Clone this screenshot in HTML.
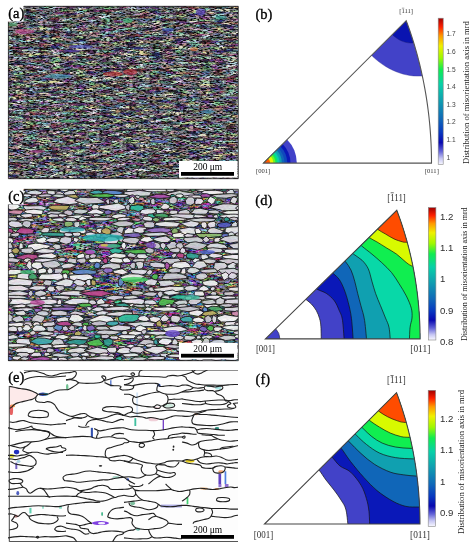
<!DOCTYPE html>
<html><head><meta charset="utf-8"><title>figure</title>
<style>html,body{margin:0;padding:0;background:#fff;}body{width:474px;height:550px;overflow:hidden;position:relative;}svg{position:absolute;left:0;top:0;display:block;}</style>
</head><body>
<svg width="474" height="550" viewBox="0 0 474 550"><defs><clipPath id="cb"><path d="M263.5,163.1 L431.5,163.1 L431.49,159.81 L431.45,156.52 L431.38,153.22 L431.29,149.92 L431.18,146.62 L431.03,143.32 L430.86,140 L430.67,136.68 L430.45,133.35 L430.2,130.02 L429.92,126.67 L429.61,123.31 L429.28,119.94 L428.92,116.55 L428.52,113.15 L428.1,109.74 L427.65,106.31 L427.16,102.86 L426.64,99.39 L426.09,95.91 L425.5,92.4 L424.88,88.87 L424.22,85.32 L423.53,81.75 L422.79,78.15 L422.02,74.53 L421.21,70.88 L420.35,67.2 L419.45,63.5 L418.51,59.76 L417.51,56 L416.47,52.21 L415.38,48.39 L414.24,44.53 L413.05,40.65 L411.8,36.73 L410.49,32.78 L409.12,28.79 L407.69,24.78 L406.2,20.72Z"/></clipPath><linearGradient id="gb" x1="0" y1="1" x2="0" y2="0"><stop offset="0" stop-color="#f8f8ff"/><stop offset="0.04" stop-color="#c8c8f4"/><stop offset="0.09" stop-color="#6464d8"/><stop offset="0.15" stop-color="#0808b0"/><stop offset="0.22" stop-color="#0838c0"/><stop offset="0.31" stop-color="#1068b8"/><stop offset="0.44" stop-color="#10a0b0"/><stop offset="0.55" stop-color="#08d0a8"/><stop offset="0.65" stop-color="#10ec50"/><stop offset="0.73" stop-color="#a0f800"/><stop offset="0.81" stop-color="#f0f000"/><stop offset="0.88" stop-color="#ff9800"/><stop offset="0.94" stop-color="#ff2000"/><stop offset="1" stop-color="#a00000"/></linearGradient><clipPath id="cd"><path d="M265.4,338.9 L420.08,338.9 L420.07,335.93 L420.03,332.95 L419.97,329.98 L419.89,327 L419.78,324.02 L419.65,321.03 L419.5,318.04 L419.32,315.04 L419.11,312.03 L418.88,309.02 L418.63,306 L418.35,302.96 L418.04,299.92 L417.7,296.86 L417.34,293.79 L416.95,290.71 L416.53,287.61 L416.09,284.49 L415.61,281.36 L415.1,278.21 L414.56,275.04 L413.99,271.86 L413.38,268.65 L412.74,265.42 L412.07,262.17 L411.35,258.9 L410.6,255.6 L409.82,252.28 L408.99,248.94 L408.12,245.57 L407.2,242.17 L406.25,238.75 L405.24,235.29 L404.19,231.81 L403.09,228.3 L401.94,224.76 L400.74,221.19 L399.48,217.6 L398.16,213.97 L396.79,210.31Z"/></clipPath><linearGradient id="gd" x1="0" y1="1" x2="0" y2="0"><stop offset="0" stop-color="#f8f8ff"/><stop offset="0.04" stop-color="#c8c8f4"/><stop offset="0.09" stop-color="#6464d8"/><stop offset="0.15" stop-color="#0808b0"/><stop offset="0.22" stop-color="#0838c0"/><stop offset="0.31" stop-color="#1068b8"/><stop offset="0.44" stop-color="#10a0b0"/><stop offset="0.55" stop-color="#08d0a8"/><stop offset="0.65" stop-color="#10ec50"/><stop offset="0.73" stop-color="#a0f800"/><stop offset="0.81" stop-color="#f0f000"/><stop offset="0.88" stop-color="#ff9800"/><stop offset="0.94" stop-color="#ff2000"/><stop offset="1" stop-color="#a00000"/></linearGradient><clipPath id="cf"><path d="M264.5,524 L419.95,524 L419.93,520.96 L419.9,517.93 L419.84,514.89 L419.76,511.85 L419.65,508.8 L419.52,505.75 L419.36,502.7 L419.18,499.63 L418.97,496.56 L418.74,493.49 L418.49,490.4 L418.2,487.3 L417.89,484.19 L417.56,481.07 L417.19,477.93 L416.8,474.78 L416.38,471.62 L415.93,468.44 L415.45,465.24 L414.94,462.02 L414.4,458.79 L413.82,455.53 L413.21,452.26 L412.57,448.96 L411.89,445.64 L411.18,442.3 L410.42,438.94 L409.63,435.55 L408.8,432.13 L407.92,428.69 L407.01,425.22 L406.04,421.72 L405.04,418.19 L403.98,414.64 L402.87,411.05 L401.72,407.44 L400.51,403.8 L399.24,400.12 L397.92,396.41 L396.54,392.68Z"/></clipPath><linearGradient id="gf" x1="0" y1="1" x2="0" y2="0"><stop offset="0" stop-color="#f8f8ff"/><stop offset="0.04" stop-color="#c8c8f4"/><stop offset="0.09" stop-color="#6464d8"/><stop offset="0.15" stop-color="#0808b0"/><stop offset="0.22" stop-color="#0838c0"/><stop offset="0.31" stop-color="#1068b8"/><stop offset="0.44" stop-color="#10a0b0"/><stop offset="0.55" stop-color="#08d0a8"/><stop offset="0.65" stop-color="#10ec50"/><stop offset="0.73" stop-color="#a0f800"/><stop offset="0.81" stop-color="#f0f000"/><stop offset="0.88" stop-color="#ff9800"/><stop offset="0.94" stop-color="#ff2000"/><stop offset="1" stop-color="#a00000"/></linearGradient><filter id="na" x="8" y="6" width="230" height="173" filterUnits="userSpaceOnUse" color-interpolation-filters="sRGB">
<feTurbulence type="fractalNoise" baseFrequency="0.08 0.32" numOctaves="2" seed="11" result="t1"/>
<feComponentTransfer in="t1" result="c"><feFuncR type="discrete" tableValues="0.12 0.12 0.5 0.9 0.9"/><feFuncG type="discrete" tableValues="0.14 0.14 0.5 0.86 0.86"/><feFuncB type="discrete" tableValues="0.2 0.2 0.58 0.95 0.95"/><feFuncA type="linear" slope="0" intercept="1"/></feComponentTransfer>
<feColorMatrix in="c" type="saturate" values="0.36" result="c2"/>
<feTurbulence type="fractalNoise" baseFrequency="0.3 0.85" numOctaves="2" seed="5" result="t2"/>
<feColorMatrix in="t2" type="matrix" values="0 0 0 3.1 -0.8 0 0 0 3.1 -0.8 0 0 0 3.1 -0.8 0 0 0 0 1" result="b"/>
<feComposite in="c2" in2="b" operator="arithmetic" k1="1" k2="0" k3="0" k4="0.02" result="m"/>
<feGaussianBlur in="m" stdDeviation="0.55"/>
</filter><filter id="nc" x="8" y="189" width="230" height="172" filterUnits="userSpaceOnUse" color-interpolation-filters="sRGB">
<feTurbulence type="fractalNoise" baseFrequency="0.08 0.32" numOctaves="2" seed="21" result="t1"/>
<feComponentTransfer in="t1" result="c"><feFuncR type="discrete" tableValues="0.12 0.12 0.5 0.9 0.9"/><feFuncG type="discrete" tableValues="0.14 0.14 0.5 0.86 0.86"/><feFuncB type="discrete" tableValues="0.2 0.2 0.58 0.95 0.95"/><feFuncA type="linear" slope="0" intercept="1"/></feComponentTransfer>
<feColorMatrix in="c" type="saturate" values="0.75" result="c2"/>
<feTurbulence type="fractalNoise" baseFrequency="0.3 0.85" numOctaves="2" seed="9" result="t2"/>
<feColorMatrix in="t2" type="matrix" values="0 0 0 3.0 -0.7 0 0 0 3.0 -0.7 0 0 0 3.0 -0.7 0 0 0 0 1" result="b"/>
<feComposite in="c2" in2="b" operator="arithmetic" k1="1" k2="0" k3="0" k4="0.02" result="m"/>
<feGaussianBlur in="m" stdDeviation="0.55"/>
</filter><filter id="nc2" x="8" y="189" width="230" height="172" filterUnits="userSpaceOnUse" color-interpolation-filters="sRGB">
<feTurbulence type="fractalNoise" baseFrequency="0.08 0.32" numOctaves="2" seed="31" result="t1"/>
<feComponentTransfer in="t1" result="c"><feFuncR type="discrete" tableValues="0.12 0.12 0.5 0.9 0.9"/><feFuncG type="discrete" tableValues="0.14 0.14 0.5 0.86 0.86"/><feFuncB type="discrete" tableValues="0.2 0.2 0.58 0.95 0.95"/><feFuncA type="linear" slope="0" intercept="1"/></feComponentTransfer>
<feColorMatrix in="c" type="saturate" values="0.75" result="c2"/>
<feTurbulence type="fractalNoise" baseFrequency="0.3 0.85" numOctaves="2" seed="19" result="t2"/>
<feColorMatrix in="t2" type="matrix" values="0 0 0 3.0 -0.7 0 0 0 3.0 -0.7 0 0 0 3.0 -0.7 0 0 0 0 1" result="b"/>
<feComposite in="c2" in2="b" operator="arithmetic" k1="1" k2="0" k3="0" k4="0.02" result="m"/>
<feGaussianBlur in="m" stdDeviation="0.55"/>
</filter><filter id="bl" x="8" y="189" width="230" height="172" filterUnits="userSpaceOnUse" color-interpolation-filters="sRGB"><feGaussianBlur stdDeviation="0.5"/></filter><filter id="bls" x="-20%" y="-50%" width="140%" height="200%"><feGaussianBlur stdDeviation="0.7"/></filter><clipPath id="clc"><rect x="8" y="189" width="230" height="172"/></clipPath><clipPath id="cle"><rect x="8" y="370" width="230.5" height="172"/></clipPath><filter id="ble" x="8" y="370" width="230" height="172" filterUnits="userSpaceOnUse"><feGaussianBlur stdDeviation="0.3"/></filter></defs><rect x="8" y="6" width="230" height="173" fill="#333" filter="url(#na)"/><g filter="url(#bls)" opacity="0.6"><ellipse cx="25" cy="31.5" rx="9.7" ry="2.5" fill="#d04090"/><ellipse cx="80.85" cy="46.65" rx="12.15" ry="1.85" fill="#5050c8"/><ellipse cx="72.3" cy="50.85" rx="8.5" ry="1.15" fill="#7050c0"/><ellipse cx="112.85" cy="73.95" rx="10.15" ry="2.45" fill="#c83030"/><ellipse cx="130.3" cy="72" rx="7.3" ry="3" fill="#c83030"/><ellipse cx="57.7" cy="76.4" rx="13.3" ry="2.4" fill="#4090b0"/><ellipse cx="12.85" cy="24.8" rx="4.85" ry="1.8" fill="#40a060"/><ellipse cx="200.65" cy="12.05" rx="4.85" ry="3.65" fill="#6040c8"/><ellipse cx="167.9" cy="29.65" rx="6.1" ry="1.85" fill="#4050c8"/><ellipse cx="221" cy="17.5" rx="6" ry="1.8" fill="#30a0a0"/><ellipse cx="127.85" cy="20.5" rx="4.85" ry="2.5" fill="#40c080"/><ellipse cx="194" cy="49" rx="4" ry="2" fill="#e08040"/><ellipse cx="70" cy="121.5" rx="10" ry="1.5" fill="#40b080"/><ellipse cx="159" cy="141.5" rx="9" ry="1.5" fill="#5060d0"/><ellipse cx="37.5" cy="151.5" rx="7.5" ry="1.5" fill="#c05090"/><ellipse cx="207.5" cy="111.5" rx="7.5" ry="1.5" fill="#40a0c0"/></g><rect x="8" y="189" width="230" height="172" fill="#333" filter="url(#nc)"/><g clip-path="url(#clc)"><g filter="url(#bl)" stroke="#141414" stroke-width="0.9" stroke-linejoin="round"><polygon points="13.1,191.1 10.5,191.5 7.1,191.5 4.8,190.8 4.2,189.5 5.5,187.4 8.5,187.5 11,187.4 11.8,189" fill="#d6d6dc"/><polygon points="60.2,189 56.6,190.5 54.3,190.6 49.1,189.8 47.8,189.6 49.5,187.3 53.4,186.8 54.6,187.1 60.4,187.8" fill="#e8e8ee"/><polygon points="66.9,188.2 68.7,188.6 68.8,190.4 67.2,191.1 65.1,191.8 61.4,190.9 58.9,189.7 60.7,188.7 62.9,188" fill="#fcfcfc"/><polygon points="85.4,189 84.4,188.2 86.9,186.2 90,187 92.5,187.3 91.8,189.1 90.9,191.1 89.7,191 85.9,190.9" fill="#fcfcfc"/><polygon points="91.8,189.1 91.6,188 94,186.8 97.1,187.3 97.3,189 95.9,190.3 94.8,190.7" fill="#e0e0e6"/><polygon points="106.8,186.9 111.5,186 121.3,186.5 125.9,187.8 123.3,190.4 118,190.7 109.6,190.9 105.9,189.9 104.8,189.2" fill="#d8d8de"/><polygon points="143.7,188.5 143.7,190.1 140.8,190.8 130.8,192 125.8,191 127.1,189.4 127.7,188.4 133,187.3 142,187.7" fill="#f0f0f2"/><polygon points="156.4,191.8 148.2,192 142.9,190.3 142.1,188.6 149.1,187.1 157.5,187.5 165.2,188.6 167.4,190.5 165.4,191.8" fill="#f0ecf4"/><polygon points="174.5,189.1 174.7,190.5 172.7,191.5 169.8,191.9 169.1,191.7 166.2,190.7 166.5,188.7 169.4,188.4 171.3,187.5" fill="#d6d6dc"/><polygon points="192.8,188.8 191.9,190 186.2,191.1 181.5,190.8 175.2,189.9 175.8,189.3 178.8,187.3 181.4,186.6 188.9,187.5" fill="#d8d8de"/><polygon points="194.8,186.7 197.4,188.4 197.2,190.3 192.7,191.4 190.2,190.1 190,188.5 193,186.6" fill="#48a868"/><polygon points="211.7,188.5 215.5,189.9 215.5,190.7 207.3,192.1 200.7,191.6 197.2,190.7 194.9,189.4 200.6,188.7 206.9,187.8" fill="#f8f8f8"/><polygon points="221.6,189.1 221.7,190 217.2,191 215.2,190.6 214.1,189 215.9,187.5 220.7,187.5" fill="#7c68c0"/><polygon points="223.4,191.2 221.9,189.3 222.6,188.2 225.1,185.9 226.8,186.6 228,188.8 225.8,190.8" fill="#30a090"/><polygon points="237.9,190.9 237.3,191.1 230.3,191.5 228.2,190.1 228.4,189.5 229.3,187.3 233.3,187.5 238.5,188.3 240.1,189.7" fill="#d6d6dc"/><polygon points="243.5,192.3 240.6,191.4 239.4,189.6 240.1,188.9 242.5,188.4 245.2,187.3 248.2,189.5 248.7,190.2 246,191.9" fill="#d8d8de"/><polygon points="7.1,194.6 2.3,192.7 5.2,191.6 8.5,191.1 11.8,190.1 15.5,191.3 15.9,192.5 15.9,194.4 11.3,195" fill="#e4e4e8"/><polygon points="20.6,190.2 25.3,190.6 25.6,191.2 25.8,192.9 25.4,193.5 21.9,194.1 19.1,193.6 18.9,192.8 18.9,191.2" fill="#e0e0e6"/><polygon points="28.8,194.4 24.7,192.7 27.1,192.1 30.7,190.6 35.4,190.1 39.2,191.1 42.8,192.3 40.2,194.7 36.5,195" fill="#e0e0e6"/><polygon points="47.3,192.3 46.4,191 49.8,190.6 55.1,190.7 55.1,192.4 55.5,194.8 51.6,195 50.1,195.8 47.8,194.4" fill="#e8e8ee"/><polygon points="57.7,191.8 60.1,191.5 62.5,192.6 63.4,193.4 64.4,194.4 61.7,195.6 59.1,195.9 56.9,195.3 55.1,193.9" fill="#f0f0f2"/><polygon points="69.6,195.3 65.6,195.2 63.3,193.6 65.1,192 69.3,190.5 73.5,190.5 75,191.9 75.9,193.3 74.3,194.7" fill="#e0e0e6"/><polygon points="103.7,192.1 104.5,192.7 100.5,194.2 95.6,194.6 90.3,193.2 89.9,192.4 90.9,191.6 94.8,190.4 98.6,190.2" fill="#40b0b0"/><polygon points="102.2,191.9 105.1,190.7 107.7,190.3 114.9,190.5 120.1,191.3 124.1,193.1 117.8,195.1 112.4,195.1 103.6,193.6" fill="#6090d0"/><polygon points="124.3,191.8 132.1,191.3 138.9,190.3 151.8,192.1 150.5,193.5 149.8,195.9 140.4,196.2 129.4,196.2 123.9,194.9" fill="#e0e0e6"/><polygon points="192.5,193 195.3,194.6 187.1,196.8 176.2,196.7 170.6,196.2 164.7,194.6 169.2,192.9 179.6,190.5 183.1,191.6" fill="#d8d8de"/><polygon points="221.5,194.2 209.7,194.6 206.6,194.7 200.9,192.7 204.2,190.6 215.4,190.3 220.3,190.9 223.2,191.7 223.5,194" fill="#fcfcfc"/><polygon points="230.8,189.3 233,189.6 234.2,192.1 234.3,192.7 233.2,195 229.5,195.4 227.3,194.2 226,192.7 227.7,191.1" fill="#f0f0f2"/><polygon points="27.1,197.2 24.5,196.6 22.1,195.7 23.3,194.9 24.9,193.8 29.2,194.1 31.8,194.9 31.4,196.2 28.9,196.6" fill="#fcfcfc"/><polygon points="35.4,195 36.8,196.4 36.3,198.4 34,198.1 32.5,197.7 31.3,196.6 32.7,195.2" fill="#d8d8de"/><polygon points="52.8,195.5 49.1,196.8 46.9,196.9 41.7,197.1 37.8,196.4 38.5,195 41.4,194.3 47,193.8 51.1,194.5" fill="#d6d6dc"/><polygon points="56,194 60.9,194.2 64.2,195.2 64.9,196.4 63.3,197 60.1,197.7 52.2,196.7 51.1,196.2 54.2,194.8" fill="#d8d8de"/><polygon points="66,195.3 71.6,194.8 75.6,194.5 78.1,196.5 79,198 73.9,198.1 70.5,198.7 67.3,197.1 65.3,196.5" fill="#c0b060"/><polygon points="88.6,196.5 90.3,195.4 95,194.1 107,193.7 110.8,194.3 119.9,195.6 113,196.4 107.8,197.4 97.9,197.3" fill="#50c050"/><polygon points="115,194.6 120.2,194.4 126,194.4 130.1,195.9 128,196.4 124.1,197.4 119.5,197.4 113.7,196.6 113.7,195.4" fill="#e4e4e8"/><polygon points="130.9,198.1 129.2,197.2 129.4,195.9 132.3,194.8 133.7,195.2 135.4,196.4 133,197.9" fill="#9870c8"/><polygon points="138.8,198.6 137,198.2 135.2,197.1 135.7,195.3 137.7,195.3 139.5,195.9 140.3,196.9" fill="#d6d6dc"/><polygon points="154.1,195.2 156,194.3 163.7,194.3 169.4,195.9 172,197.4 166.9,198 159,198.4 150.9,197.6 148,196.5" fill="#b050b0"/><polygon points="173.7,194.6 175.5,195.9 175.6,197.8 172.6,198.3 171.4,198 170.3,196.2 171,194.5" fill="#30a090"/><polygon points="180.4,197.9 177.5,197 175.5,196.4 176.2,194.4 177.9,194.1 181,193.8 183.1,194.8 183.5,196.2 181.6,197.2" fill="#f8f8f8"/><polygon points="202.1,196.8 200.3,198.1 196.7,198 189,198.3 184,197.4 183,196.3 190.3,195.1 195.1,195.1 200.6,195.2" fill="#f0f0f2"/><polygon points="205.2,197.2 202.6,197.2 200.4,196 200.2,195.5 202.5,194 206.6,193.6 209.7,194.7 210.6,196.3 209.1,197.2" fill="#b050b0"/><polygon points="236.9,195.9 231.1,197.3 226.3,198.2 216.6,197.8 214.7,196.5 210.6,194.8 218.8,194.3 231.7,193.6 238.9,194.6" fill="#cfcfd6"/><polygon points="238.7,197.1 237.4,196.2 238.5,195.6 244.5,194.2 251.3,194.6 253.6,195.1 253.7,196.6 250.9,198.3 243.5,198.2" fill="#f8f8f8"/><polygon points="9.5,204 7.2,203.7 5.6,201.8 7.1,198.6 9.3,198.3 12.4,198.5 13.2,200.2 13.2,201.9 12,204.2" fill="#cfcfd6"/><polygon points="19.2,197.5 22.9,197.4 22.8,199.9 23.7,203 21.6,204.1 15.5,204.2 13,203.1 13.3,199.4 13.9,198.8" fill="#e8e8ee"/><polygon points="36,202.7 28.9,203.1 23.8,201.9 24.3,201 28,198.7 32.8,197 36.7,197.8 38.5,200.4 37.7,201.8" fill="#e8e8ee"/><polygon points="58.5,198.3 67.6,196.3 75.6,199 80.3,201 76.1,203.8 69.3,204.6 60,203.6 53.3,202.1 56.9,198.6" fill="#f0ecf4"/><polygon points="85.5,204.2 80.5,202.7 74.8,200.7 80.4,197.2 88.5,197.7 97,197.4 103.3,200.7 106.4,202.5 98.4,203.5" fill="#d6d6dc"/><polygon points="107.1,203.8 105.7,201.2 106,199.9 108.2,198.7 109.3,199.6 109.6,202.7 108.7,205" fill="#d6d6dc"/><polygon points="118.2,199.5 118.7,203.7 116.1,204.9 114.7,202.7 113.2,201.6 114.8,199.2 117.6,199" fill="#e0e0e6"/><polygon points="134.3,198.1 134.9,200.9 133.8,203.2 131.4,204.1 127.7,201.1 128.7,199.3 132.4,196.3" fill="#f0f0f2"/><polygon points="153.6,198.2 155.1,200.1 155,204.5 152.7,204.7 150.7,203.4 150.6,199.8 152.5,198.6" fill="#d8d8de"/><polygon points="171.9,196.8 174.4,196.2 177.3,198.7 177.1,201.8 175,203.5 173.1,204.1 169.3,202.9 169,199.5 170.4,197.8" fill="#cfcfd6"/><polygon points="185.8,203 185.3,200.6 188,197 192.2,196.9 194.6,199.1 194.5,202 194.6,203.4 190.7,205.4 186.3,204.5" fill="#d6d6dc"/><polygon points="203.2,200.1 203.9,201.6 200.8,204.5 197.8,204.3 195,204.7 194.8,201.8 196,199.8 196.4,198 201.3,198.5" fill="#f0ecf4"/><polygon points="207.4,201.6 207.2,200.5 209.9,196.7 210.9,196.6 214.4,198.4 215.5,199.6 214.7,202.2 211.7,204.6 210.8,203.8" fill="#f8f8f8"/><polygon points="237.5,198.2 237.1,201.5 234.7,204.1 232.8,203.5 230.1,201.8 231.3,198.4 233.9,196.6" fill="#e8e8ee"/><polygon points="252.9,200.7 253.1,202.9 244.7,204.3 240.9,203 236.2,201.6 239.6,199.2 242.8,198.5 244.6,198.3 252.9,198.9" fill="#50c050"/><polygon points="10.9,204.1 17.1,204.3 20.5,206.1 18.1,208.6 14,210.5 11,210.1 7.9,208.6 4.4,206.6 6.3,204.8" fill="#fcfcfc"/><polygon points="29,205.9 41,205.6 48,207.9 46.3,208.6 43.1,210.4 31.9,211.1 26.5,210.4 23.9,208.2 23.2,205.7" fill="#e4e4e8"/><polygon points="52.9,205.2 58.9,205.2 70.3,205.6 69.6,206.1 67.3,209.5 66.3,210.1 55,210.1 51.4,209.4 47.4,206.7" fill="#c0b060"/><polygon points="100.2,207.4 97.2,209.9 95.9,211.2 93.6,210.5 91.5,206.9 92.4,205.3 94.4,204.3 98,204.7 99.1,205.9" fill="#f0f0f2"/><polygon points="130.8,207.3 123,209.3 116,211.2 109.1,210.1 98.7,208.1 99.4,205.8 113.6,203.9 118.3,203.1 125.2,205.8" fill="#f0ecf4"/><polygon points="128.4,210.5 126,209.1 125.2,206.6 126.6,205 129,204 130.1,206.1 129.6,210" fill="#cfcfd6"/><polygon points="131.4,210.3 129.9,208.2 130.8,205.7 138.1,204.8 143.4,205.7 144,208.5 144.1,209.6 138.1,211.5 133.5,210.1" fill="#30c0a0"/><polygon points="169.7,205.6 169.6,206.5 169,208.3 166.4,209.2 163.1,209.4 160.2,207.6 162.2,205.1 163.9,203.5 166,203.3" fill="#f0f0f2"/><polygon points="234.6,210.9 222.4,210.7 220.1,209.8 209.9,207.8 214.6,205.9 222.9,203.9 228.7,203.8 239.7,205 243.8,207.6" fill="#e0e0e6"/><polygon points="244.3,211 239.2,210.2 236.3,209.1 235.7,207.8 239.7,205.1 245.4,204.6 247.6,205.9 249.6,208.5 250.1,210.3" fill="#f0f0f2"/><polygon points="20.7,214.2 19.1,214.6 12.1,213.9 8.6,213.1 7.3,211.3 13.5,209.9 15.7,209.9 21.4,210.2 23.1,211.7" fill="#d890b0"/><polygon points="26.9,209.9 33.7,209.2 43,210.2 42.9,212.8 41.7,214.6 35.6,214.3 28.9,214.4 25.7,212.7 23.5,211.1" fill="#fcfcfc"/><polygon points="57.8,214.6 53.6,214.9 48.3,214.6 45,212.7 49.3,211.8 49.6,211.1 57.9,211.2 61.5,212.2 63.7,213.2" fill="#d8d8de"/><polygon points="66.1,214.9 63.6,213.3 64,211.9 64.4,211.1 67.4,209.9 71.2,210.4 73.2,213.2 71.4,215.3 69.7,215.7" fill="#cfcfd6"/><polygon points="88,210.1 88.8,211.1 85.8,213 81.5,214.2 74.2,213.4 73.6,211.9 74.2,210.2 78.5,208.9 80.8,209.1" fill="#d6d6dc"/><polygon points="104.8,213.1 101.3,214.2 94.8,214.3 88.2,213.7 87,212.1 89.3,211.4 93.1,209.2 96.7,208.9 102.4,211.3" fill="#fcfcfc"/><polygon points="106.1,214.5 104.7,213.4 103.9,211 106.2,210.4 108.3,209.8 110.8,210.7 112.1,211.6 111.9,213.1 108.2,214.7" fill="#7c68c0"/><polygon points="156.3,211.6 154.2,213 151.7,214.5 145.3,214.4 139.5,213.2 140.3,211.9 141.8,209.6 147.7,208.6 154.1,209" fill="#f0f0f2"/><polygon points="164.2,210.9 163.8,213.4 160,214.5 157.2,214.4 156.2,212 156.1,210.6 157.6,209 159.4,209.6 163.9,210.3" fill="#f0ecf4"/><polygon points="178,210.9 177.7,213.2 178.3,213.7 175.5,214.9 170.8,214.2 169.7,213.4 168.7,211.9 171.7,210.1 175.9,210.3" fill="#e4e4e8"/><polygon points="181.2,215.3 177.7,213.6 178.3,211.9 180.5,210.5 186.1,209.2 189.3,211 190.4,213.1 187.9,215.2 182.9,215.6" fill="#d8d8de"/><polygon points="192.8,211.3 194.1,209 200.3,208.3 208.6,210.1 208.9,210.8 206.2,214.2 203.5,214.2 196.3,214.2 189.9,212.8" fill="#e0e0e6"/><polygon points="212.9,210 215.7,209.9 220.2,211.8 219.5,212.7 217.4,213.9 214.2,213.8 208.8,213.1 208,212 208.8,210.5" fill="#d8d8de"/><polygon points="229.6,214.7 220.7,213 226.2,211.1 228.4,210.7 237.2,210.5 246.7,211.5 248,212.4 242.7,214.4 235.2,216" fill="#fcfcfc"/><polygon points="8,214.5 9,215.8 7.6,216.7 5,217.6 4.1,216.4 4.1,215.1 6.4,213.3" fill="#fcfcfc"/><polygon points="18.8,217.9 16.9,217.3 16.1,216.3 17.6,214.9 19.9,214.7 21.5,216.6 20.8,217.7" fill="#e0e0e6"/><polygon points="30.2,213.5 33,214.6 32,215.9 33.1,216.7 29.2,217.4 25.2,218 20.2,215.7 22.8,214.1 24.6,213.8" fill="#f0ecf4"/><polygon points="54.9,214.1 59.1,214.3 60.5,215.5 58.1,217.2 52.6,217.3 50.1,217.6 47.9,216.5 47.8,215.3 51,213.6" fill="#e4e4e8"/><polygon points="58.4,216.4 58.4,214.4 60.2,213.7 63.5,214.1 66.9,214.4 67.2,215.7 64.6,216.8 62.2,217.2 60.2,216.8" fill="#f0f0f2"/><polygon points="92.7,216 90.6,217.1 86.3,218.2 80.3,218.6 71.7,218.6 64.7,216.9 69.3,215.9 75,215.1 80.2,214.8" fill="#f0f0f2"/><polygon points="94,214 97,213.6 97.9,214 101.1,215.6 100,216.5 97.2,216.8 94.8,216.7 93.8,216.1 92.9,214.4" fill="#e0e0e6"/><polygon points="120.4,213.8 125.7,214.6 126.4,216.2 125,217.5 115.4,218.6 110.5,217.3 111.8,216.7 112.8,215.1 117.5,213.9" fill="#fcfcfc"/><polygon points="147.7,216.7 147.2,215.2 148.2,214 153,213.9 154.4,215.6 155.9,215.9 154.2,217.8 150.9,217.7 147.5,217.6" fill="#30c0a0"/><polygon points="155.9,214 162.4,213.1 164.6,213.4 169,215.2 168,217.1 165.6,217.4 160.7,217.2 156.5,216.5 153.5,215.4" fill="#48a868"/><polygon points="167.8,215.2 176.6,213.9 190.7,214.1 197,215.7 194.8,217.4 191.7,218.5 184.9,219 173.1,218.1 172.4,216.9" fill="#e4e4e8"/><polygon points="193.6,217 194.2,215.1 195.2,214.6 201.6,215 207.2,215.9 205.7,216.9 202,217.6 198.7,218 194,217.5" fill="#f8f8f8"/><polygon points="206.8,215.2 209,214.5 211.4,214.5 213.3,215.6 213.5,216.3 213,217.1 211.1,217.9 209,217.8 207.5,216.6" fill="#9870c8"/><polygon points="217.1,218.1 214.5,218.1 213.4,216.7 213.8,215.3 216.9,214.4 217.5,215.7 218.6,217.5" fill="#f0ecf4"/><polygon points="230.4,214.2 235.1,214.2 246.9,215.1 246.5,216.2 242.3,218.5 231.6,218.5 224.6,218.1 219.5,216.7 220.6,215.1" fill="#f0f0f2"/><polygon points="14.1,221.6 6.8,221 5.5,219.5 5.1,218.8 8.6,217.8 13.9,217.2 17,218.4 17.6,220 15.1,221.5" fill="#d6d6dc"/><polygon points="28,221.9 23.4,221.6 17.1,220.5 19,219.6 22.8,218.5 28.9,218.4 33.1,218.8 33.5,219.7 35.4,220.9" fill="#e0e0e6"/><polygon points="55.3,218.2 61.1,217.7 63.4,219.2 66.4,219.9 61.1,221.8 57.3,221.2 54.2,220.7 52.9,220 51.1,218.6" fill="#f0f0f2"/><polygon points="73.7,221.4 69.6,222.1 64.8,220.4 64.5,219.7 67.5,217.8 71.7,217.5 74.1,217.8 76.3,218.9 77.7,220.5" fill="#f0ecf4"/><polygon points="78.6,218.4 81,216.9 82.3,216.2 84.9,217.4 86.9,218.1 86.4,219.2 82.6,220 80.9,220.7 77.9,219.4" fill="#f8f8f8"/><polygon points="86.1,217.9 96.6,217.2 107.6,217.4 114.7,218.5 112.9,219.2 105,220.9 98,220.9 88,220.1 89.6,218.9" fill="#e8e8ee"/><polygon points="124,220.7 122,221.1 117.6,220.6 117.2,219 118.9,218 123.4,217.3 128.5,217.6 131.8,218.7 128.5,219.8" fill="#f0ecf4"/><polygon points="133.1,220.6 130.6,219.7 134.3,218.4 135.4,217.7 139.6,218.6 141.1,219.4 141.1,220.3 137.9,221.5 136.1,221.3" fill="#d890b0"/><polygon points="142.5,218.3 144.6,216.3 149,216.3 151.5,217.3 152.6,218.2 152.8,220.5 150,221.2 145.7,220.8 141.7,219.3" fill="#e8e8ee"/><polygon points="152.6,220.3 152.4,218.8 155.8,217.4 159.4,218.5 159.7,219.8 157.6,221.9 155.3,221.8" fill="#90c070"/><polygon points="179,220.3 165,220.9 162.7,219.4 161.6,219.1 165.3,217.7 175.9,216.9 182.9,218.1 187.1,218.6 186.5,220.4" fill="#f0f0f2"/><polygon points="191.6,218.9 200.6,218 206.1,218.1 216.5,218.7 213.8,221 211.9,221.4 203.7,222.2 189.7,221.8 184,220.2" fill="#d8d8de"/><polygon points="228.1,221.1 225.8,221.5 223.9,220.2 224.2,218.2 226.4,216.9 228.9,218.1 229.8,220" fill="#30a090"/><polygon points="229.8,218.6 229.7,217.9 234.1,217 235,217.3 237.8,217.7 238.3,219.6 237.4,220 234.7,220.7 230.8,219.6" fill="#d8d8de"/><polygon points="241.7,220.2 237.9,219.2 237.6,217.9 241.3,216.2 247.3,216.6 251.4,216.8 252.9,218 253,220 248.6,221.2" fill="#e8e8ee"/><polygon points="22,223.4 24.3,224 22.3,226.9 15.5,227.7 11.8,226.9 9.4,226 7.9,222.9 11.3,220.8 18.2,221.2" fill="#e8e8ee"/><polygon points="23.9,226.5 22,224.3 23.5,221.1 26.8,220.6 29.7,221.2 30.6,221.7 31.2,223.8 30.2,226.3 27.7,228" fill="#cfcfd6"/><polygon points="71.5,221.5 73,223.3 73,225.4 69,226.8 67.5,227 64.3,226.2 64.3,223.3 65.3,221.6 68.7,221.3" fill="#90c070"/><polygon points="79.7,224 80.3,225.2 77.5,227.5 75.7,227.5 74.2,226 73.8,223.5 74.4,222 76.4,221.7 79.6,221.5" fill="#d8d8de"/><polygon points="114.7,225.1 109.5,224.2 115.4,222.2 118.8,221.1 126.2,220.8 134.5,222.9 132.5,225.1 130.5,225.9 120.4,227.1" fill="#cfcfd6"/><polygon points="144.6,226.4 143,223.4 147,221.6 152.8,221.8 154.8,223.5 155,224.8 154.6,227 151.2,227.9 145.2,227.6" fill="#d6d6dc"/><polygon points="173.5,221.9 180.5,222.9 178.9,224.9 176.8,226.9 168,227 159.8,226.3 154.4,224.8 156.6,222.4 165.8,221.4" fill="#f0f0f2"/><polygon points="199.2,224 196.5,226.2 193.6,227.2 188.2,227 182.5,224.5 180.3,223.4 188.7,221.5 190.9,220.7 199,222.3" fill="#f0ecf4"/><polygon points="201.5,222.2 205.3,221.7 207,224.1 207,226.5 204.8,228.7 201.7,227 201,224.3" fill="#f8f8f8"/><polygon points="216.1,226.7 210.1,228.4 208.8,226.7 207.3,224.8 208.5,222.6 210.3,221.9 214.5,221.3 215.8,223.4 215.4,224.5" fill="#f0ecf4"/><polygon points="226.8,222.1 232.9,224.4 230.1,226.1 229.8,227.7 223,227.9 219.6,227.6 217.3,225.2 217.7,223.8 221,222.8" fill="#5058c0"/><polygon points="231.6,224.3 233.3,222.8 235.5,221.5 237.4,223.4 237.1,227.1 235.4,227.7 231.7,226.8" fill="#e4e4e8"/><polygon points="239.7,226.2 237.5,223.9 238.6,220.8 240.7,221 242.5,221.7 244.1,225.4 242.4,226.6" fill="#f0f0f2"/><polygon points="4.7,230.1 6.3,229.4 8,228 12.1,229 13,230.8 13.2,231.8 10.2,234.5 9.2,233.7 6.5,232.4" fill="#c04890"/><polygon points="24.8,234.2 15.3,232.7 16.4,231.5 19.1,228.9 21,227.7 28.9,228.2 35,230.3 33.7,231.1 32.9,233.7" fill="#c04890"/><polygon points="45.1,227.3 48.9,227.8 49.6,229.2 48.8,231.6 47.4,233.3 44.4,233.1 40.9,231.9 40.6,230.8 43.3,228.2" fill="#e4e4e8"/><polygon points="68.6,232.8 66.4,232.9 61.9,233.8 59.3,232.1 59.2,230.5 62.1,227.3 63.7,228.1 68.5,229.2 69.6,230" fill="#e8e8ee"/><polygon points="80,233.6 71.8,232.4 69.8,231.5 70.1,229.9 77.7,228.4 79.7,228.5 85.4,228.7 86.3,232.5 83.5,233.6" fill="#f8f8f8"/><polygon points="95.8,229.7 98.1,228.5 101.6,228 102.8,229.7 100.7,233.4 99.4,233.6 96.5,231.7" fill="#f8f8f8"/><polygon points="101.1,230.2 103,228.9 105.4,227.7 107.7,228 111.1,230.2 110.7,232.7 109.8,234.2 106.8,234.5 102.5,233.1" fill="#c0b060"/><polygon points="122.8,232.3 121.2,234.5 119.1,233.3 116.7,231.5 116.8,229.4 118.1,227.3 121,226.5 124.6,227.5 123.8,229.1" fill="#d6d6dc"/><polygon points="124.1,233.5 124.4,230.7 128.5,227.6 129.6,227.8 134.8,228.7 135.4,231.6 135.6,233.1 129.5,234.9 127.4,235.2" fill="#f8f8f8"/><polygon points="133,231.7 133.7,229.6 134.4,228.5 138.9,226.8 145.1,227.3 147.8,229.8 145.7,230.8 142.3,233.1 139,233.3" fill="#f0f0f2"/><polygon points="143.6,230 154.7,227.8 163.5,227.7 169.4,228.7 171.5,230.5 167.6,232.7 160.7,232.8 153,232.9 147.7,231.2" fill="#9870c8"/><polygon points="171.3,231.2 172.5,229.5 174.6,228.1 175.7,228.3 178.1,229.7 178.2,233 177.6,234.6 174.6,235.1 172.5,234.1" fill="#90c070"/><polygon points="179.5,233.7 181.2,231.8 178.6,229.2 183.4,228.4 189.3,227.3 195.9,228.2 197.1,232.5 195,234.3 187,234.8" fill="#f0f0f2"/><polygon points="197.5,235.1 195.9,234.3 194.8,229.8 196.1,228.4 198.6,228.3 201.4,231 201.2,232.6" fill="#fcfcfc"/><polygon points="222.1,232.9 217.9,234.8 212.4,234.7 207.7,232 207.7,229.7 210.8,227.9 214.1,227.6 219.4,229.4 223.4,231.1" fill="#e4e4e8"/><polygon points="224.9,232 225.3,229.1 226.9,227.3 237.8,226.6 243.3,228.4 248.8,230.9 240.7,233.6 234.2,234.4 229.8,233.7" fill="#f0f0f2"/><polygon points="8.3,237.2 5.1,235.4 5.1,233.8 8,232.3 10.5,232.1 11.9,234.9 10.6,236.6" fill="#cfcfd6"/><polygon points="18.5,236.1 15.7,237 12.3,236.1 10.2,235.7 11,233.8 13.3,233.3 18.3,232.4 19.3,233.7 19.4,234.8" fill="#d6d6dc"/><polygon points="44,235.7 41.3,234.6 42.6,233.1 50.3,232.4 62.4,232.9 68.7,234.1 64.9,235.4 63.6,236.3 50.6,236.3" fill="#30a090"/><polygon points="72.2,235.8 68.2,236.8 65.1,236 64.2,234.9 64.2,233.5 65.9,232.5 70.2,232.9 71.4,233.4 73.4,234.6" fill="#e8e8ee"/><polygon points="72.7,234.8 72.4,232.7 74.9,232.4 77.6,232.1 80.5,232.6 80.6,234.5 79.1,236.3 76.4,236.2 74.8,236.4" fill="#e8e8ee"/><polygon points="86.9,236.1 84.6,233.7 87.9,232.5 91,232 96.2,233.5 96.2,233.8 96.9,235.3 93.4,236.1 88,236.4" fill="#e8e8ee"/><polygon points="100.8,234.6 100.5,236.5 98.1,237.3 96,236.4 96,233.9 96.6,233.2 99,233.3" fill="#cfcfd6"/><polygon points="113.5,232.5 117.4,231.6 120.2,232.8 123,234.8 122.1,235.8 119.1,236.4 113.4,236.2 110.1,235.3 111.2,232.8" fill="#cfcfd6"/><polygon points="128.4,236.6 123.8,236.5 123.4,234 125.7,233.8 133.9,232.9 138.7,232.9 140.5,235.1 142.4,236.2 133.9,237.8" fill="#7c68c0"/><polygon points="168.8,234.7 165.6,235.3 158.8,236.1 148.8,236.3 142.6,234.7 141.6,233.8 147.7,232.9 160.4,232.2 163.1,232.3" fill="#e0e0e6"/><polygon points="184.8,237 183.5,237.3 178.1,237.6 174.7,237.8 171.8,236 173.2,233.6 180.3,232.4 183.3,233.7 185.4,235.3" fill="#f8f8f8"/><polygon points="186.2,237.3 183.6,235.6 185.1,235 187.1,233.4 190.2,233.9 194,234.4 193.4,235.2 192.9,237.2 190,237.3" fill="#e8e8ee"/><polygon points="208.9,237.7 199.1,237.4 197.8,235.8 195.1,233.6 205.6,233.5 216.1,233.4 223.4,233.6 226.8,235.4 218.4,236.6" fill="#90c070"/><polygon points="224,233.6 227.6,233.7 230.1,234.8 229.9,236 228,237.4 223.6,237.8 221.7,236.7 221.9,235.5 221.5,234.8" fill="#6878d0"/><polygon points="232.5,237 230,237.3 228.3,236 228.2,233.5 231,231.9 232.9,232.3 234.7,234.3" fill="#e8e8ee"/><polygon points="235.5,236.1 235.4,233.7 237.8,232.8 240.4,234.1 240.4,236 239.3,237.6 235.6,237.1" fill="#d8d8de"/><polygon points="241.8,234.7 243.1,232.4 245.4,232.6 250.6,232.4 253.7,235 254.7,236.4 250,238 246.9,237.6 242.2,236.3" fill="#f8f8f8"/><polygon points="11.1,243.7 8.5,242.9 6.1,242.3 5.6,240.7 7.6,237.3 10.4,237.9 12.5,238.3 13.2,240.4 13.7,241.6" fill="#f8f8f8"/><polygon points="38.7,243 36.4,241.2 35.4,239.2 38.5,238.4 44,236.7 46,238.2 47.7,239.8 47.5,242.1 42.5,243.3" fill="#fcfcfc"/><polygon points="57,242 53.9,242.7 49.7,242.3 45.5,240.7 47.1,239 51.4,237.5 54.2,237.4 58.1,238.1 62.3,240.7" fill="#f0ecf4"/><polygon points="71.7,240.3 71,242.5 69.7,243.2 66.1,244.4 59.6,242.2 59.7,240.1 61.1,237.6 65.6,236.6 71.8,237.6" fill="#e0e0e6"/><polygon points="77.8,238.3 79.2,239.3 76.6,242.5 74.8,242 73.5,240.6 73.5,237.6 75.2,237.5" fill="#f0f0f2"/><polygon points="108.3,236.7 112.5,236.8 115.3,237.1 119.1,239.7 117.1,243.3 113.1,244.1 106.9,244.3 103.9,242.4 104.2,239.7" fill="#f0f0f2"/><polygon points="119,240.3 118.5,238.2 121.4,237.1 122.2,237.2 124,239.9 122,242.1 120.5,242.1" fill="#d8d8de"/><polygon points="124.2,242.3 122.3,240.7 124.1,238.2 130,237.5 135.8,237.6 139.4,238.6 139,241.3 135.5,243.8 130.4,243.7" fill="#d6d6dc"/><polygon points="151.2,241.1 147.2,242.5 143.7,241.6 140.2,241 140.7,239.2 144.3,236.8 149.3,236.5 152,238.7 155.5,240.1" fill="#fcfcfc"/><polygon points="159,237.1 166,235.9 169.7,238.4 171.3,239.7 167.8,242.4 161.5,242.6 156.1,241 153.1,239.6 154,238.2" fill="#e8e8ee"/><polygon points="190,242.7 187.8,242.7 183.7,240 184.2,237.6 189.5,237.3 197.8,236.7 204,239.5 202.4,242.4 198.5,243" fill="#d6d6dc"/><polygon points="206.3,236.3 209.6,239.5 208.8,241.3 205.9,242.6 204.7,241.8 202.5,239.7 204.7,237.2" fill="#e0e0e6"/><polygon points="217.4,237.6 220.5,237.4 220.9,240.3 220.1,241.1 218.1,242.3 215.7,242.2 214.1,241.7 214,238.6 215.9,237.7" fill="#f0ecf4"/><polygon points="236,242 230.1,243.2 222.3,240.4 219.4,239.8 224.5,236.7 233.2,235.2 243.7,237 243.2,238.8 244.1,241.8" fill="#e0e0e6"/><polygon points="5.8,246.2 6.7,242.6 9.4,242.6 10.5,241.8 12.4,245.6 13.2,247.8 11.3,248.3 8.1,249 6.2,248.8" fill="#d8d8de"/><polygon points="22,250.7 19.5,249.6 18.9,247.8 19.5,242.8 21.5,243.1 23,243.9 23.2,247.9" fill="#f8f8f8"/><polygon points="39.5,243.4 52.5,245.8 50,246.7 45.2,249.6 34.3,250.3 27.9,249.2 27.2,248 28.1,244.6 35.5,243.1" fill="#fcfcfc"/><polygon points="61.3,247.6 59.4,249.1 56.5,249.8 53.9,247.8 51.8,246.3 54.6,244.4 55.5,243.9 60.1,244.6 60.6,246.5" fill="#d8d8de"/><polygon points="106.2,243.1 109.8,243.6 117.3,244.1 117.7,246.3 115.2,249.7 105.9,249.1 99.6,248.5 97.5,246.5 99.6,243.8" fill="#b050b0"/><polygon points="122.5,242.6 125.1,242.3 126.4,245.9 124.4,249.5 123.5,249.2 121.5,247 121.1,245.6" fill="#fcfcfc"/><polygon points="158.2,242.8 160.4,245.2 161.9,246.1 158.3,249 156.9,249 153.9,247.8 153.5,245.3 153.8,243.2 155.3,242.4" fill="#cfcfd6"/><polygon points="160.3,246.1 160.4,243.8 163,242.4 166.5,244.7 165.8,246.4 163.7,249.5 161.9,248.2" fill="#e0e0e6"/><polygon points="170.1,243.1 170.4,241.6 174.4,241.4 177.4,243.7 176.7,247.3 174.6,250.1 169.4,249.7 167.2,247.1 165.6,244.8" fill="#cfcfd6"/><polygon points="183.3,248.1 182.9,250.3 179.8,250.3 176.9,248.5 175.8,244.9 178.5,243 181.7,242.5 182.6,244.3 184,246.8" fill="#d8d8de"/><polygon points="197.6,250.1 190.6,248.4 182.7,247.1 186.3,245 190.6,242.4 195.9,241.8 203.4,243.6 208.1,244.5 203.7,248.1" fill="#cfcfd6"/><polygon points="224.4,244.6 226.1,245.8 228.1,248.6 223,248.3 213.2,249.8 205.6,247.1 207.2,246 210.1,243.6 217.3,242.9" fill="#e4e4e8"/><polygon points="254.4,247.8 244.5,249.2 233.6,248.7 231.7,247.3 228.4,244.5 237.3,242.9 239.7,242.4 249.4,243.7 251.7,246.4" fill="#e0e0e6"/><polygon points="11.5,253.5 8.4,253.4 6.8,251.4 8.2,248.3 10.9,248.7 13,249.8 12.6,251.5" fill="#e8e8ee"/><polygon points="13.6,248.5 16.2,247.4 19.8,250.1 18.2,253.3 15.2,253.5 13.6,253.1 11.5,250.8" fill="#c0b060"/><polygon points="31.7,247.8 34.2,250.4 32.5,251.9 30.9,253.4 25.1,253.3 21,252.2 21.1,249.9 20.6,248.7 25.5,248.2" fill="#d8d8de"/><polygon points="35.2,251.2 38.1,249.8 43.8,248.2 49,249 56.2,250.2 53.5,252.7 51.2,253.3 41.6,253.3 34.5,252.1" fill="#f0ecf4"/><polygon points="95,249.4 96.8,252.5 93.8,253.9 92.3,253.7 88.7,254.3 85.4,252.5 85.9,250.5 88.1,249.3 91.4,249.1" fill="#30c0a0"/><polygon points="119.9,249 123.7,250.5 122.5,251.4 118.8,253.6 112.1,253.5 110.9,252.2 108.6,249.7 110.6,249.2 115,247.7" fill="#30c0a0"/><polygon points="144.3,253.7 131.3,254 128.8,253.3 123.2,251.4 126.3,250.2 138.3,249.4 146,249.8 148.9,250.5 148.6,253.1" fill="#50c050"/><polygon points="144.7,249.3 148.6,247.5 150.8,248.1 154.5,249.6 153.6,252.2 153.5,252.9 149.2,253.4 146.2,252.3 145.2,250.6" fill="#cfcfd6"/><polygon points="169.3,251.1 169.6,249.3 171.7,248.7 177.4,247.7 179.7,248.3 180.4,250.9 178.8,252.2 177.1,252.8 172.8,252.3" fill="#d6d6dc"/><polygon points="185.3,249 185.7,251.6 183.8,253.6 180.8,253.9 179.8,251.1 181,248.4 182.6,247.6" fill="#e8e8ee"/><polygon points="207.6,251.7 206.1,250.9 208.7,248.2 212.8,247.7 220.2,248.5 223.4,249.8 221.5,251.7 222.5,252.7 208.9,252.7" fill="#e4e4e8"/><polygon points="242.1,250.1 240.9,251.7 237.1,253.7 231.6,254 224.6,252.4 224.3,250.8 225.9,249.3 232.1,249 239.2,249.2" fill="#fcfcfc"/><polygon points="9.2,257.4 8,254.8 10.1,252.9 12.1,252.7 15.2,256.2 13,258.2 11.3,259.1" fill="#e4e4e8"/><polygon points="37.1,258 33.6,259.4 21.4,259.5 15.5,258.7 17,256.8 24.3,254.6 27.9,254 38.5,254.6 39.9,257.2" fill="#c04890"/><polygon points="44,258 39.2,257.5 36.7,255.7 43.1,254 51.5,252.9 52.8,253.6 57.5,255.7 56,257.2 52.5,258.6" fill="#fcfcfc"/><polygon points="85.1,257.3 83.9,258.8 81.1,258.8 77.2,258.3 76.8,256.6 77.7,255.1 79.4,254.1 82.6,253.2 85,254.6" fill="#fcfcfc"/><polygon points="88.7,258.6 86.3,259.3 85,257.2 84.5,255.6 86.9,254.4 89.5,254.5 90.3,257.4" fill="#d6d6dc"/><polygon points="96.3,255.9 95,258.4 91,258.4 89.5,256.7 90.6,254.4 93.1,253.7 96.3,254.4" fill="#d6d6dc"/><polygon points="106.5,257 111.3,254.5 115.1,252.8 119.1,253.4 126,254.2 125.9,257.4 122.2,258 117.8,258.8 109.6,257.8" fill="#fcfcfc"/><polygon points="134.1,257.6 131.5,257.2 128.6,257 127.1,255.6 128.8,253.8 129.8,252.4 133.7,253.7 135.5,254.8 136.7,255.9" fill="#cfcfd6"/><polygon points="145.9,253.8 146.2,255.4 149.3,256.2 146.4,258.2 143.6,259.1 139,258.7 136.5,256.4 137.1,255.2 137.5,253.9" fill="#f0ecf4"/><polygon points="176.5,253.6 176.9,255.4 174.9,257.4 173.5,258.3 171.3,255.8 172.1,254.3 174.8,253.2" fill="#e0e0e6"/><polygon points="178.8,253 182.1,253.2 183.1,253.6 184.2,254.9 183.5,257.8 182.9,258 179,257.9 177,256.6 176.2,255.4" fill="#c04890"/><polygon points="198.9,256.6 198.8,258.2 192.6,259.2 187.3,257.9 186.1,255.8 187,253.7 190.3,252.9 195.9,253.8 199.4,255.2" fill="#30a090"/><polygon points="203.2,259.9 201.7,259.2 201,257.6 200.9,255.2 202.3,254.3 205.7,254 208.3,256.3 208.6,258 207,258.4" fill="#e8e8ee"/><polygon points="219.4,257.3 214.1,258.3 208.3,256.4 209,254.8 212.4,253 215,253.4 218.4,253.8 222.2,254.7 223.1,256.6" fill="#f0ecf4"/><polygon points="232.3,254.5 241,254.5 247.3,255.5 251.9,257 248.4,258.2 236.2,259.8 226.9,258.9 221.8,257.2 223,255.7" fill="#fcfcfc"/><polygon points="18.3,259 21.7,259.1 19.1,260.9 17.6,262.5 9.2,262 6.3,261.1 6,259.5 7.8,257.9 12.4,257.6" fill="#d6d6dc"/><polygon points="25.2,258.5 27.7,257.9 30.4,258.5 31.2,260.5 29.5,263.2 26.7,262.6 23.2,261.1" fill="#e0e0e6"/><polygon points="62.4,260 60.3,261.6 53.6,262.7 35.8,262.1 34.4,261.1 34.7,259.4 41.6,258.5 45.6,258.3 56.5,259.1" fill="#f0ecf4"/><polygon points="60.2,261.6 58.5,260.7 57.2,259.9 57.6,258.7 61.8,257.3 64.3,257.5 66.3,259.9 65.1,260.8 63.3,261.7" fill="#cfcfd6"/><polygon points="67.5,262.3 67.1,260.7 68,259.4 69.8,257.8 75.2,258.7 77.5,259.3 78.1,262.4 75,263.6 72.1,263.3" fill="#d6d6dc"/><polygon points="76.3,261.8 76.9,259.4 80.1,258.5 84.6,257.8 85.6,259.4 86.1,260.9 85.3,262.9 80.9,263.5 78.9,262" fill="#cfcfd6"/><polygon points="93.2,258.2 97.2,258.2 101.9,259.7 101.3,260.9 100,263.2 95,262.7 91,263 88.6,260.9 88.5,259.6" fill="#fcfcfc"/><polygon points="106.5,263.8 104.1,263.1 102.7,261.1 102.7,259.6 105.9,257.8 107.1,259 107.8,261" fill="#c04890"/><polygon points="111,262.4 109.2,260.3 110.8,259.2 112.6,257.5 118.1,258 125,259.5 125.3,261.1 120.1,263.2 117.6,263" fill="#f8f8f8"/><polygon points="124.3,258 127.2,257.6 129.4,259 131.4,261.2 129.2,262.6 125.9,262.8 124.9,262.9 123.1,261.6 122.3,259.7" fill="#fcfcfc"/><polygon points="135.3,258.8 143,258.5 145.8,259.9 143.6,261.5 144.5,261.9 138.6,263.1 133.1,261.7 132.5,261.3 132.8,259.6" fill="#cfcfd6"/><polygon points="166,258.5 178.1,258.2 180.6,260.4 181.2,261 177.6,263.1 169.7,264.4 167.1,263.6 160.9,261.8 163.9,259.6" fill="#cfcfd6"/><polygon points="192.9,262 192.6,260.5 194,259 195.3,258.1 198.4,258.6 200,259.7 199.8,261.6 197.5,263 195.8,263.1" fill="#fcfcfc"/><polygon points="215.2,263.1 209.7,263.8 200.8,262.3 200.8,260.8 203.4,259.7 208.8,258.8 213.5,259.3 217.2,260.8 214.8,262.3" fill="#d6d6dc"/><polygon points="221.1,259.4 228.2,258.6 239.2,259.9 242.5,259.8 244,261.7 238.1,263.7 227.3,264 220.8,261.9 217.6,260.8" fill="#d6d6dc"/><polygon points="32.4,264.9 32.2,267.5 29.7,269.9 27.6,267.8 26,265.6 28.6,260.6 30.4,260.7" fill="#f0ecf4"/><polygon points="41.3,263.4 43.1,267.1 40.6,268.6 37.4,269.7 32.2,267.4 31.2,265.1 33.2,262.4 36.2,262 41.6,262.2" fill="#f8f8f8"/><polygon points="61.2,264.7 60,265.8 56,267.9 48.8,268.5 44.3,267 41.4,263.3 44,262.1 54.2,260.4 57.2,261.1" fill="#d6d6dc"/><polygon points="60.7,266.3 62.6,264.7 64.1,263.8 68.5,263.2 71.5,263.2 76.4,265.5 73.6,266.6 70,268.2 63.4,268.5" fill="#e4e4e8"/><polygon points="100.3,264.9 99.8,266.9 98,268.7 94.7,267.9 93.9,265.1 96.3,262 99.9,263.1" fill="#6090d0"/><polygon points="100,268 103.6,264.4 111.3,262.8 115.8,263.4 120,264.1 120.6,267.1 120.4,268.3 111,270.1 105.1,269.1" fill="#d6d6dc"/><polygon points="133.4,262.5 135.7,263.3 135.2,267.4 134,269.1 131.1,268.2 129.6,265.7 131.6,262.7" fill="#cfcfd6"/><polygon points="137.9,269.3 137,266.2 135.7,263.9 136.3,261.8 140.5,261.5 143.1,262.2 143.6,263 143.4,266.4 141.9,268.8" fill="#e0e0e6"/><polygon points="163.9,267.9 158.1,267.7 153.9,267.6 149.8,265.7 149.9,262.7 155.3,261.9 160.3,262.6 163.4,263.4 166.7,265.6" fill="#e0e0e6"/><polygon points="169.8,265.7 168.5,269.1 166.8,269.8 165.1,268 165,264.3 166.4,262.1 168.9,263.6" fill="#b050b0"/><polygon points="191.5,267.2 185.4,267.8 181.2,268.7 172.2,268.2 171.7,265.2 174.1,262.6 177.9,261.9 185.4,261.4 189,263.5" fill="#f8f8f8"/><polygon points="203.8,261 205.3,263.1 208,266.6 203.8,267.5 199.2,269.1 194.6,268.3 192.2,266.8 195.6,262.4 197.8,260.9" fill="#e8e8ee"/><polygon points="213.9,266.3 214.5,262.8 220.9,262.4 224.5,262.6 228.2,265.9 227,267.1 223.5,269.8 217.8,270.8 213.2,268.8" fill="#e0e0e6"/><polygon points="233,262.2 234.4,262.9 237.6,265.7 236.1,267.4 233.8,269 231.5,270.2 227.8,267.8 226.9,265.7 230.2,263.9" fill="#e8e8ee"/><polygon points="253.4,262.6 261.2,262.7 264.5,265.2 258.4,267.6 256.6,269 246,267.9 234.7,266 238.4,265.1 245.7,263" fill="#f0f0f2"/><polygon points="27.7,273.7 18.7,274.3 14.8,274.8 6.7,274.9 1,271.6 6.7,271.1 10.9,269.2 19.7,269.6 23.1,271" fill="#f8f8f8"/><polygon points="36.7,271.7 36.6,273.4 33,273.9 30.4,272.2 30.7,270.1 34,268.2 36.9,269.4" fill="#e8e8ee"/><polygon points="38,270.5 38.8,269.2 43.4,268 45.7,268.9 46.6,270.1 46.1,272.6 45.1,272.9 39.7,273.8 38.1,272.6" fill="#fcfcfc"/><polygon points="49.5,274.1 47.4,272.3 47.1,270.6 49.6,267.5 52,268.7 53.1,271.3 52,273.3" fill="#f8f8f8"/><polygon points="61.5,268.1 62.6,269.2 63.7,271 63.6,272.8 60.6,274.6 54.4,273.7 54.3,272.7 54.7,269.7 54.3,268.4" fill="#d8d8de"/><polygon points="65.8,270 67.5,270 69.9,271 69.6,272.9 67,274.6 65.7,274.4 62,273.1 61.4,272.2 63.4,269.9" fill="#50c050"/><polygon points="75.5,274.1 72.8,272.4 70.4,270.8 83,269.1 88.9,269.7 96.7,271 96,273.9 87.4,274.6 81.1,275.2" fill="#6090d0"/><polygon points="103.3,270.4 105.1,268 110.3,268 112.7,269.3 113.3,271.2 110.6,272.6 108.1,273 106.5,273.4 102.5,270.8" fill="#9870c8"/><polygon points="114.9,273.3 112.5,272.1 114.4,270.4 121.3,268.9 122.4,268.9 125.9,270.9 129.7,272 124.2,274.2 122.5,274.7" fill="#f8f8f8"/><polygon points="141.4,269.2 148,270.2 147.6,271.7 145,274 141.3,275.3 136,274.6 131.9,273.2 130.7,271.4 130.5,269.6" fill="#e8e8ee"/><polygon points="149.8,269.4 152,270.3 152.5,271.9 152.1,273.3 149,275.4 146.4,273.1 147,271.4" fill="#e4e4e8"/><polygon points="171.8,273.7 171.4,273 168.1,271.4 169.3,269.1 172.2,268.2 175.5,267.6 181.1,268.9 180.7,271.8 179.2,272.5" fill="#cfcfd6"/><polygon points="185,274.1 182.4,274.1 180.5,273.6 181.7,269.2 184.1,267.9 185.7,268.7 185.9,272.3" fill="#f8f8f8"/><polygon points="192.7,273.7 187.6,272.7 186.8,270.1 189.4,268.3 190.1,267.6 195.6,267.7 200.7,270.4 199.6,271.3 194.9,273.3" fill="#e4e4e8"/><polygon points="217.7,272.2 209,273 203,273 201.5,272.2 199.6,270.2 206,269.3 215.3,268.8 215.5,269.4 217.2,270.8" fill="#d8d8de"/><polygon points="226.5,274.7 221.2,273 218.6,270.4 220.2,269.2 234,268.3 237.2,269.7 245,270.9 238.3,273.2 234.5,274.4" fill="#d6d6dc"/><polygon points="28.6,279.2 24.6,281.4 19.7,279.9 17,278.4 17.3,274.2 23,272.8 28.7,273.8 30.2,276.3 30.1,278.7" fill="#f0f0f2"/><polygon points="28.6,277.1 28.9,275.2 32.3,273.1 34.1,273.7 36.7,275.7 37.7,278.6 34.4,279.3 32.8,279.5 29.2,279.1" fill="#48a868"/><polygon points="39.4,279.3 38.5,277.9 41.3,274 49.4,274 59.6,273.1 64.1,275.7 67.3,277 57.8,280.4 53.2,279.6" fill="#fcfcfc"/><polygon points="68,278.1 65.8,279.6 64,279.1 62.9,276.9 62.6,274 66.1,272.9 67.5,275.2" fill="#f8f8f8"/><polygon points="71.9,280.3 70,279.2 69.1,275.4 73.7,274.8 87.3,274 90.1,274.6 93.3,277.2 92.8,279.1 82.4,281.2" fill="#fcfcfc"/><polygon points="125,275.1 129.6,273.8 138.2,274 146,276.3 142.3,277.7 141.3,279.7 126.4,280.4 120.4,279.3 118.1,277.7" fill="#f0f0f2"/><polygon points="154.7,280.5 153.9,280.6 151.5,276.9 152.1,275.7 154.3,273.9 156.5,274 157.8,274.1 158.2,276.4 157.8,278.5" fill="#50c050"/><polygon points="183.5,274.6 186.9,276.2 186.7,278.4 180.7,278.9 165.8,279.7 161.9,279.1 162.7,276.9 165.9,273.1 176.6,273" fill="#cfcfd6"/><polygon points="200.3,273 205.1,273.1 207.8,275.9 207.8,277.2 203.5,279.5 201,280 196.2,278.7 195.5,275.8 196.9,274.6" fill="#d6d6dc"/><polygon points="221.5,275.5 220.9,274.2 225.7,272 226.5,272.6 230,275.6 229.5,278.2 227.3,278.4 224,280.5 222.6,278.2" fill="#f8f8f8"/><polygon points="228.9,278 228.1,276.2 229.2,274.6 231.4,272.6 234.2,272.9 237.2,275.1 237,277.2 233.2,279.3 232.2,279.2" fill="#e8e8ee"/><polygon points="6.7,284.5 3.7,282.3 12.2,279.1 17.9,278.4 32.3,280.1 32.7,281.5 30.6,285.9 24.9,285.6 16,285.7" fill="#f0f0f2"/><polygon points="45.7,285.4 43.2,284 42.8,283.2 45.6,279.7 48.1,279.9 50.9,280.6 52.1,281.8 51.1,284.7 49.7,286" fill="#cfcfd6"/><polygon points="75.4,281.2 71.3,285.2 70.8,286.6 61.1,287.1 55.4,284.3 53.2,283.3 60.2,280.7 65.9,278.7 70.3,279.5" fill="#f0f0f2"/><polygon points="76.5,279.2 80.5,279.8 85.6,281.9 86.8,282.3 83.6,285.4 79.8,287.2 77.4,285.8 75.3,284 72.6,282.3" fill="#e8e8ee"/><polygon points="86.9,279.9 90.4,279.1 90.9,282.8 91,285.3 88.6,285.9 87.2,285.1 85.5,281.9" fill="#f0ecf4"/><polygon points="95.6,280.8 96.2,284.1 94.3,286.1 91.5,284.8 91,282.2 91.8,279.4 94.4,280.4" fill="#c0b060"/><polygon points="118.3,280.6 120.2,277.6 122,278.7 124,282.4 122.8,284.4 120.9,286.3 118.4,285.5" fill="#6090d0"/><polygon points="147.8,285.3 144.2,283 146.2,280.5 147.2,279.4 151.7,278.6 158.2,280.6 156.9,282.4 155.1,285.7 149.5,285.1" fill="#e4e4e8"/><polygon points="175.3,282.6 175,283.7 173.4,285.2 164.2,286.6 159.4,286.2 159.8,283.9 157.4,281.3 161,280.6 169.8,280.1" fill="#e0e0e6"/><polygon points="215.7,286 209.9,286.4 205.8,285.7 203.2,284.7 202.3,281.5 210.1,279.9 214.3,280.1 218.1,282.5 218.1,284.5" fill="#f8f8f8"/><polygon points="29.6,289.7 20.7,291.4 14.6,290.8 7,290 2,287.8 10.1,285.7 21.1,285.2 26.2,287.2 29.7,288.6" fill="#f0ecf4"/><polygon points="42.1,285.8 45.5,286.3 46.1,288.5 42.7,290.1 36.2,290.4 33,289.8 28.7,289.1 29.4,287.5 34.8,285.7" fill="#f0ecf4"/><polygon points="54.4,288.2 56,289.8 52.7,291.6 50.2,291.9 47.2,289.9 47.3,288.8 47.5,287.7 49.8,285.9 54.5,286.4" fill="#e8e8ee"/><polygon points="55.5,287.5 56.4,285.3 58.4,285.5 64.1,285.9 64.1,288.1 64.9,289.2 60.4,290.8 58.7,291.6 57.6,290.1" fill="#d6d6dc"/><polygon points="81.5,286.2 84.9,287.3 85.5,289.8 83.1,290.4 79.6,291 73.7,290.2 75,288.4 76.3,286.6 77.3,285.8" fill="#d6d6dc"/><polygon points="149,290.7 148.6,289.4 148.9,287.2 152.1,286.9 154.2,288.3 154.5,291.2 151.3,291.5" fill="#d8d8de"/><polygon points="185.1,289.8 171.7,292.6 167.3,291.7 155.3,291 152.9,288.5 165.5,287.1 169.3,286.3 182.4,286.6 185.1,287.7" fill="#f0f0f2"/><polygon points="187.7,291.1 183.7,288.7 184.6,287.9 186.4,286.2 191.2,285.4 198,287 197.9,288.9 195.9,290 190.7,291" fill="#e4e4e8"/><polygon points="203.9,285.4 207.4,287.2 208,288 210.2,289.2 206.5,290.7 203.8,291.3 199.9,290.3 198.5,289.4 200,287.3" fill="#fcfcfc"/><polygon points="213.9,286.8 215.1,287.4 215.2,289.4 212.2,291.1 210.8,290 210,289 211.9,286.7" fill="#f0ecf4"/><polygon points="231.1,287.4 236.9,287 247.9,286.5 250.1,288.2 249.6,289.8 247.2,290.6 235.9,291.4 229.8,290.6 227.2,288.6" fill="#f0ecf4"/><polygon points="5.1,294.3 7.2,292.6 13.1,291.5 19.8,290.7 29.3,293 29.2,294.3 21.4,296.3 20.7,297.2 10,296.6" fill="#e4e4e8"/><polygon points="33.2,293.8 31.8,295.9 30,296.5 28.6,294.6 28.1,292.9 30.8,290.1 32.4,291.4" fill="#cfcfd6"/><polygon points="40.8,290 45.3,291.8 47.3,294.2 43.6,295.6 39.4,296.6 37.5,296.1 34.6,294.7 34.9,291.9 36.9,291.4" fill="#d8d8de"/><polygon points="71.4,295.6 60.5,294.8 59.4,293.4 63.3,291.5 73.1,290.6 78.3,290.8 86,293 83.2,294.6 79.1,296" fill="#e8e8ee"/><polygon points="103.8,295.7 101.2,296.5 88.5,295.7 86.1,295.1 79.5,293.1 90.8,291.1 102.1,290.4 107.7,292 113.2,293.5" fill="#c04890"/><polygon points="134,290.3 138,290.6 141,291.3 144.6,292.7 142.7,294.6 136.7,295.4 131.9,295 131.6,293.1 129.3,292.2" fill="#cfcfd6"/><polygon points="154.3,296.1 152.2,296.5 147.1,296 142.1,294.7 143.5,293.4 148.5,291.9 153.4,292 157.7,293 156.7,294.5" fill="#cfcfd6"/><polygon points="163.1,294.4 160.7,297.4 159.1,297.4 157.2,293.8 158.7,291.7 160.2,291 163.2,292.5" fill="#d6d6dc"/><polygon points="165.8,294.1 162.6,293.4 165.2,291.2 172.9,290 175.6,291.5 178.3,291.6 180.1,293.5 172.8,294.9 168.7,295.5" fill="#f0f0f2"/><polygon points="204,296 200.8,296.3 195.8,295.8 194.2,295.5 194.3,292.3 195.7,291.1 200.6,291.1 203,291.1 204.6,294" fill="#f8f8f8"/><polygon points="210.4,293.5 212.5,291.2 216,292 216.9,292.6 216.3,295.4 214.5,296.3 210.7,294.6" fill="#d8d8de"/><polygon points="224.5,291.8 228.7,291.8 231.9,291.3 235.4,293.2 234,294.5 232.4,295.4 229.2,295.9 224.7,295.3 223.6,294.1" fill="#cfcfd6"/><polygon points="3.7,295.7 9.6,295.4 18.2,295.4 28.1,296.6 28.2,297.1 24.1,298.7 15.2,298.6 9.4,298.2 2.7,297.6" fill="#e0e0e6"/><polygon points="44.7,299.8 42.4,299.9 40.6,299.5 39.5,297 40.9,296.6 44.3,296 46.7,297.8" fill="#f8f8f8"/><polygon points="52.1,299.3 49.7,300 47.1,299.4 47.2,297.9 47,296.5 49.9,296.3 52.8,297.8" fill="#e8e8ee"/><polygon points="62.9,295.5 67.1,295.9 70.9,296.5 69.4,297.9 67.7,299.3 61.1,298.9 52.4,297.9 51.7,296.5 54.3,295.6" fill="#e4e4e8"/><polygon points="106.4,298.9 105.1,298.1 107.8,296.5 113.7,295.3 121.7,295.8 125.3,296.8 125.5,298.5 118.1,299.3 114.3,300.4" fill="#e0e0e6"/><polygon points="123.5,296.8 125.7,296.1 133.1,295.5 135.9,295.9 139.7,297.1 136.4,298.4 131.7,299.8 129.5,299.6 123.6,298.8" fill="#e4e4e8"/><polygon points="163.4,298.9 161.3,297.9 161.8,296.4 165.2,295.7 169.5,296.1 170.1,297 170.6,297.9 168.9,299.5 165.6,299.6" fill="#e4e4e8"/><polygon points="185.9,295.7 184.3,297.8 183.8,298.5 178.3,299.5 173,298.6 168.9,297.2 173,296 176.7,294.8 183.9,294.9" fill="#30c0a0"/><polygon points="185.3,299.5 185.3,296.7 189.4,296.1 191.7,296.5 192,298.5 190.4,300.1 187.4,299.9" fill="#f8f8f8"/><polygon points="199.8,296.4 204,296.5 205.8,298.4 203.1,299.9 198.2,300.5 196.3,299.8 193,298.2 194.6,297.6 197.7,296.4" fill="#d6d6dc"/><polygon points="218,298.7 215.5,299.4 207.9,298.5 205.2,297.7 205.5,296.1 212.1,295.2 217.8,295.3 221.6,296.3 223.3,297.6" fill="#f8f8f8"/><polygon points="224.2,299 220.6,298.5 222.3,296.8 227.6,295.9 233.7,296.3 234.6,296.7 238.4,298.1 234.4,298.8 227.3,299.2" fill="#f0ecf4"/><polygon points="247.7,296.6 249.6,297.6 246.5,299.2 244.3,299.9 237.5,299.5 235.3,298.1 236.4,296.8 237.8,295.9 245.5,295.9" fill="#d6d6dc"/><polygon points="34.5,300.6 38.1,303 36.1,303.6 24.6,306.5 19.1,305 8.5,304.1 11.8,300.2 10.2,298.8 20.7,298.6" fill="#f8f8f8"/><polygon points="37.4,301.8 36.2,300.5 49.2,298.9 54.9,299.6 59.6,301.4 61.2,302.6 53.4,304.1 48.1,305 42.4,304.4" fill="#f0ecf4"/><polygon points="60.2,305.6 57.3,304.8 57,300.9 59.1,299.8 60.2,298.6 61.8,301.9 61.1,304.3" fill="#f8f8f8"/><polygon points="66.4,300.7 73.3,298.2 82.2,298.3 90.3,299.6 92.8,300.9 90.5,303.7 85.1,305 69.7,304.6 62.3,302.2" fill="#f0f0f2"/><polygon points="88.6,303.7 89,301.6 88.7,300.5 91.7,299.9 94.3,300 96.5,302.7 96.4,303.8 94.4,304.7 92.1,304.9" fill="#e0e0e6"/><polygon points="96.6,303.7 96.6,301.8 98.6,299.5 101.6,298.2 103.7,300.7 105.4,301.7 103.4,305.6 102.3,305.6 99.2,304.9" fill="#f0f0f2"/><polygon points="121.2,302.1 121.3,299.8 129.7,299.2 140,298.5 143.6,299.5 145.7,302.2 141.7,304.5 133.9,304 126.6,303.5" fill="#f0ecf4"/><polygon points="145.5,300.3 147.2,299.9 152.8,299.8 155.7,301.6 157.3,304 152.6,304.8 149.4,304.6 145,304.2 143.9,302.1" fill="#e8e8ee"/><polygon points="162.5,298.2 166.2,299 174.7,299.9 175.3,303.2 172.7,303.9 169.6,305.8 161.1,305.9 158.1,304.4 158.9,301.5" fill="#50c050"/><polygon points="177.5,300.9 179.7,300.2 185.6,300 187.9,302.2 187.8,303.9 184.1,305.3 178.9,306 177.7,305.2 173.2,302.6" fill="#d6d6dc"/><polygon points="190.9,304.8 187.7,302.3 189.1,300.1 192.4,298.5 194.9,298.9 201.2,299.4 201.7,301.7 197,304 196.4,304.7" fill="#d6d6dc"/><polygon points="214.8,303.6 208.6,304.9 206.9,304.6 203.1,303.5 200.6,301.6 204.5,300.4 211.2,299.5 212.9,299.5 217.1,303" fill="#d6d6dc"/><polygon points="224.8,299.4 224.3,303.3 222.4,304.4 220.5,304.5 215.9,304.1 215.9,301.5 215.9,299.8 220.2,297.4 221.6,298.3" fill="#d8d8de"/><polygon points="230.4,304 225.1,303.2 223.8,301.9 227.4,299.4 235.2,299.1 240.7,298.6 243.4,301.8 243,302.5 239.8,303.9" fill="#e8e8ee"/><polygon points="10.2,306.3 13.1,305.4 17.8,304.6 22,303.9 28.1,305.5 25.7,306.3 24.2,307.4 18.2,307.7 15,307.3" fill="#f8f8f8"/><polygon points="41.8,305.5 35.9,306.5 30.7,307.4 27.5,306.1 26,306 26.2,304.4 32.1,303.5 38,303.3 37.9,303.8" fill="#cfcfd6"/><polygon points="42.2,307.2 41.7,306 41.7,305.3 45.5,304.3 49.6,304.8 51.8,305.3 53.8,307.3 50.3,307.6 45.7,307.7" fill="#e0e0e6"/><polygon points="61.2,306.4 57.6,307.4 55.1,306.9 53.9,306.7 52.1,305.8 54.5,305.1 56.3,304.5 60.3,304.4 61.4,305.5" fill="#cfcfd6"/><polygon points="64.4,307.3 61.3,305.3 65.2,304.6 67.9,305 75.2,305.4 77,306.4 74.7,307.3 69.8,307.9 65.8,307.7" fill="#9870c8"/><polygon points="80.6,306.9 79.6,305.6 77.2,304.2 82.6,303.3 89.1,303.3 91.4,304.6 91.9,306.4 88.3,307 83.5,307.2" fill="#50c050"/><polygon points="95.2,304.7 97.4,305.2 97.6,306.5 96,307.9 93.9,308 92.2,306.8 92.5,305.5" fill="#b050b0"/><polygon points="110.9,305 108.6,306.3 106.3,307.2 101,306.4 99.6,306.2 98.2,304.7 103.2,303.9 106.8,303.5 111.5,304.5" fill="#e4e4e8"/><polygon points="112.8,307.1 110.7,306.7 108.9,305.7 109.7,304.8 111.4,304.2 112.8,304.6 114.4,306.4" fill="#fcfcfc"/><polygon points="124.8,303.1 126.6,304 129.8,305 128.4,306.3 123.8,307.1 120.2,306.5 116.2,305.8 114.5,304.8 117.7,303.6" fill="#30a090"/><polygon points="129.7,306.3 129.2,305 130.1,304.2 132.7,303.3 133.8,304.5 133.5,305.8 131.5,306.7" fill="#f8f8f8"/><polygon points="137.6,307.1 132.5,306 133.3,305.3 136.4,304.3 141.7,304.6 144.7,304.7 145.4,306.1 144.9,307.2 141.1,307.4" fill="#cfcfd6"/><polygon points="149,304.3 149.8,305.5 148.6,306.9 147.9,307.6 145.2,306.6 144.9,305.3 146.6,304.2" fill="#f8f8f8"/><polygon points="169.5,307.4 166.7,306.9 165.1,306 166.4,304.7 169.7,304 170.8,304.5 170.9,306.9" fill="#f8f8f8"/><polygon points="185.3,304.5 188.4,305.6 187.7,306.5 183.1,307.7 178.8,307.7 176.2,306.5 177.2,305.8 180.1,304.5 184.7,304.1" fill="#d6d6dc"/><polygon points="204.6,304.6 213.6,304.3 216.2,304.3 219.9,306.3 217.8,307.4 213.8,307.7 205.5,307.9 205.9,306.9 203.9,306" fill="#f8f8f8"/><polygon points="231.5,304.1 233.7,305.2 230.9,306.3 230.4,307 225.7,307.3 220.4,305.9 218.7,305.2 222.1,304.1 228.5,303.6" fill="#d6d6dc"/><polygon points="14.7,308.7 20.4,308.1 26.5,307.7 32.9,308.2 33.1,309.9 29.2,310.6 27.5,311.5 18.9,310.8 13.9,309.9" fill="#f0ecf4"/><polygon points="34.7,311.6 33.6,309 34.8,308.8 36.9,308.4 39.8,308.8 42.2,309.3 42,311.1 38.7,312.4 36,312.2" fill="#9870c8"/><polygon points="49.6,308.6 49.8,309.4 48.6,311.4 46.9,311.4 42.7,311.4 41.9,311.1 42.2,309.6 42.7,308.2 45.7,308" fill="#e0e0e6"/><polygon points="70.3,307 75.4,307.5 74.7,309.5 71.3,310.4 64.4,310.3 51.6,310.5 52.8,309.3 48.2,307.7 60.8,307.1" fill="#9870c8"/><polygon points="90,306.8 92.6,308.4 91.5,310.3 89,310.6 87.6,309.5 86.8,307.7 87.3,306.6" fill="#f0ecf4"/><polygon points="105.3,310.5 101.6,311.1 99.7,312.1 93.8,310.8 90.7,309.3 94.1,308.3 96.5,307 100.6,307 105.5,309.1" fill="#f0ecf4"/><polygon points="130.1,307.4 129.3,308.5 128.1,309.5 122.4,310.4 107.4,310.4 103.2,309.3 103.5,308.2 113.2,306.8 122.4,306.3" fill="#f0ecf4"/><polygon points="144.7,308.9 145.7,308.2 147.3,306.9 150.3,307.5 153.6,308.9 152.3,309.5 149.9,311.2 148,310.8 144.5,309.8" fill="#e4e4e8"/><polygon points="161.6,310.9 151.3,309.5 154,308 156.3,307.4 167.9,306.9 177,307.8 178.2,309.8 175,310.9 163.8,311.3" fill="#f8f8f8"/><polygon points="195.9,307.3 199,308.1 200.1,309.3 197.5,311.2 187.1,311.5 181.6,310.6 175.2,308 183,307.1 190.6,306.5" fill="#cfcfd6"/><polygon points="202.9,308.5 204.7,306.8 207.3,308.2 207.5,310.1 207.6,311.7 204.7,312 202.5,310.2" fill="#6090d0"/><polygon points="222.4,308.5 223,310.6 219.5,310.7 213.1,311.5 211.5,310.5 207,308.5 210.6,306.6 212.2,306.2 218.6,306.7" fill="#48a868"/><polygon points="231.6,307.5 238.1,306.7 242.8,308.3 247,309.2 239.6,310.9 235.8,311.5 225.1,310.7 224.4,309.9 224.7,307.5" fill="#e0e0e6"/><polygon points="24.1,315.5 19.6,315.4 17.1,315 15.3,313.6 14.2,311.8 17,311.4 23.3,310.1 24.6,311.5 26.3,313.4" fill="#e4e4e8"/><polygon points="37.8,314.7 36.3,313.7 38.6,311.5 42.1,310.6 46.2,311 49.1,313.1 48.5,314.7 46.1,316 39,316.3" fill="#d6d6dc"/><polygon points="50.7,314 51.8,311.2 54.8,311 60.8,310.3 67,311.7 67.2,314.4 66.4,315.4 60.9,315.7 53.9,315.6" fill="#d8d8de"/><polygon points="81.4,312.4 86.1,313.7 84,315.1 76.8,316.5 72.6,315.8 71.2,314.9 69.5,312.9 74.7,310.9 76.1,311" fill="#e0e0e6"/><polygon points="97.6,315.1 95.8,313.8 95.6,312.8 99.7,311.3 102.6,310.7 107.8,311.4 109.5,313.5 106.7,314.6 104.2,315.2" fill="#f0f0f2"/><polygon points="123,316.5 109.8,315.7 106.2,314.9 106.1,313.3 119,311.5 126.6,311.7 132.3,312.1 132.6,314.7 133.8,316.3" fill="#e4e4e8"/><polygon points="204.9,313.4 202.6,313.8 198.4,316.4 192.9,315.4 189.5,314.9 188.7,312.5 190.4,311.4 197.2,309.8 201.5,310.9" fill="#fcfcfc"/><polygon points="214.7,311.6 217.9,313.5 214.3,315.1 209.6,315.9 205.3,316.1 201.5,314.5 204.4,312.1 205.8,311.7 212.8,310.5" fill="#c0b060"/><polygon points="239,315.5 234.9,317.1 234.3,315.8 231.6,314.8 231.8,311.8 234.9,311.6 236.7,310.9 239.2,311.6 240,314.1" fill="#d890b0"/><polygon points="264.8,312.7 265.3,314.9 259.5,315.7 250.7,314.9 242.5,314.2 242,312 247,311.4 255.3,310.4 265.3,311.4" fill="#fcfcfc"/><polygon points="8,322.5 7,322.1 5,320.6 5.4,317.1 6.7,314.9 9.5,314 13.1,316.3 13.7,320 12.7,320.8" fill="#d6d6dc"/><polygon points="11.8,318.7 15,316.8 19.8,315.4 23.8,318 23.1,319.1 24.9,320.9 18.1,322.1 16.7,322.5 12.7,320.6" fill="#d8d8de"/><polygon points="41.6,323.1 34.5,321.4 31.5,321.3 32.2,317.8 36.4,314.3 39.3,315.1 44.9,316.8 44.4,319.2 43.1,320.9" fill="#d6d6dc"/><polygon points="61.6,317.3 65.1,316.7 69.9,318.5 68.3,319.3 69.3,321.9 64,323.6 57.3,321.9 57.2,321.2 55.8,318.6" fill="#f0f0f2"/><polygon points="68.3,319.5 69.5,318.5 71.6,314.3 75.5,314.3 78.6,314.7 83.7,318.2 83.3,319.9 78.4,322.2 74.6,322.6" fill="#f8f8f8"/><polygon points="112.9,323.4 102.6,323.8 98.3,324 87.5,320.2 93.1,318.1 100,315.3 103.8,315 111.1,316.7 114.2,320.1" fill="#f8f8f8"/><polygon points="139.5,319.2 133.2,322 129.5,322 119.3,321.9 118.1,317.5 122.3,315.3 125.7,314.3 137.9,314.6 141,317.8" fill="#30c0a0"/><polygon points="140.1,316.2 141.9,315.8 144.6,315.5 147.4,317 149.8,319.5 146.6,321.4 143.5,321.4 138.5,320 137.9,318.3" fill="#fcfcfc"/><polygon points="149.4,317.6 153.5,316.5 158.8,317.2 161.6,318.9 162.8,320.9 158.1,323.3 154.4,322.3 150.4,321.5 149.6,318.8" fill="#f8f8f8"/><polygon points="167.2,321.2 165.7,321.4 162.9,321.9 160.5,319.6 160.7,318.1 162,316.5 165,314.4 167,316.1 169.1,318.5" fill="#f0ecf4"/><polygon points="170.8,320.6 170.7,317.8 171.8,315.5 175,315.3 180,316.4 180.6,319.5 179.6,320.8 177.2,323 172.4,321.9" fill="#e4e4e8"/><polygon points="193.9,320.4 192.9,322.1 189.3,322 183.1,321.8 180.1,319.6 181.1,318.1 185.1,316.6 189.7,316.4 191.6,317.6" fill="#40b0b0"/><polygon points="203.7,318.9 204.5,320.5 202,322.5 197.2,322.4 195.6,322.3 191.8,320.4 194.3,318 198.5,317 199.5,317.4" fill="#fcfcfc"/><polygon points="208.2,315.1 211.1,317.3 212.4,319.6 209.4,322.6 206.3,323 205.1,320.7 204.6,317.5" fill="#cfcfd6"/><polygon points="214.9,323.3 212.5,321.8 211.8,319 213.2,314.9 215.6,316.6 217.1,317.2 216.1,321.8" fill="#e0e0e6"/><polygon points="221.3,321.9 217,318.8 217.6,316.7 224.9,314.5 232.6,315.9 239.7,316.6 237.6,318.9 235.5,321 230.6,322.4" fill="#fcfcfc"/><polygon points="6.6,325.3 8.5,323.5 9.2,323.3 20,322.4 23.4,323 25.5,324.5 21.4,326.5 13.7,327 8.9,326" fill="#fcfcfc"/><polygon points="28.2,321.8 31.2,322 32.5,325.4 32.6,326.1 28.4,327.8 25.1,327.1 24.4,325.6 23.2,324.6 25.4,321.9" fill="#d8d8de"/><polygon points="35.6,321.9 38.1,322 40.2,323.7 40.1,324.9 39.5,326.1 37.6,327.4 34.7,326.5 32.8,324.7 34.1,322.7" fill="#fcfcfc"/><polygon points="46.8,322 51,322 54,321.4 55.5,324.4 53,326 51.1,326.6 44.5,326.6 42.3,325.5 43.1,323.1" fill="#e0e0e6"/><polygon points="60.7,321.7 63.7,321.5 67.2,321.2 70.9,323.3 71.3,323.8 70.9,325.7 63.2,326 59.1,325.6 55.9,323.5" fill="#c04890"/><polygon points="74.3,325.6 71.8,325 72.1,323.8 75.2,322.3 79,322.1 82.3,323 82.4,324.8 83.1,326.2 80.2,326.7" fill="#d8d8de"/><polygon points="88.2,322.4 88.8,324.5 88.4,325.3 86,326.3 83.2,325.4 81.7,324 84.7,322.4" fill="#50c050"/><polygon points="96.8,326 93.1,325.2 91.1,324.2 91.1,323 94.7,321.5 99.8,320.8 106.4,322.2 107.1,324.5 104.3,325.4" fill="#cfcfd6"/><polygon points="115.9,325.5 114,326.4 109.3,325.5 106.3,324.3 106.7,322.6 109.6,321.4 115,321.1 117.8,321.2 118.7,324.2" fill="#40b0b0"/><polygon points="153.5,324.7 154.6,326.5 146.1,326.5 135.7,327.2 132.4,325.7 124.4,323.9 130.1,322.7 147.1,321.4 155.5,322.9" fill="#e8e8ee"/><polygon points="156,324 156.5,322 159.8,320.2 161.7,323.2 162,325.1 160.6,326.5 156.6,325.9" fill="#c0b060"/><polygon points="227.8,327 225.4,326.6 224.6,323.5 226.3,321.8 229,321.7 234.4,321.5 236.2,322.4 235.7,324.7 233.5,326.2" fill="#fcfcfc"/><polygon points="241.5,322.2 249.6,322.6 249.8,323.1 249.5,325.3 246.1,326.2 242.1,326.1 235.6,325.3 234.4,323.6 239.1,321.8" fill="#f0f0f2"/><polygon points="18.1,328.7 17.2,330.6 16.5,331.6 12.8,331.6 6.5,330.7 7.7,329 7.5,327.5 13,325.9 16.4,326.9" fill="#f0f0f2"/><polygon points="22.2,330.9 19.8,332 17.9,330.8 17.2,328.3 18.6,326.6 20.8,326.5 23.7,328.6" fill="#f0ecf4"/><polygon points="29,325 30.8,327.8 31.3,328.5 28,331 25.4,330.8 23.7,330 22.1,328.4 24.6,326 25.2,324.4" fill="#f8f8f8"/><polygon points="36,324.9 41.5,325.4 45,327.7 46.4,330.1 43.6,331.3 38.3,331.3 32.4,331.4 32.4,328.7 33.3,327.1" fill="#f0f0f2"/><polygon points="55.8,329.9 53.9,331.1 50.7,332 47.5,331.2 47.1,329.8 46.8,327.1 47.5,326.4 53.4,326.3 54.8,327.7" fill="#cfcfd6"/><polygon points="63.6,327.6 62.3,328.8 59.3,331.4 56.6,329.9 53.8,328.7 53.7,327.2 56.7,324.6 58.3,325.1 62.7,326.1" fill="#6090d0"/><polygon points="63.9,331.1 62.7,329.6 62.3,327.1 65.7,325.7 67.9,327.6 68.6,329.9 66.3,331" fill="#d8d8de"/><polygon points="69.5,326.8 71.4,325.2 74.7,326.4 74.8,328.6 75,330.1 71.2,330.7 68.4,328.8" fill="#cfcfd6"/><polygon points="86.3,331 83.9,330.8 82.5,328.4 83.3,326 84.7,325 87.1,326.3 87.5,328.5" fill="#f0f0f2"/><polygon points="86.8,327.7 87,326.3 92.1,324.9 92.9,325.7 96.3,328.1 95,329.6 92.1,330.5 89.7,331.4 86.9,329.2" fill="#7c68c0"/><polygon points="111.7,329.4 106.3,330.5 102,330.7 98.3,329.9 94.4,327.8 98.3,326.4 101.2,326.2 106,326.2 109,328.2" fill="#d6d6dc"/><polygon points="130.5,329 125.2,330.5 121.5,330.7 116.1,331 110.4,329.5 108.4,327.2 118.2,324.8 122.2,325.4 130.7,326.2" fill="#e8e8ee"/><polygon points="138.1,331.3 135.6,330.1 135.6,328.5 136.4,326.6 140.2,325.1 143.8,326.6 147.1,328.2 145,329.8 141.6,332.3" fill="#fcfcfc"/><polygon points="169.3,326.8 178,326 180.4,326.3 188.3,329.2 184.5,330.8 181.7,331.4 172.7,332.9 165.3,331.4 161.7,328.3" fill="#f0f0f2"/><polygon points="206.5,330.7 204.5,331.9 201.1,331 199.8,329.5 199.1,328 202.3,326.3 204.9,326.7 206.2,327.2 207.8,329.5" fill="#7c68c0"/><polygon points="213.2,326.3 214.1,329.1 210.8,331.4 208.3,330.1 206.9,328.5 207.6,327.3 209.8,325.2" fill="#50c050"/><polygon points="215.4,331.4 214,330.7 213.5,328.2 215.5,326.8 217.6,326.8 221.2,327 222.3,328.8 221.1,329.9 218.2,331.6" fill="#f0f0f2"/><polygon points="222.6,328.1 223,326.2 231.8,325.2 243.9,325.7 249.7,326.8 248.3,328.2 241.5,329.8 233.4,330.5 227.1,329.4" fill="#f8f8f8"/><polygon points="36.5,333.2 33.5,334.9 31.9,335.2 29.8,333.9 29.8,331.9 33.1,330.4 34.5,331.2" fill="#e4e4e8"/><polygon points="53.1,332.3 54.4,333.1 52.4,334.5 47.4,335.6 41.9,335 36.9,333.8 39.2,332.3 42.4,331.3 46.2,331.4" fill="#e4e4e8"/><polygon points="81.9,333 82.3,333.7 79.4,335.6 77,336.5 74.5,334.9 74.5,333.4 74.7,332.7 76,331.7 78.5,330.7" fill="#c0b060"/><polygon points="108.5,335.1 96.9,333.8 96.3,332.8 99.1,330.4 104.6,329.9 111.8,330.4 122,331.4 121.4,332.1 115,334.4" fill="#d8d8de"/><polygon points="127.1,334.5 124.9,335.5 122.4,334.8 121.5,332.1 123.1,330.9 126.3,330.4 127.7,332.4" fill="#e0e0e6"/><polygon points="128.7,334.5 128,332.5 133.3,330.7 135.4,331.1 143.2,332 142.6,332.8 141.8,334 135.7,335.5 133.9,335.8" fill="#f8f8f8"/><polygon points="146.5,333.3 145.3,334 142.7,334.5 141.2,331.5 142.9,329.9 145.8,329.5 146.8,331.5" fill="#e0e0e6"/><polygon points="165.5,331.5 168,333.2 162.8,335.2 156.6,335.3 152.4,334.5 145.5,333.6 146.2,332.2 154,331.2 161.1,331.2" fill="#f0ecf4"/><polygon points="245,330.6 247.2,332.1 246,334.7 244.4,335.3 238.4,335.5 235.9,334.4 233.1,333.4 234.2,331.4 238,330.8" fill="#e8e8ee"/><polygon points="16.1,338.5 11.6,339.3 7,339.7 6.7,337.5 5,335.6 9.8,335.4 13.3,334.5 17.5,336 18.6,337.7" fill="#e8e8ee"/><polygon points="50.3,336.2 51.4,337.1 51.5,338 49,339.9 41.4,339.2 38.6,339.4 37.3,337 39,336.6 44.8,335.9" fill="#f8f8f8"/><polygon points="63.4,334.4 69.5,336.5 68.6,337.9 64.6,339.1 63.8,339.6 56.1,338.8 55.1,337.1 55.7,336.4 58.5,335" fill="#f8f8f8"/><polygon points="81.8,336 89.7,337 88.4,338.5 86.6,339.8 80.7,339.6 72.7,339.2 69.3,338.6 71.8,336 76.8,335.5" fill="#e4e4e8"/><polygon points="97,338.8 95.2,338 94.4,337.2 94,335.2 96,334.6 98.6,334.9 101.3,335.3 100.7,337.6 99.4,337.9" fill="#30c0a0"/><polygon points="101,335.1 102.7,334.6 106.7,334.3 108.3,334.8 109.7,336 108.9,337.4 106.4,338.7 102.1,338.3 101.4,338.1" fill="#d6d6dc"/><polygon points="109.4,337.9 111.2,335.7 113.4,336 116.1,335.7 118.5,336.8 118.2,338.1 116.7,339.5 112.6,339.2 111.7,339.3" fill="#e8e8ee"/><polygon points="136,336.4 133.5,338.6 129.5,338.7 124.3,338.6 118.8,337.2 117.8,336 121.8,334.6 127.8,334.7 134.5,334.9" fill="#fcfcfc"/><polygon points="141.2,335.7 142.5,337.5 142.3,338.9 138.3,339.2 136.5,338.4 136.5,337.3 138.3,335.9" fill="#e0e0e6"/><polygon points="148.1,338.4 146.9,338.7 145,338.3 143.6,336.9 144.7,335.1 145.1,334.9 147.9,334.9 150.5,335.4 149.8,337.1" fill="#f8f8f8"/><polygon points="160.1,335 168.5,335.7 175.4,336.9 178.2,338.3 173,338.7 166.9,339 156.8,338.6 154.9,338.1 154.8,336.6" fill="#d6d6dc"/><polygon points="184.8,338.2 182.7,338.9 180.6,339.8 177.5,339.3 174.5,338.7 174.5,336.6 177.9,335.5 180.2,335.3 182.9,336.6" fill="#e4e4e8"/><polygon points="186.1,340.1 184.2,339.4 184.2,336.9 185.8,335.4 191,335.7 193.6,336 196,336.7 194.5,338.9 190.9,340.3" fill="#e4e4e8"/><polygon points="197.7,339.1 196.3,338.9 196.6,336.6 198.1,335.2 199.6,335.7 201.3,337.3 200.1,338.8" fill="#e8e8ee"/><polygon points="202.4,339.2 201.8,337.7 200.6,336.8 204.4,335.7 208.2,335 211.2,335.6 213.4,337.3 209.6,339 208.4,339.9" fill="#e0e0e6"/><polygon points="228.6,335.2 236.4,336.2 236.7,337.4 235,339.4 225.6,340.6 220.6,338.8 216.3,338.4 219.6,337 224.4,335.4" fill="#d6d6dc"/><polygon points="240.9,337.3 238.4,338.3 235.7,337.8 234.6,336.5 235.9,334.8 239.8,334.5 241.3,335" fill="#fcfcfc"/><polygon points="248.3,334.3 251.8,334.7 256.2,334.9 256,337.1 252.6,337.9 249.7,338.6 245.1,337.9 242.7,336.6 243.3,335" fill="#f0f0f2"/><polygon points="29,345.1 23.8,346.1 17,344.2 15.8,341.1 17.8,338.6 21,338.4 30,339 29.6,340.8 30.9,343.4" fill="#f0ecf4"/><polygon points="44.6,338.1 54.5,340.2 55,342.4 47.5,344.3 44.6,345.8 38.3,345 30.6,341.9 31.5,340.6 37.2,337.8" fill="#40b0b0"/><polygon points="54.4,346.6 51,343.3 52.7,341.5 53.9,339.6 59.4,338.6 62.9,340.4 64.3,343.7 62.7,345.1 58.6,347.3" fill="#d8d8de"/><polygon points="87.4,340.1 86.6,342.1 81.3,345.8 74.1,345.2 72,345.2 65.1,342.4 69.2,340.5 76.1,339.3 82.8,339.8" fill="#30a090"/><polygon points="101.2,345.6 96,346.3 89.5,345.4 86.2,342.6 88.9,341.3 93.3,340 98.5,338.7 101.9,342.1 104,343.6" fill="#50c050"/><polygon points="111.3,339 113.1,340.7 112.7,343.8 110.4,345.2 108.5,346.7 103.4,344.7 104,343.4 102.8,339.8 108.7,338.4" fill="#30a090"/><polygon points="137.9,343.9 142.4,340.4 143.9,339.4 148.3,339.3 155.5,341.3 154.9,344.3 150.1,345.8 143.7,345.4 139.6,345.5" fill="#cfcfd6"/><polygon points="156,339.6 157.5,340.7 158.3,343.4 156.3,344.6 154,343.9 153.8,341.8 154.1,339.9" fill="#40b0b0"/><polygon points="168.1,345.5 161.4,344.3 158.5,343.1 158.3,341.1 162.7,338.1 167,338.3 171.5,339.3 172.3,342 169.4,343.6" fill="#fcfcfc"/><polygon points="177,340.1 178.2,342.5 176.1,345.9 173.1,345.7 171.9,343.4 172.3,340.9 174.8,338.6" fill="#e8e8ee"/><polygon points="191.3,341.6 191.2,340.9 196.4,339.1 200.9,339.6 202.9,341.6 203.4,342.9 201.8,344.1 196,345 193.8,345.5" fill="#f8f8f8"/><polygon points="210,342.6 209.7,343 207.9,344.9 204.4,344.1 201.6,342.4 202.9,341.3 204,338.5 206.3,337.8 209.5,339.5" fill="#cfcfd6"/><polygon points="224.3,340.4 225.4,342.9 221.1,344.1 216.9,345.6 213.9,345.1 209.1,342.6 212.6,340.8 213.8,339.8 221.1,339.4" fill="#d6d6dc"/><polygon points="254.1,340.8 255.9,343 254.7,344.6 250.6,346.8 246.4,345.5 239.4,343.9 238.1,342.6 241.9,340.3 246.1,338.6" fill="#7c68c0"/><polygon points="26.3,344.2 28.9,345.1 22.5,346.8 12.6,347.4 8.2,347 6.8,346.1 2.1,344.6 11.3,343.6 17.6,343.5" fill="#f0f0f2"/><polygon points="44,348.6 38.9,346.6 39.3,346.3 38.9,344.8 48.1,344.1 51.8,344.8 53.9,345.7 53.9,347.5 48.6,348.1" fill="#e4e4e8"/><polygon points="65.5,347.3 55.5,348.1 53.9,347.5 51.3,345.8 56.2,344.7 58.3,344.6 63.4,344.3 70.2,345.3 68.2,346.8" fill="#fcfcfc"/><polygon points="72,347.2 69.5,346.8 68.5,345.8 70.2,344.4 73.3,343.9 74.8,344.1 78.4,344.9 77.6,346.7 75.8,346.8" fill="#e4e4e8"/><polygon points="85.3,347.7 79.5,347.8 78.8,347.1 77.3,345.7 81.9,344.3 83.3,344.6 87.1,345 89.3,346 87,347.4" fill="#d8d8de"/><polygon points="125.3,345.5 125.7,345.8 125.9,346.9 124.2,348.1 122.3,348.4 119.2,347.5 118.3,347 118.4,345.8 120.9,345.5" fill="#d8d8de"/><polygon points="133.6,345.3 136.1,346.9 133.3,348.1 130.9,348.1 128.9,347.5 125.6,346.5 127.4,345.3 130.5,344.3 133.8,344.6" fill="#fcfcfc"/><polygon points="136.6,345.4 139,343.8 140.3,344.2 145,344.9 144.9,345.3 142.9,346.6 140.3,346.8 138.1,346.6 136.6,345.9" fill="#e4e4e8"/><polygon points="150.6,343.7 155.8,344.7 157.8,345.9 154.9,346.9 150.4,347.3 147.7,347.2 145.4,345.7 145.8,344.8 147.3,344.2" fill="#e4e4e8"/><polygon points="157.6,347 156.1,345.8 157.8,345 159.9,344.2 162.6,344.7 164.7,344.9 165.3,346.1 162,346.9 160.7,347.1" fill="#48a868"/><polygon points="181,348.2 175.5,348.6 171,348 165.1,347.1 163.4,346.4 168.8,344.6 174.7,344.7 180.7,345.7 185.2,346.5" fill="#cfcfd6"/><polygon points="179.7,346.1 184.4,345.9 188.6,344.6 200.2,345.1 200.9,345.9 201.2,347.6 196.5,348.3 187.4,348.2 180.2,347.6" fill="#30c0a0"/><polygon points="208.6,345.3 213.3,345.5 213.3,346.8 212.6,347.2 211.9,348.3 205.3,348.3 198.9,347.3 197.9,346.9 200.2,345.4" fill="#cfcfd6"/><polygon points="215.2,345.4 218.6,344.8 220.3,344.5 224,344.3 225.6,345.5 226.3,346.8 223.1,347.5 219.9,347.9 214.3,346.8" fill="#f0ecf4"/><polygon points="35.1,349.7 34.6,353 28.5,353.6 21.1,353.1 16.6,352.3 14.6,350.6 18.2,348.1 25.1,347.3 30.7,348.1" fill="#f8f8f8"/><polygon points="53.8,349.1 54.3,351.7 52.2,352.2 49,352.9 47.1,352.7 46.4,350.5 47.7,347.9 50,348 51.9,348.5" fill="#d6d6dc"/><polygon points="70.9,353.3 66.6,352.1 69.7,349.1 73.8,348.3 79.8,347.4 84.1,348.2 87,351.1 84.9,352.6 77.4,353.5" fill="#e4e4e8"/><polygon points="87.6,349.7 97.4,347.2 101.3,348.2 110.6,349.7 108.8,350.9 106.3,353.8 100.8,354 92.7,353.1 84,350.6" fill="#e4e4e8"/><polygon points="114.5,353 110.7,352.9 109.1,352.4 106.7,349.4 107.6,347.4 110.8,347.3 115.2,347.1 116.3,347.6 116.8,351" fill="#f0ecf4"/><polygon points="130.9,349.9 131.7,352.7 127.2,353.8 122.1,353.8 115.9,352.2 117.8,350.5 119.1,348.5 124.8,347.1 129.1,347.9" fill="#f0ecf4"/><polygon points="132.1,347.2 133.8,346.7 139.2,346.3 143.4,348.1 145.1,350.3 140.2,353.3 137.5,352.9 130.6,352.2 129.3,350.7" fill="#e4e4e8"/><polygon points="155.8,354.2 146.9,351.2 143.4,349.4 151,347.6 152,346.3 162.9,346.6 167.5,349.8 164.3,351 157.7,354" fill="#f0ecf4"/><polygon points="180.7,347.8 184.6,347.6 188.8,348.4 188.9,349.8 186.6,351.5 182.4,352.5 179.4,351.8 176.7,350.6 175.7,348.3" fill="#cfcfd6"/><polygon points="187.4,353.2 188.5,350.5 189.5,348.4 193.5,348.2 194.4,347.9 197.3,350.7 196.6,351.7 194.1,354 190.1,353.8" fill="#9870c8"/><polygon points="210.9,352.4 209.6,351.8 209,349 212.5,347.3 218.4,348.7 221.7,349.9 221.3,351.3 220.6,353.1 216,353.9" fill="#f0f0f2"/><polygon points="225.9,348.3 228.5,349.9 226,353.7 224.7,354.6 220.7,352.3 222.4,349.1 224.5,347.3" fill="#f0f0f2"/><polygon points="233.1,353.1 229.4,353 228.7,352 227.2,351 228.2,348.9 231.6,347.6 233.8,348.1 234.7,350.2 234.3,352.2" fill="#e0e0e6"/><polygon points="238.4,352.7 236,354.2 234.6,351.9 235.1,349 237.1,348.2 238.1,348.2 238.9,351.3" fill="#f8f8f8"/><polygon points="257.5,350.8 254.5,354.3 249,354.5 242,354 241.3,353 241.2,350.5 243.1,349.2 248.9,347 254.6,348.2" fill="#e0e0e6"/><polygon points="19.5,352.4 26.9,352.5 30,354.5 28.4,355.5 26.4,357.3 20.9,357.5 20.6,356.6 16,355.5 16.9,353.9" fill="#d8d8de"/><polygon points="37.5,356.5 32.9,356.7 29.7,355.6 31.8,354 33.9,352.4 39.4,352.1 40.4,353.4 41.5,354.8 41.7,356.3" fill="#f0ecf4"/><polygon points="49.4,355.1 46,356.5 44.1,355.4 44,353.7 45.4,352.4 48.6,352.6 50.5,354.6" fill="#e0e0e6"/><polygon points="66.2,354.2 71.5,355.7 66.4,356.8 60.3,357.6 58.5,357 53.5,356.3 51.1,354.7 55.1,353.4 58.2,352.9" fill="#d8d8de"/><polygon points="71.6,355.7 70,354.1 70.2,353.2 75.9,352.4 78.4,353.3 79.8,354.3 79.3,354.9 77.2,357 73.6,357.1" fill="#d8d8de"/><polygon points="82.7,356.1 80.8,355 80.8,353.8 84.2,352.9 85.6,352.3 89.3,353.5 89,354.6 89.7,355.9 86,356.4" fill="#fcfcfc"/><polygon points="94.2,353.2 96,354.5 95.9,355.5 92.2,356.9 90.6,355.7 90.2,354.6 91.2,353.1" fill="#d8d8de"/><polygon points="99.2,355.6 98.8,354.5 102.3,353.2 104.6,352.9 107.6,353.5 108.5,354.7 107.4,356.1 103.6,357 101.4,356.7" fill="#f8f8f8"/><polygon points="114.6,356.8 111.2,357.7 107.4,356.8 108.5,355 110,353.9 111.8,353.5 114.3,354.9" fill="#e8e8ee"/><polygon points="138.2,354.1 139.2,355.5 137.7,356.3 129.2,356.9 125.4,356.8 123.2,355.8 122.6,353.9 130.3,353.1 134.9,353" fill="#f0f0f2"/><polygon points="162.9,353.2 165.7,353.2 167.7,353.9 169.2,355 166.1,357 165.1,357.8 161.5,356.4 160,354.8 161.2,353.4" fill="#e4e4e8"/><polygon points="183.3,355.2 180.2,356.8 179,357.7 171.4,357.2 167.1,356.5 166,355.7 171.6,354.2 177.1,354 183.5,354.5" fill="#f0f0f2"/><polygon points="195.8,352.2 201.7,352.3 212.1,353.6 212.8,355.2 206.1,356.8 190.9,357.4 183.2,355.8 179.2,354.1 183.8,352.7" fill="#cfcfd6"/><polygon points="210.9,355.8 209.9,354.9 210.8,352.8 215.4,352.9 220.9,353.2 222.9,353.7 222.2,355.4 220.1,356.4 213.3,356.6" fill="#f0ecf4"/><polygon points="12.4,359.5 10.8,360.4 6,360.2 3.7,359.5 4.3,357.9 4.1,357 8.5,356.8 9.6,356.5 12.6,357.8" fill="#6878d0"/><polygon points="16.4,356.2 19.9,356.1 21.5,357.6 19,359.3 17.4,360.2 14.5,359.7 12.1,358.7 12.5,356.8 14.9,356" fill="#f8f8f8"/><polygon points="28.5,358.4 29.3,359.1 25.3,360.5 23.4,360.2 20.7,359.7 20.7,358 23.1,357 24.5,356.7 27.9,357.5" fill="#d8d8de"/><polygon points="30.9,360.1 29.8,358.7 34,357.7 43.9,356.6 49.2,357.6 50.4,359.1 50.3,359.7 41.7,361.1 35.3,360.7" fill="#b050b0"/><polygon points="51.9,359.9 51.4,358.8 50.6,358 53.7,357.5 56.3,357.3 57.7,358.6 57.5,360 55.4,360.7 52.7,360.4" fill="#e4e4e8"/><polygon points="67.2,358.7 67.2,360.4 64.3,360.8 61,360.7 58.1,360.1 58.6,358.1 59,357.4 63.5,357.3 65.6,357.9" fill="#f0ecf4"/><polygon points="82.2,358.4 83.6,359.5 77.7,360.4 72.4,361 67.3,359.8 68.9,358.6 71.8,357.5 76.7,356.7 78,356.4" fill="#f0ecf4"/><polygon points="85.9,356.9 86.8,357.8 85.5,360.2 83.2,359.8 81.6,358.6 82.2,357.4 83.5,356" fill="#d8d8de"/><polygon points="96.7,359.7 87.6,359.2 85.9,357.7 95.5,356.9 101.5,355.8 112.7,356.4 114.4,358.7 114.7,359.3 106.7,360.1" fill="#e4e4e8"/><polygon points="122.1,359.3 120.3,360.7 116.8,359.4 114.9,358.8 116.5,357.4 120,356.2 122.1,357.9" fill="#30c0a0"/><polygon points="131.2,359.9 130.6,358.9 135.5,357.2 140.7,356.9 142.8,357.1 147.5,358.2 146.1,359.6 142.6,360.4 137.4,360.5" fill="#cfcfd6"/><polygon points="157.2,356.2 165,356.9 164.5,358 164.8,359 160.8,359.6 154.9,359.9 147,359 147.6,357.8 152.6,356.6" fill="#f0ecf4"/><polygon points="193.2,358.4 192.2,360.1 189,361 181,360.9 179.4,359.6 178.7,358.1 181,357.6 187.6,356.8 192.4,356.9" fill="#cfcfd6"/><polygon points="197.9,361.1 195.7,359.9 196.3,358.6 198.7,356.9 203.7,356.8 204.8,357.8 210.1,359.5 208.7,360.6 204.3,360.9" fill="#e0e0e6"/><polygon points="222.2,359.9 216,360.5 212.2,360.4 211.7,359.7 211.6,358.3 211.2,357.3 219.9,357 221.3,358.2 221.5,359" fill="#e0e0e6"/><polygon points="223.8,358.5 222.6,357.4 229.1,356.6 233,356.6 236.3,356.8 238.9,358.8 234.9,360.7 227.5,360.3 226.2,360" fill="#e0e0e6"/><polygon points="250.3,357.7 253,358.9 255.4,359.7 249.3,360.8 248,360.9 242.3,361.1 239.1,359.7 241.8,357.5 245.4,357.5" fill="#f0ecf4"/><polygon points="43.6,360.4 48.9,361.6 48.6,362.5 40.7,363 39.4,363.4 32.8,362.7 32.6,361.6 37,360.1 39.8,360.1" fill="#f8f8f8"/><polygon points="57.3,361.6 56.4,363 54.2,363.6 48.8,363.1 48.7,362.2 48.8,361.3 50.7,360.3 53,360.2 56.1,360.9" fill="#d6d6dc"/><polygon points="60.9,360 63.9,360.4 66.7,360.4 68.5,362.3 66.2,362.8 62.2,363.1 58.2,362.8 57.4,361.6 57.6,361.3" fill="#f8f8f8"/><polygon points="75.3,362.6 70.2,362.9 66.7,361.6 68.4,360.4 70.4,360.1 77.5,360.1 81.5,360.6 84.2,361.3 79.7,362.6" fill="#f0ecf4"/><polygon points="83.3,362.5 84.3,360.8 86.6,360.9 89.8,360.7 90.1,362.1 91.4,363.1 88.7,363.9 85.4,364.4 84,363.5" fill="#fcfcfc"/><polygon points="101.1,362.7 96.1,363 93.5,363 89.7,361.6 91.3,361.1 94.3,360.7 98.4,360.3 104.4,360.8 104.6,361.4" fill="#e8e8ee"/><polygon points="104.5,362.1 107.5,360.6 109.4,360.4 113.7,361 113.6,362.3 113,362.9 111.4,364.3 107.9,363.6 104.8,363.6" fill="#f8f8f8"/><polygon points="166.4,363.7 162.9,363.8 163.2,362.6 163.2,361.2 166.7,361 168.5,360.9 170.5,361.9 172.1,362.5 168.9,363.7" fill="#fcfcfc"/><polygon points="177,364.2 173.8,363.2 173.9,362.3 176.4,361 180.9,360.4 183.8,361.1 188.7,362.3 188.2,363.5 181,363.9" fill="#7c68c0"/><polygon points="185.8,361.8 187.5,360.7 193.8,360 196.4,360.3 199,360.9 200,362.8 195.6,363.6 192.1,363.5 188.4,362.7" fill="#fcfcfc"/><polygon points="215.4,360.4 215.3,361.6 212.1,362.6 205.5,363.1 204.5,362.5 199.9,361.8 202.9,359.9 203.2,359.4 210.1,359.3" fill="#e4e4e8"/><polygon points="225.9,363.2 221.5,363 221.8,361.8 228.2,360.7 233.6,361.1 237.3,361.9 241.4,362.3 236.1,364 230.6,363.9" fill="#fcfcfc"/><polygon points="245.1,361.5 246,361.9 243.7,363.8 241.8,363.5 238.3,363.1 237.3,362 239,360.7 239,360.1 243.2,359.8" fill="#f8f8f8"/><polygon points="9.3,369.1 4.7,366.8 5.7,366.4 8.1,363.3 15,363.5 19.5,364 19.3,366 19.3,368 13,370.4" fill="#d6d6dc"/><polygon points="19.9,366.3 20.2,365.1 22.7,364.4 25.8,363.9 28.6,366.8 27.8,368.4 24.6,371.3 23.2,370.5 20.9,369.8" fill="#7c68c0"/><polygon points="32.8,370.4 29.5,368.4 28.3,367.7 30,364.7 33,364 34.5,364.3 36.5,366.8 36.9,367.6 35.5,369.2" fill="#e8e8ee"/><polygon points="39.9,371 37.5,369.3 37.7,366.9 36.3,365.2 39.3,362.9 43.3,363 45.5,366.1 45.8,368.6 45.2,369.8" fill="#f0f0f2"/><polygon points="48,363.9 50.8,363.5 51.9,367.1 49.9,368.5 46.4,368.6 45.4,367.2 46.5,363.8" fill="#f0f0f2"/><polygon points="57.7,368.3 53.2,369.4 52.4,367.7 51.2,364.3 53.6,362.3 57.2,363.1 58.5,366.8" fill="#e0e0e6"/><polygon points="65.9,368 62.6,370.6 59.5,370.1 58.2,368.7 57.7,365.5 60.8,363.1 64.2,362.2 64.4,364.1 65.4,366.8" fill="#7c68c0"/><polygon points="86.2,367.8 82.6,369.1 79.2,370.4 74.6,368.9 71.4,367.3 72.6,365.3 78.7,362.8 81.4,363.8 85.7,365.9" fill="#f0ecf4"/><polygon points="88.3,367.8 84.5,366.4 88.9,363.4 92.9,363.4 99,363.4 100.8,366.6 99.2,367.9 96.2,369.1 89.8,369.6" fill="#d6d6dc"/><polygon points="107.8,368.9 104.1,366.9 104,365.7 115.8,364 122.3,364.4 131.2,365.8 129,369.3 124.6,369.4 115.1,370" fill="#f0ecf4"/><polygon points="138.7,367.6 136.9,369.9 133.6,371.5 132.8,370.5 130.6,368.8 129.9,365.6 130.9,364.9 135.7,364.6 138.1,366.2" fill="#f0ecf4"/><polygon points="177.5,369.7 175.5,370.3 173.6,367.3 174,364.8 176.2,363.9 178.6,364.1 178.4,367.8" fill="#f0f0f2"/><polygon points="183.4,363.4 184.9,363.4 185.6,367.3 184.1,369.3 181.6,368.9 179.1,366.2 180.2,363.4" fill="#cfcfd6"/><polygon points="186.7,368 186,366.1 188.6,362.9 191.7,363.6 192,365.1 192.1,367.5 189.2,368.8" fill="#9870c8"/><polygon points="202.4,362.8 208.1,363.9 208.3,367.1 206.5,369.2 205.1,369.9 198.8,370.6 196.9,367.5 195.9,366.2 201.7,364" fill="#fcfcfc"/><polygon points="218.1,369.8 215.5,370.2 212.2,369.4 207.7,365.5 208,364 216.2,362 218.6,361.7 221.6,364.7 223.4,367.8" fill="#e8e8ee"/><polygon points="225.8,363.1 231,362.6 234.9,365.6 234.4,366.2 232.5,368.6 228.2,370 224.1,368.1 223.7,366.8 223.2,364" fill="#e4e4e8"/><polygon points="237.3,366.8 239,364.9 243.5,363.9 244,364.7 246.2,366.5 246.5,370.4 242.3,371.9 239.3,370.7 236.4,369.9" fill="#e0e0e6"/></g></g><rect x="8" y="189" width="230" height="172" fill="#333" filter="url(#nc2)" opacity="0.1"/><g filter="url(#bls)" opacity="0.8"><ellipse cx="103.05" cy="237.75" rx="20.25" ry="3.75" fill="#28b4b4"/><ellipse cx="72.5" cy="229.5" rx="12.5" ry="2.5" fill="#30a8b0"/><ellipse cx="113.2" cy="245.9" rx="7.6" ry="1.9" fill="#30c080"/><ellipse cx="90" cy="252" rx="5" ry="2" fill="#c040c0"/><ellipse cx="151" cy="245.3" rx="5" ry="2.5" fill="#8050c0"/><ellipse cx="134.7" cy="279.5" rx="13.9" ry="2.5" fill="#40d060"/><ellipse cx="104.25" cy="245.3" rx="3.75" ry="1.3" fill="#d0d040"/><ellipse cx="172.5" cy="333.5" rx="7.5" ry="3.5" fill="#7050d0"/><ellipse cx="190" cy="297.5" rx="10" ry="2.5" fill="#40c0a0"/><ellipse cx="37.5" cy="302.5" rx="7.5" ry="2.5" fill="#c050a0"/><ellipse cx="207.5" cy="252" rx="7.5" ry="2" fill="#5060d0"/><ellipse cx="27.5" cy="272" rx="7.5" ry="2" fill="#40b070"/></g><rect x="8" y="370" width="230" height="172" fill="#fdfdfd"/><g clip-path="url(#cle)"><g filter="url(#ble)"><path d="M9.47,386.35 L15.34,387.58 L20.24,388.56 L26.35,389.41 L32.47,391.25 L36.14,393.08 L37.98,394.31 L37.98,394.31 L35.53,397.37 L32.47,399.2 L27.58,400.43 L22.68,401.65 L17.79,402.87 L14.12,404.71 L11.67,407.16 L9.47,408.38Z" fill="#fdeaea"/><ellipse cx="11.3" cy="409.91" rx="1.84" ry="5.2" fill="#e66262"/><ellipse cx="12.77" cy="405.93" rx="2.32" ry="1.47" fill="#f09850"/><ellipse cx="42.87" cy="394.19" rx="4.28" ry="1.71" fill="#3048a8"/><ellipse cx="45.93" cy="394.31" rx="2.45" ry="1.22" fill="#308898"/><ellipse cx="67.22" cy="387.09" rx="1.22" ry="3.18" fill="#70c090"/><rect x="110.05" y="380.24" width="1.47" height="6.12" fill="#6080d0"/><ellipse cx="158.87" cy="385.13" rx="1.59" ry="1.47" fill="#3050b8"/><ellipse cx="168.66" cy="405.57" rx="4.89" ry="1.84" fill="#d0ece0"/><ellipse cx="157.04" cy="407.65" rx="3.06" ry="0.73" fill="#f0d0d8"/><ellipse cx="153.37" cy="419.39" rx="4.89" ry="1.84" fill="#f0d0d8"/><rect x="134.4" y="418.17" width="1.84" height="7.83" fill="#40c0a0"/><rect x="162.67" y="420" width="1.22" height="6" fill="#6a30c0"/><rect x="136.24" y="392.47" width="1.84" height="24.47" fill="#d4e4f6"/><ellipse cx="196.19" cy="414.13" rx="1.96" ry="1.1" fill="#f0a070"/><ellipse cx="208.92" cy="386.11" rx="2.45" ry="0.98" fill="#60b0a0"/><ellipse cx="218.22" cy="387.95" rx="3.18" ry="1.59" fill="#a8e4e4"/><ellipse cx="11.79" cy="455.98" rx="2.57" ry="2.08" fill="#e0e040"/><ellipse cx="16.57" cy="452.12" rx="2.69" ry="2.26" fill="#2030c0"/><ellipse cx="18.52" cy="461.49" rx="1.96" ry="1.47" fill="#a8d4e4"/><rect x="15.34" y="462.71" width="1.96" height="6.36" fill="#7060c0"/><rect x="90.84" y="427.84" width="2.08" height="9.42" fill="#3050b0"/><ellipse cx="100.51" cy="465.77" rx="1.71" ry="0.86" fill="#303030"/><ellipse cx="116.17" cy="477.39" rx="3.67" ry="1.47" fill="#a8d8c8"/><rect x="162.67" y="426" width="1.22" height="4.28" fill="#6030c0"/><ellipse cx="127.67" cy="479.47" rx="1.47" ry="1.1" fill="#3050c0"/><ellipse cx="173.56" cy="446.68" rx="0.86" ry="1.1" fill="#202020"/><ellipse cx="173.25" cy="449.68" rx="0.92" ry="1.04" fill="#202020"/><ellipse cx="189.95" cy="461" rx="4.53" ry="1.71" fill="#e8d020"/><rect x="218.46" y="473.72" width="2.69" height="10.28" fill="#6040c0"/><rect x="224.58" y="471.27" width="1.71" height="12.73" fill="#5080e0"/><ellipse cx="221.03" cy="471.76" rx="2.81" ry="1.47" fill="#f0a070"/><ellipse cx="217" cy="428.32" rx="2.2" ry="1.35" fill="#309080"/><ellipse cx="17.79" cy="493.18" rx="1.47" ry="2.08" fill="#5060c0"/><ellipse cx="15.95" cy="516.3" rx="2.08" ry="1.47" fill="#c08080"/><rect x="29.41" y="507.86" width="2.08" height="5.51" fill="#60d0b0"/><rect x="42.26" y="505.78" width="1.47" height="2.94" fill="#80dcc0"/><rect x="59.15" y="506.03" width="2.69" height="2.69" fill="#80dcc0"/><ellipse cx="100.38" cy="523.09" rx="8.69" ry="2.02" fill="#8040e0"/><ellipse cx="101.61" cy="523.16" rx="3.55" ry="1.22" fill="#f4f0ff"/><ellipse cx="102.1" cy="513.98" rx="0.86" ry="2.08" fill="#30b080"/><rect x="160.71" y="504.56" width="21.29" height="2.94" fill="#b0b0e8"/><ellipse cx="138.07" cy="529.27" rx="2.08" ry="1.47" fill="#70c0b0"/><ellipse cx="132.57" cy="503.27" rx="2.45" ry="2.14" fill="#80c0a0"/><rect x="186.65" y="497.22" width="1.71" height="6.97" fill="#40d070"/><ellipse cx="203.84" cy="488.53" rx="4.1" ry="1.1" fill="#f0b070"/><ellipse cx="216.69" cy="488.89" rx="2.26" ry="0.98" fill="#f0a060"/><rect x="218.46" y="484" width="2.94" height="3.18" fill="#9070d0"/><rect x="224.83" y="484" width="3.67" height="3.18" fill="#9070d0"/><g fill="none" stroke="#202020" stroke-width="1.1" stroke-linejoin="round"><path d="M23.91,372.89C24.62,372.69 26.66,371.98 28.19,371.67C29.72,371.36 31.35,371.02 33.08,371.06C34.82,371.1 36.86,371.51 38.59,371.92C40.32,372.32 42.06,372.94 43.49,373.51C44.91,374.08 45.73,374.93 47.16,375.34C48.58,375.75 50.42,376.06 52.05,375.95C53.68,375.85 55.52,375.14 56.95,374.73C58.37,374.32 59.11,373.81 60.62,373.51C62.13,373.2 65.1,373 66,372.89"/><path d="M23.91,380.24C24.52,379.93 26.15,378.91 27.58,378.4C29.01,377.89 30.64,377.48 32.47,377.18C34.31,376.87 36.55,376.63 38.59,376.57C40.63,376.5 42.67,376.71 44.71,376.81C46.75,376.91 48.79,377.18 50.83,377.18C52.87,377.18 54.91,376.95 56.95,376.81C58.98,376.67 61.55,376.46 63.06,376.32C64.57,376.18 65.51,376.01 66,375.95"/><path d="M9.47,386.35C10.45,386.56 13.55,387.21 15.34,387.58C17.14,387.95 18.4,388.25 20.24,388.56C22.07,388.86 24.32,388.96 26.35,389.41C28.39,389.86 30.84,390.64 32.47,391.25C34.1,391.86 35.23,392.57 36.14,393.08C37.06,393.59 36.96,394.1 37.98,394.31C39,394.51 40.73,394.31 42.26,394.31C43.79,394.31 45.73,394.51 47.16,394.31C48.58,394.1 49.6,393.59 50.83,393.08C52.05,392.57 53.07,391.76 54.5,391.25C55.93,390.74 57.48,390.28 59.39,390.03C61.31,389.77 64.9,389.77 66,389.72"/><path d="M37.98,394.31C37.57,394.82 36.45,396.55 35.53,397.37C34.61,398.18 33.8,398.69 32.47,399.2C31.15,399.71 29.21,400.02 27.58,400.43C25.95,400.83 24.32,401.24 22.68,401.65C21.05,402.06 19.22,402.36 17.79,402.87C16.36,403.38 15.14,404 14.12,404.71C13.1,405.42 12.45,406.54 11.67,407.16C10.9,407.77 9.84,408.18 9.47,408.38"/><path d="M36.14,397.37C36.04,397.77 35.33,399.1 35.53,399.81C35.74,400.53 36.45,401.24 37.37,401.65C38.28,402.06 39.81,402.12 41.04,402.26C42.26,402.4 43.69,402.61 44.71,402.51C45.73,402.4 46.14,401.69 47.16,401.65C48.18,401.61 49.6,401.75 50.83,402.26C52.05,402.77 53.48,403.69 54.5,404.71C55.52,405.73 56.13,407.26 56.95,408.38C57.76,409.5 58.37,410.62 59.39,411.44C60.41,412.25 61.96,412.76 63.06,413.27C64.16,413.78 65.51,414.29 66,414.5"/><path d="M28.19,414.5C28.5,414.09 29.11,412.66 30.03,412.05C30.94,411.44 32.27,411.13 33.7,410.83C35.12,410.52 36.96,410.22 38.59,410.22C40.22,410.22 41.96,410.48 43.49,410.83C45.01,411.17 46.95,411.58 47.77,412.3C48.58,413.01 48.48,414.33 48.38,415.11C48.28,415.88 48.18,416.54 47.16,416.95C46.14,417.35 44.1,417.45 42.26,417.56C40.43,417.66 37.98,417.66 36.14,417.56C34.31,417.45 32.51,417.21 31.25,416.95C29.98,416.68 29.07,416.37 28.56,415.97C28.05,415.56 28.25,414.74 28.19,414.5"/><path d="M9.47,421.84C10.04,421.94 11.71,422.45 12.89,422.45C14.08,422.45 15.34,422.1 16.57,421.84C17.79,421.57 19.01,421.06 20.24,420.86C21.46,420.66 22.68,420.45 23.91,420.62C25.13,420.78 26.15,421.43 27.58,421.84C29.01,422.25 30.64,422.76 32.47,423.06C34.31,423.37 36.55,423.47 38.59,423.68C40.63,423.88 42.67,424.08 44.71,424.29C46.75,424.49 48.79,424.9 50.83,424.9C52.87,424.9 54.91,424.49 56.95,424.29C58.98,424.08 61.55,423.78 63.06,423.68C64.57,423.57 65.51,423.68 66,423.68"/><path d="M66,372.89C66.82,372.81 69.67,372.61 70.89,372.41C72.12,372.2 72.57,371.79 73.34,371.67C74.12,371.55 75.03,371.36 75.54,371.67C76.05,371.98 76.46,372.73 76.4,373.51C76.34,374.28 75.89,375.44 75.18,376.32C74.46,377.2 73.14,378.28 72.12,378.77C71.1,379.26 70.08,379.06 69.06,379.26C68.04,379.45 66.51,379.82 66,379.93"/><path d="M66,379.93C66.82,379.88 69.26,379.47 70.89,379.62C72.53,379.78 74.46,380.34 75.79,380.85C77.11,381.36 77.42,382.28 78.85,382.68C80.28,383.09 82.42,383.19 84.35,383.3C86.29,383.4 88.43,383.36 90.47,383.3C92.51,383.23 94.96,383.07 96.59,382.93C98.22,382.79 99.24,382.68 100.26,382.44C101.28,382.19 102.1,381.93 102.71,381.46C103.32,380.99 103.97,380.24 103.93,379.62C103.89,379.01 102.83,378.3 102.46,377.79C102.1,377.28 101.65,376.89 101.73,376.57C101.81,376.24 102.38,375.83 102.95,375.83C103.52,375.83 104.69,376.14 105.16,376.57C105.63,376.99 105.87,377.79 105.77,378.4C105.67,379.01 104.65,379.73 104.54,380.24C104.44,380.75 105.05,381.26 105.16,381.46"/><path d="M78.85,382.68C78.34,383.09 76.91,384.32 75.79,385.13C74.67,385.95 73.34,386.86 72.12,387.58C70.89,388.29 69.47,389.06 68.45,389.41C67.43,389.77 66.41,389.67 66,389.72"/><path d="M105.16,380.24C105.97,380.03 108.42,379.46 110.05,379.01C111.68,378.56 113.31,377.95 114.95,377.54C116.58,377.14 118.33,376.83 119.84,376.57C121.35,376.3 123.31,376.06 124,375.95"/><path d="M104.54,382.44C105.46,382.89 108.32,384.58 110.05,385.13C111.78,385.68 113.52,385.64 114.95,385.74C116.37,385.84 117.6,385.6 118.62,385.74C119.64,385.89 120.86,386.09 121.06,386.6C121.27,387.11 119.64,388.23 119.84,388.8C120.04,389.37 121.59,389.82 122.29,390.03C122.98,390.23 123.71,390.03 124,390.03"/><path d="M102.71,408.38C102.71,408.69 102.1,409.71 102.71,410.22C103.32,410.73 104.75,411.13 106.38,411.44C108.01,411.74 110.66,411.85 112.5,412.05C114.33,412.25 115.96,412.36 117.39,412.66C118.82,412.97 119.96,413.42 121.06,413.89C122.16,414.36 123.51,415.21 124,415.48"/><path d="M102.71,408.38C103.32,408.14 104.75,407.22 106.38,406.91C108.01,406.61 110.66,406.54 112.5,406.54C114.33,406.54 115.76,406.77 117.39,406.91C119.02,407.05 121.19,407.36 122.29,407.4C123.39,407.44 123.71,407.2 124,407.16"/><path d="M66,414.5C66.82,414.8 69.47,416.13 70.89,416.33C72.32,416.54 73.34,416.03 74.57,415.72C75.79,415.42 77.22,414.8 78.24,414.5C79.26,414.19 79.66,414.05 80.68,413.89C81.7,413.72 83.23,413.32 84.35,413.52C85.48,413.72 87.21,414.54 87.41,415.11C87.62,415.68 86.5,416.48 85.58,416.95C84.66,417.41 83.13,417.72 81.91,417.92C80.68,418.13 79.46,418.23 78.24,418.17C77.01,418.11 75.79,417.86 74.57,417.56C73.34,417.25 71.51,416.54 70.89,416.33"/><path d="M66,420.62C66.61,420.41 68.45,419.8 69.67,419.39C70.89,418.98 72.12,418.47 73.34,418.17C74.57,417.86 75.59,417.56 77.01,417.56C78.44,417.56 81.09,418.07 81.91,418.17"/><path d="M87.41,415.11C87.92,415.42 89.35,416.44 90.47,416.95C91.59,417.45 92.92,417.86 94.14,418.17C95.37,418.47 96.39,418.78 97.81,418.78C99.24,418.78 101.08,418.47 102.71,418.17C104.34,417.86 105.97,417.45 107.6,416.95C109.23,416.44 110.87,415.62 112.5,415.11C114.13,414.6 115.76,413.89 117.39,413.89C119.02,413.89 121.19,414.84 122.29,415.11C123.39,415.37 123.71,415.42 124,415.48"/><path d="M85.58,426C85.99,425.31 87.01,422.84 88.03,421.84C89.05,420.84 90.27,420.41 91.7,420C93.12,419.6 94.76,419.29 96.59,419.39C98.43,419.49 100.87,420.21 102.71,420.62C104.54,421.02 105.97,421.53 107.6,421.84C109.23,422.15 110.87,422.66 112.5,422.45C114.13,422.25 115.96,421.13 117.39,420.62C118.82,420.11 119.96,419.49 121.06,419.39C122.16,419.29 123.51,419.9 124,420"/><path d="M130.73,374.12C130.87,373.95 131.24,373.34 131.59,373.14C131.93,372.94 132.36,372.83 132.81,372.89C133.26,372.96 133.99,373.2 134.28,373.51C134.56,373.81 134.69,374.42 134.52,374.73C134.36,375.04 133.79,375.28 133.3,375.34C132.81,375.4 132.01,375.3 131.59,375.1C131.16,374.89 130.87,374.28 130.73,374.12"/><path d="M124,375.95C124.82,376.06 127.26,376.42 128.89,376.57C130.53,376.71 132.16,376.89 133.79,376.81C135.42,376.73 137.83,376.63 138.68,376.08C139.54,375.53 138.72,374.34 138.93,373.51C139.13,372.67 139.34,371.61 139.91,371.06C140.48,370.51 141.95,370.35 142.35,370.2"/><path d="M138.68,376.08C140.32,376.16 145.21,376.44 148.47,376.57C151.74,376.69 155.41,376.71 158.26,376.81C161.12,376.91 163.97,377.32 165.6,377.18C167.23,377.03 166.83,376.26 168.05,375.95C169.27,375.65 171.31,375.34 172.95,375.34C174.58,375.34 176.33,375.95 177.84,375.95C179.35,375.95 181.31,375.44 182,375.34"/><path d="M124,379.62C124.82,379.52 127.47,379.32 128.89,379.01C130.32,378.71 131.85,377.69 132.57,377.79C133.28,377.89 133.38,378.91 133.18,379.62C132.97,380.34 132.26,381.36 131.34,382.07C130.42,382.79 128.89,383.45 127.67,383.91C126.45,384.37 124.61,384.67 124,384.82"/><path d="M124,384.82C124.82,384.88 127.47,384.98 128.89,385.13C130.32,385.28 131.55,385.74 132.57,385.74C133.59,385.74 133.38,385.44 135.01,385.13C136.64,384.82 140.11,384.21 142.35,383.91C144.6,383.6 146.43,383.4 148.47,383.3C150.51,383.19 152.96,383.19 154.59,383.3C156.22,383.4 157.45,383.4 158.26,383.91C159.08,384.42 158.67,385.95 159.49,386.35C160.3,386.76 161.73,386.46 163.16,386.35C164.58,386.25 166.42,385.84 168.05,385.74C169.68,385.64 171.31,385.64 172.95,385.74C174.58,385.84 176.33,386.46 177.84,386.35C179.35,386.25 181.31,385.33 182,385.13"/><path d="M158.26,384.15C158.06,384.72 157.24,386.5 157.04,387.58C156.83,388.66 156.63,389.92 157.04,390.64C157.45,391.35 158.26,391.35 159.49,391.86C160.71,392.37 162.54,393.29 164.38,393.7C166.22,394.1 168.46,394.31 170.5,394.31C172.54,394.31 174.7,394.1 176.62,393.7C178.53,393.29 181.1,392.17 182,391.86"/><path d="M124,390.03C124.82,389.98 127.47,389.98 128.89,389.78C130.32,389.58 131.75,389.37 132.57,388.8C133.38,388.23 133.79,386.86 133.79,386.35C133.79,385.84 132.77,385.84 132.57,385.74"/><path d="M124,394.31C124.82,394.31 127.26,394 128.89,394.31C130.53,394.61 132.57,395.63 133.79,396.14C135.01,396.65 134.81,397.47 136.24,397.37C137.66,397.27 140.32,396.14 142.35,395.53C144.39,394.92 146.43,394.21 148.47,393.7C150.51,393.19 152.76,392.78 154.59,392.47C156.43,392.17 158.67,391.96 159.49,391.86"/><path d="M133.79,396.14C133.59,396.76 132.57,398.59 132.57,399.81C132.57,401.04 132.77,402.57 133.79,403.49C134.81,404.4 136.64,404.81 138.68,405.32C140.72,405.83 143.58,406.28 146.03,406.54C148.47,406.81 151.53,407.22 153.37,406.91C155.2,406.61 155.81,404.87 157.04,404.71C158.26,404.55 159.49,405.83 160.71,405.93C161.93,406.03 163.36,405.73 164.38,405.32C165.4,404.91 166.22,404.4 166.83,403.49C167.44,402.57 167.95,401.04 168.05,399.81C168.15,398.59 167.85,397.06 167.44,396.14C167.03,395.23 165.91,394.61 165.6,394.31"/><path d="M124,407.16C124.61,407.05 126.45,406.54 127.67,406.54C128.89,406.54 130.53,406.65 131.34,407.16C132.16,407.67 132.57,408.79 132.57,409.6C132.57,410.42 132.16,411.44 131.34,412.05C130.53,412.66 128.89,412.7 127.67,413.27C126.45,413.85 124.61,415.11 124,415.48"/><path d="M153.37,406.91C153.77,407.16 154.79,408.18 155.81,408.38C156.83,408.58 158.67,408.5 159.49,408.14C160.3,407.77 160.5,406.5 160.71,406.18"/><path d="M163.16,405.32C163.77,405.01 165.4,403.83 166.83,403.49C168.25,403.14 170.5,403.14 171.72,403.24C172.95,403.34 173.76,403.55 174.17,404.1C174.58,404.65 174.78,405.93 174.17,406.54C173.56,407.16 171.93,407.56 170.5,407.77C169.07,407.97 166.83,408.03 165.6,407.77C164.38,407.5 163.56,406.59 163.16,406.18C162.75,405.77 163.16,405.46 163.16,405.32"/><path d="M168.05,399.81C168.87,399.71 171.31,399.3 172.95,399.2C174.58,399.1 176.33,399.25 177.84,399.2C179.35,399.15 181.31,398.95 182,398.9"/><path d="M131.34,412.05C132.16,412.25 134.4,413.17 136.24,413.27C138.07,413.38 140.32,412.87 142.35,412.66C144.39,412.46 146.43,412.25 148.47,412.05C150.51,411.85 152.55,411.64 154.59,411.44C156.63,411.23 158.67,411.03 160.71,410.83C162.75,410.62 164.79,410.32 166.83,410.22C168.87,410.11 171.11,410.11 172.95,410.22C174.78,410.32 176.33,410.73 177.84,410.83C179.35,410.93 181.31,410.83 182,410.83"/><path d="M124,415.48C125.02,415.72 128.08,416.8 130.12,416.95C132.16,417.09 134.2,416.33 136.24,416.33C138.28,416.33 140.72,416.64 142.35,416.95C143.99,417.25 144.6,418.07 146.03,418.17C147.45,418.27 149.29,417.56 150.92,417.56C152.55,417.56 154.18,417.86 155.81,418.17C157.45,418.47 159.08,419.29 160.71,419.39C162.34,419.49 163.97,419.19 165.6,418.78C167.23,418.37 168.87,417.45 170.5,416.95C172.13,416.44 173.48,415.87 175.39,415.72C177.31,415.57 180.9,415.98 182,416.03"/><path d="M182,375.34C183.02,375.04 186.28,374.12 188.12,373.51C189.95,372.89 191.79,372.28 193.01,371.67C194.24,371.06 195.05,370.14 195.46,369.84"/><path d="M191.79,369.84C192.2,370.35 193.22,372.18 194.24,372.89C195.26,373.61 196.68,374.12 197.91,374.12C199.13,374.12 200.35,373.4 201.58,372.89C202.8,372.38 204.23,371.57 205.25,371.06C206.27,370.55 207.29,370.04 207.7,369.84"/><path d="M182,375.34C182.61,375.65 184.86,376.46 185.67,377.18C186.49,377.89 186.08,378.81 186.89,379.62C187.71,380.44 189.14,381.36 190.57,382.07C191.99,382.79 193.83,383.5 195.46,383.91C197.09,384.32 198.52,384.32 200.35,384.52C202.19,384.72 204.23,385.03 206.47,385.13C208.72,385.23 211.37,385.09 213.81,385.13C216.26,385.17 218.71,385.42 221.16,385.38C223.6,385.33 226.25,385.03 228.5,384.89C230.74,384.74 232.94,384.58 234.62,384.52C236.29,384.46 237.88,384.52 238.53,384.52"/><path d="M182,385.13C182.82,385.13 185.47,384.93 186.89,385.13C188.32,385.33 189.55,385.95 190.57,386.35C191.59,386.76 193.01,387.07 193.01,387.58C193.01,388.09 191.59,389.01 190.57,389.41C189.55,389.82 188.32,389.62 186.89,390.03C185.47,390.43 182.82,391.55 182,391.86"/><path d="M204.03,386.35C204.43,386.25 205.25,385.74 206.47,385.74C207.7,385.74 209.94,386.15 211.37,386.35C212.79,386.56 213.81,386.97 215.04,386.97C216.26,386.97 217.49,386.46 218.71,386.35C219.93,386.25 221.77,385.95 222.38,386.35C222.99,386.76 222.99,388.09 222.38,388.8C221.77,389.52 219.93,390.23 218.71,390.64C217.49,391.05 215.65,391.15 215.04,391.25"/><path d="M193.01,387.58C193.83,387.68 196.07,388.19 197.91,388.19C199.74,388.19 202.9,387.37 204.03,387.58C205.15,387.78 204.03,388.9 204.64,389.41C205.25,389.92 206.37,390.43 207.7,390.64C209.02,390.84 211.37,390.43 212.59,390.64C213.81,390.84 214.22,391.25 215.04,391.86C215.85,392.47 216.47,393.7 217.49,394.31C218.5,394.92 220.14,395.02 221.16,395.53C222.18,396.04 222.99,396.65 223.6,397.37C224.22,398.08 224.42,399.2 224.83,399.81C225.23,400.43 225.03,400.94 226.05,401.04C227.07,401.14 229.52,400.63 230.95,400.43C232.37,400.22 233.35,399.92 234.62,399.81C235.88,399.71 237.88,399.81 238.53,399.81"/><path d="M182,391.86C183.02,391.86 186.08,391.96 188.12,391.86C190.16,391.76 192.2,391.45 194.24,391.25C196.28,391.05 198.72,390.84 200.35,390.64C201.99,390.43 203.41,390.13 204.03,390.03"/><path d="M182,398.9C183.02,399.09 186.08,399.7 188.12,400.06C190.16,400.42 192.2,400.77 194.24,401.04C196.28,401.3 198.52,401.65 200.35,401.65C202.19,401.65 203.41,401.24 205.25,401.04C207.08,400.83 209.12,400.59 211.37,400.43C213.61,400.26 216.47,400.12 218.71,400.06C220.95,400 223.4,400 224.83,400.06C226.25,400.12 226.87,400.36 227.27,400.43"/><path d="M205.25,401.04C205.35,401.45 205.05,402.91 205.86,403.49C206.68,404.06 208.41,404.26 210.14,404.46C211.88,404.67 214.22,404.71 216.26,404.71C218.3,404.71 220.75,404.67 222.38,404.46C224.01,404.26 225.03,403.95 226.05,403.49C227.07,403.02 228.29,402.16 228.5,401.65C228.7,401.14 227.48,400.63 227.27,400.43"/><path d="M182,403.49C183.02,403.59 186.08,403.89 188.12,404.1C190.16,404.3 192.2,404.61 194.24,404.71C196.28,404.81 198.42,404.91 200.35,404.71C202.29,404.5 204.94,403.69 205.86,403.49"/><path d="M228.5,401.65C228.91,401.96 230.95,402.98 230.95,403.49C230.95,404 229.11,404.2 228.5,404.71C227.89,405.22 227.07,406.03 227.27,406.54C227.48,407.05 228.7,407.46 229.72,407.77C230.74,408.07 232.37,408.48 233.39,408.38C234.41,408.28 235.64,407.77 235.84,407.16C236.04,406.54 235.02,405.32 234.62,404.71C234.21,404.1 232.74,403.79 233.39,403.49C234.05,403.18 237.68,402.98 238.53,402.87"/><path d="M182,410.83C183.02,410.93 186.08,411.23 188.12,411.44C190.16,411.64 192.2,412.05 194.24,412.05C196.28,412.05 198.32,411.74 200.35,411.44C202.39,411.13 204.43,410.52 206.47,410.22C208.51,409.91 210.55,409.75 212.59,409.6C214.63,409.46 216.67,409.46 218.71,409.36C220.75,409.26 222.79,409.05 224.83,408.99C226.87,408.93 229.52,409.09 230.95,408.99C232.37,408.89 232.98,408.48 233.39,408.38"/><path d="M194.24,414.5C195.26,414.19 198.32,413.32 200.35,412.66C202.39,412.01 205.45,410.93 206.47,410.58"/><path d="M182,416.03C182.82,416.08 185.26,416.38 186.89,416.33C188.53,416.28 190.57,416.03 191.79,415.72C193.01,415.42 193.42,414.8 194.24,414.5C195.05,414.19 195.66,413.89 196.68,413.89C197.7,413.89 198.72,414.4 200.35,414.5C201.99,414.6 204.43,414.4 206.47,414.5C208.51,414.6 210.55,414.91 212.59,415.11C214.63,415.31 216.67,415.52 218.71,415.72C220.75,415.93 222.79,416.13 224.83,416.33C226.87,416.54 228.66,416.74 230.95,416.95C233.23,417.15 237.27,417.45 238.53,417.56"/><path d="M194.24,414.5C194.03,414.91 193.42,415.93 193.01,416.95C192.6,417.96 191.79,419.49 191.79,420.62C191.79,421.74 191.99,422.96 193.01,423.68C194.03,424.39 195.66,424.59 197.91,424.9C200.15,425.2 203.82,425.41 206.47,425.51C209.12,425.61 211.37,425.71 213.81,425.51C216.26,425.31 219.12,424.69 221.16,424.29C223.2,423.88 224.42,423.47 226.05,423.06C227.68,422.66 228.86,422.04 230.95,421.84C233.03,421.64 237.27,421.84 238.53,421.84"/><path d="M8,427.84C8.82,428.04 11.26,428.75 12.89,429.06C14.53,429.36 15.95,429.77 17.79,429.67C19.62,429.57 22.07,428.86 23.91,428.45C25.74,428.04 27.48,427.63 28.8,427.22C30.13,426.82 31.35,426.2 31.86,426"/><path d="M31.86,426C31.96,426.31 31.55,427.22 32.47,427.84C33.39,428.45 35.53,429.16 37.37,429.67C39.2,430.18 41.65,430.59 43.49,430.89C45.32,431.2 47.16,431.1 48.38,431.51C49.6,431.91 49.81,432.63 50.83,433.34C51.85,434.06 53.07,435.18 54.5,435.79C55.93,436.4 57.48,436.71 59.39,437.01C61.31,437.32 64.9,437.52 66,437.62"/><path d="M15.34,431.51C16.77,431.3 21.05,430.59 23.91,430.28C26.76,429.98 29.01,429.57 32.47,429.67C35.94,429.77 41.85,430.28 44.71,430.89C47.56,431.51 48.99,432.32 49.6,433.34C50.22,434.36 49.2,435.99 48.38,437.01C47.56,438.03 46.34,438.75 44.71,439.46C43.08,440.17 40.83,440.89 38.59,441.3C36.35,441.7 33.29,441.81 31.25,441.91C29.21,442.01 28.19,441.7 26.35,441.91C24.52,442.11 22.07,442.72 20.24,443.13C18.4,443.54 16.97,443.95 15.34,444.35C13.71,444.76 11.67,445.33 10.45,445.58C9.22,445.82 8.41,445.78 8,445.82"/><path d="M10.45,445.58C11.26,445.78 13.71,446.39 15.34,446.8C16.97,447.21 18.6,448.03 20.24,448.03C21.87,448.03 23.7,447.41 25.13,446.8C26.56,446.19 27.78,445.17 28.8,444.35C29.82,443.54 30.84,442.32 31.25,441.91"/><path d="M25.13,446.8C24.72,447.41 22.48,449.55 22.68,450.47C22.89,451.39 25.33,451.9 26.35,452.31C27.37,452.72 27.78,452.92 28.8,452.92C29.82,452.92 31.05,452.41 32.47,452.31C33.9,452.21 35.74,452.1 37.37,452.31C39,452.51 40.63,453.23 42.26,453.53C43.89,453.84 45.73,454.14 47.16,454.14C48.58,454.14 49.2,453.74 50.83,453.53C52.46,453.33 55.11,453.23 56.95,452.92C58.78,452.61 60.33,452.16 61.84,451.7C63.35,451.24 65.31,450.42 66,450.17"/><path d="M45.93,448.64C46.75,448.43 48.99,447.72 50.83,447.41C52.66,447.11 55.31,447.11 56.95,446.8C58.58,446.5 59.8,445.48 60.62,445.58C61.43,445.68 61.02,446.9 61.84,447.41C62.66,447.92 64.82,448.18 65.51,448.64C66.2,449.1 65.92,449.91 66,450.17"/><path d="M45.93,448.64C46.54,448.94 48.18,449.96 49.6,450.47C51.03,450.98 52.87,451.39 54.5,451.7C56.13,452 57.96,452.21 59.39,452.31C60.82,452.41 62.45,452.31 63.06,452.31"/><path d="M44.71,439.46C45.73,439.26 48.79,438.54 50.83,438.24C52.87,437.93 54.91,437.73 56.95,437.62C58.98,437.52 61.55,437.62 63.06,437.62C64.57,437.62 65.51,437.62 66,437.62"/><path d="M8,455.37C8.61,455.37 10.24,455.27 11.67,455.37C13.1,455.47 15.14,455.98 16.57,455.98C17.99,455.98 18.81,455.57 20.24,455.37C21.66,455.16 23.7,455.06 25.13,454.76C26.56,454.45 28.19,453.74 28.8,453.53"/><path d="M10.45,461.49C10.86,461.69 12.08,462.3 12.89,462.71C13.71,463.12 13.91,463.52 15.34,463.93C16.77,464.34 19.62,464.85 21.46,465.16C23.3,465.46 24.72,465.56 26.35,465.77C27.99,465.97 29.82,466.48 31.25,466.38C32.68,466.28 34.1,465.97 34.92,465.16C35.74,464.34 36.35,462.71 36.14,461.49C35.94,460.26 34.82,458.83 33.7,457.81C32.57,456.79 30.84,455.47 29.41,455.37C27.99,455.27 26.66,456.69 25.13,457.2C23.6,457.71 21.87,458.02 20.24,458.43C18.6,458.83 16.77,459.55 15.34,459.65C13.91,459.75 12.89,459.18 11.67,459.04C10.45,458.9 8.61,458.83 8,458.79"/><path d="M8,471.89C8.82,471.99 11.26,472.4 12.89,472.5C14.53,472.6 16.16,472.6 17.79,472.5C19.42,472.4 21.05,472.19 22.68,471.89C24.32,471.58 26.15,471.17 27.58,470.66C29.01,470.15 30.23,469.44 31.25,468.83C32.27,468.22 33.29,467.3 33.7,466.99"/><path d="M9.22,479.84C10.04,479.64 12.49,478.78 14.12,478.62C15.75,478.45 17.59,478.55 19.01,478.86C20.44,479.17 22.28,479.78 22.68,480.45C23.09,481.12 22.48,482.39 21.46,482.9C20.44,483.41 18.2,483.41 16.57,483.51C14.93,483.61 12.89,483.82 11.67,483.51C10.45,483.2 9.63,482.29 9.22,481.68C8.82,481.06 9.22,480.15 9.22,479.84"/><path d="M66,474.95C65.51,475.35 63.35,476.47 63.06,477.39C62.78,478.31 63.8,479.89 64.29,480.45C64.78,481.01 65.71,480.71 66,480.76"/><path d="M78.24,426C78.64,426.16 79.46,426.77 80.68,426.98C81.91,427.18 84.15,427.28 85.58,427.22C87.01,427.16 88.64,426.71 89.25,426.61"/><path d="M66,437.62C67.02,437.52 69.47,437.22 72.12,437.01C74.77,436.81 78.85,436.44 81.91,436.4C84.97,436.36 88.43,436.5 90.47,436.77C92.51,437.03 92.72,437.75 94.14,437.99C95.57,438.24 97.61,438.36 99.04,438.24C100.47,438.11 101.08,437.5 102.71,437.26C104.34,437.01 107.2,436.81 108.83,436.77C110.46,436.73 111.07,436.77 112.5,437.01C113.93,437.26 115.48,438.03 117.39,438.24C119.31,438.44 122.9,438.24 124,438.24"/><path d="M111.27,436.4C111.89,435.99 113.52,434.46 114.95,433.95C116.37,433.44 118.33,433.34 119.84,433.34C121.35,433.34 123.31,433.85 124,433.95"/><path d="M94.14,428.45C94.76,428.75 96.79,429.87 97.81,430.28C98.83,430.69 98.83,431 100.26,430.89C101.69,430.79 104.34,430.08 106.38,429.67C108.42,429.26 110.25,428.75 112.5,428.45C114.74,428.14 117.92,427.94 119.84,427.84C121.76,427.73 123.31,427.84 124,427.84"/><path d="M97.57,430.65C97.65,431.1 98.18,432.49 98.06,433.34C97.94,434.2 97.08,435.01 96.84,435.79C96.59,436.56 96.63,437.62 96.59,437.99"/><path d="M66,455.37C67.02,455.33 70.08,455.12 72.12,455.12C74.16,455.12 76.2,455.29 78.24,455.37C80.28,455.45 82.32,455.51 84.35,455.61C86.39,455.71 88.43,455.82 90.47,455.98C92.51,456.14 94.55,456.45 96.59,456.59C98.63,456.73 101.08,456.67 102.71,456.84C104.34,457 105.36,457.37 106.38,457.57C107.4,457.77 107.4,458.22 108.83,458.06C110.25,457.9 113.11,456.94 114.95,456.59C116.78,456.24 118.33,456.18 119.84,455.98C121.35,455.77 123.31,455.47 124,455.37"/><path d="M106.38,457.57C106.18,457 105.16,455.53 105.16,454.14C105.16,452.76 105.36,450.37 106.38,449.25C107.4,448.13 109.44,448.03 111.27,447.41C113.11,446.8 115.56,446.09 117.39,445.58C119.23,445.07 121.19,444.81 122.29,444.35C123.39,443.9 123.71,443.08 124,442.82"/><path d="M108.83,458.06C109.03,458.43 109.03,459.79 110.05,460.26C111.07,460.73 113.31,460.87 114.95,460.87C116.58,460.87 118.33,460.26 119.84,460.26C121.35,460.26 123.31,460.77 124,460.87"/><path d="M66,474.95C66.82,474.84 69.26,474.54 70.89,474.33C72.53,474.13 74.16,474.03 75.79,473.72C77.42,473.42 79.05,472.91 80.68,472.5C82.32,472.09 83.95,471.52 85.58,471.27C87.21,471.03 88.43,470.93 90.47,471.03C92.51,471.13 95.37,471.64 97.81,471.89C100.26,472.13 103.12,472.29 105.16,472.5C107.2,472.7 108.42,472.91 110.05,473.11C111.68,473.31 113.52,473.42 114.95,473.72C116.37,474.03 117.6,474.54 118.62,474.95C119.64,475.35 120.17,475.79 121.06,476.17C121.96,476.55 123.51,477.06 124,477.24"/><path d="M66,480.76C67.02,480.85 70.08,481.05 72.12,481.31C74.16,481.56 76.2,482.23 78.24,482.29C80.28,482.35 82.32,481.88 84.35,481.68C86.39,481.47 88.23,481.27 90.47,481.06C92.72,480.86 95.77,480.66 97.81,480.45C99.85,480.25 101.08,479.94 102.71,479.84C104.34,479.74 105.97,480 107.6,479.84C109.23,479.68 110.87,479.17 112.5,478.86C114.13,478.55 115.48,478.27 117.39,478C119.31,477.73 122.9,477.37 124,477.24"/><path d="M124,427.84C125.22,428.14 128.89,429.26 131.34,429.67C133.79,430.08 136.24,430.18 138.68,430.28C141.13,430.38 143.58,430.22 146.03,430.28C148.47,430.34 150.92,430.65 153.37,430.65C155.81,430.65 158.26,430.55 160.71,430.28C163.16,430.02 166.01,429.47 168.05,429.06C170.09,428.65 170.62,428.19 172.95,427.84C175.27,427.48 180.49,427.07 182,426.92"/><path d="M153.37,430.65C153.57,431.3 154.69,433.4 154.59,434.57C154.49,435.73 152.76,436.81 152.76,437.62C152.76,438.44 154.28,439.15 154.59,439.46"/><path d="M124,438.24C124.41,438.44 125.63,438.95 126.45,439.46C127.26,439.97 128.69,440.79 128.89,441.3C129.1,441.81 128.49,442.26 127.67,442.52C126.86,442.77 124.61,442.77 124,442.82"/><path d="M128.89,441.3C129.71,441.4 132.16,441.7 133.79,441.91C135.42,442.11 136.64,442.52 138.68,442.52C140.72,442.52 143.78,442.21 146.03,441.91C148.27,441.6 150.1,441.09 152.14,440.68C154.18,440.28 156.02,439.77 158.26,439.46C160.5,439.15 163.77,439.05 165.6,438.85C167.44,438.64 168.05,438.44 169.27,438.24C170.5,438.03 171.52,437.83 172.95,437.62C174.37,437.42 176.33,437.11 177.84,437.01C179.35,436.91 181.31,437.01 182,437.01"/><path d="M168.05,438.24C168.25,437.83 168.46,436.4 169.27,435.79C170.09,435.18 171.52,434.87 172.95,434.57C174.37,434.26 176.33,434.21 177.84,433.95C179.35,433.7 181.31,433.19 182,433.04"/><path d="M139.05,445.33C139.19,445.07 139.46,444.11 139.91,443.74C140.36,443.38 141.09,443.11 141.74,443.13C142.4,443.15 143.35,443.5 143.82,443.86C144.29,444.23 144.6,444.84 144.56,445.33C144.52,445.82 144.05,446.45 143.58,446.8C143.11,447.15 142.4,447.41 141.74,447.41C141.09,447.41 140.11,447.15 139.66,446.8C139.21,446.45 139.15,445.58 139.05,445.33"/><path d="M124,455.37C124.82,455.57 127.47,456.14 128.89,456.59C130.32,457.04 132.16,457.45 132.57,458.06C132.97,458.67 131.95,459.69 131.34,460.26C130.73,460.83 130.12,461.38 128.89,461.49C127.67,461.59 124.82,460.98 124,460.87"/><path d="M132.57,458.06C133.38,458.43 135.62,459.59 137.46,460.26C139.3,460.93 141.33,461.59 143.58,462.1C145.82,462.61 148.47,463.01 150.92,463.32C153.37,463.63 156.02,464.03 158.26,463.93C160.5,463.83 162.95,463.12 164.38,462.71C165.81,462.3 165.4,461.79 166.83,461.49C168.25,461.18 171.11,460.98 172.95,460.87C174.78,460.77 176.33,460.84 177.84,460.87C179.35,460.91 181.31,461.04 182,461.08"/><path d="M124,460.87C125.02,461.18 128.08,462.3 130.12,462.71C132.16,463.12 134.2,462.91 136.24,463.32C138.28,463.73 141.54,464.24 142.35,465.16C143.17,466.07 141.13,467.6 141.13,468.83C141.13,470.05 141.54,471.48 142.35,472.5C143.17,473.52 144.39,474.54 146.03,474.95C147.66,475.35 150.51,475.15 152.14,474.95C153.77,474.74 155,474.54 155.81,473.72C156.63,472.91 157.04,471.27 157.04,470.05C157.04,468.83 155.61,467.3 155.81,466.38C156.02,465.46 157.85,464.85 158.26,464.54"/><path d="M158.26,464.54C159.28,464.61 162.75,464.61 164.38,464.91C166.01,465.22 166.62,466.03 168.05,466.38C169.48,466.73 171.72,466.99 172.95,466.99C174.17,466.99 174.58,466.89 175.39,466.38C176.21,465.87 177.23,464.65 177.84,463.93C178.45,463.22 178.86,462.4 179.06,462.1"/><path d="M157.04,470.05C157.65,470.25 159.28,470.87 160.71,471.27C162.14,471.68 163.97,472.19 165.6,472.5C167.23,472.8 169.07,473.11 170.5,473.11C171.93,473.11 173.35,472.29 174.17,472.5C174.98,472.7 175.6,473.72 175.39,474.33C175.19,474.95 173.96,475.66 172.95,476.17C171.93,476.68 170.7,477.19 169.27,477.39C167.85,477.6 165.81,477.6 164.38,477.39C162.95,477.19 161.73,476.58 160.71,476.17C159.69,475.76 159.08,475.35 158.26,474.95C157.45,474.54 156.22,473.93 155.81,473.72"/><path d="M124,477.24C124.82,477.16 127.26,476.76 128.89,476.78C130.53,476.81 132.16,477.19 133.79,477.39C135.42,477.6 137.05,478.21 138.68,478C140.32,477.8 142.35,476.68 143.58,476.17C144.8,475.66 145.62,475.15 146.03,474.95"/><path d="M124,477.24C124.61,477.67 126.45,479 127.67,479.84C128.89,480.68 130.12,481.59 131.34,482.29C132.57,482.98 134.4,483.71 135.01,484"/><path d="M148.47,484C149.29,483.31 151.94,480.94 153.37,479.84C154.79,478.74 155.81,478 157.04,477.39C158.26,476.78 160.1,476.37 160.71,476.17"/><path d="M182,426.92C183.02,426.97 186.08,427.07 188.12,427.22C190.16,427.38 192.81,427.43 194.24,427.84C195.66,428.24 195.66,429.47 196.68,429.67C197.7,429.87 198.72,429.26 200.35,429.06C201.99,428.86 204.43,428.45 206.47,428.45C208.51,428.45 210.55,428.86 212.59,429.06C214.63,429.26 216.67,429.47 218.71,429.67C220.75,429.87 222.79,430.18 224.83,430.28C226.87,430.38 229.11,430.38 230.95,430.28C232.78,430.18 234.58,429.77 235.84,429.67C237.1,429.57 238.08,429.67 238.53,429.67"/><path d="M196.68,429.67C196.79,430.08 196.89,431.51 197.3,432.12C197.7,432.73 197.6,433.04 199.13,433.34C200.66,433.65 204.03,433.75 206.47,433.95C208.92,434.16 211.77,434.36 213.81,434.57C215.85,434.77 216.87,435.08 218.71,435.18C220.54,435.28 223.81,435.18 224.83,435.18"/><path d="M182,433.04C182.82,433.09 185.26,433.19 186.89,433.34C188.53,433.49 190.16,433.79 191.79,433.95C193.42,434.12 195.87,434.26 196.68,434.32"/><path d="M182,437.01C182.41,436.85 183.94,435.99 184.45,436.03C184.96,436.07 185.16,436.89 185.06,437.26C184.96,437.62 184.35,438.28 183.84,438.24C183.33,438.2 182.31,437.22 182,437.01"/><path d="M201.58,434.81C202.39,434.87 204.84,435.05 206.47,435.18C208.1,435.3 210.14,435.24 211.37,435.54C212.59,435.85 212.79,436.46 213.81,437.01C214.83,437.56 216.26,438.34 217.49,438.85C218.71,439.36 219.73,439.77 221.16,440.07C222.58,440.38 224.42,440.48 226.05,440.68C227.68,440.89 229.31,441.3 230.95,441.3C232.58,441.3 234.58,440.83 235.84,440.68C237.1,440.54 238.08,440.48 238.53,440.44"/><path d="M182,441.91C182.82,442.11 185.26,442.62 186.89,443.13C188.53,443.64 190.36,444.76 191.79,444.97C193.22,445.17 194.24,444.86 195.46,444.35C196.68,443.84 197.7,442.52 199.13,441.91C200.56,441.3 202.19,440.99 204.03,440.68C205.86,440.38 208.51,440.28 210.14,440.07C211.77,439.87 212.59,439.66 213.81,439.46C215.04,439.26 216.87,438.95 217.49,438.85"/><path d="M199.13,441.91C199.03,442.32 198.42,443.33 198.52,444.35C198.62,445.37 198.82,447.11 199.74,448.03C200.66,448.94 202.5,449.45 204.03,449.86C205.55,450.27 207.29,450.47 208.92,450.47C210.55,450.47 212.18,450.06 213.81,449.86C215.45,449.66 217.08,449.45 218.71,449.25C220.34,449.05 221.97,448.84 223.6,448.64C225.23,448.43 226.87,448.33 228.5,448.03C230.13,447.72 231.72,447.21 233.39,446.8C235.06,446.39 237.68,445.78 238.53,445.58"/><path d="M219.93,449.25C220.34,448.94 220.95,447.82 222.38,447.41C223.81,447.01 226.66,447.01 228.5,446.8C230.33,446.6 232.58,446.29 233.39,446.19"/><path d="M204.03,449.86C204.13,450.37 204.64,451.9 204.64,452.92C204.64,453.94 203.72,455.37 204.03,455.98C204.33,456.59 205.25,456.49 206.47,456.59C207.7,456.69 210.65,457 211.37,456.59C212.08,456.18 211.37,454.76 210.76,454.14C210.14,453.53 208.72,453.12 207.7,452.92C206.68,452.72 205.15,452.92 204.64,452.92"/><path d="M182,461.08C182.82,460.84 185.26,459.79 186.89,459.65C188.53,459.51 190.16,460.36 191.79,460.26C193.42,460.16 195.05,459.55 196.68,459.04C198.32,458.53 199.95,457.61 201.58,457.2C203.21,456.79 205.66,456.69 206.47,456.59"/><path d="M211.37,456.59C212.18,456.49 214.63,455.88 216.26,455.98C217.89,456.08 219.52,456.59 221.16,457.2C222.79,457.81 224.42,459.14 226.05,459.65C227.68,460.16 229.31,460.26 230.95,460.26C232.58,460.26 234.58,459.85 235.84,459.65C237.1,459.45 238.08,459.14 238.53,459.04"/><path d="M196.68,459.04C197.3,459.65 198.72,461.89 200.35,462.71C201.99,463.52 204.43,463.83 206.47,463.93C208.51,464.03 210.55,463.52 212.59,463.32C214.63,463.12 216.87,462.71 218.71,462.71C220.54,462.71 222.18,463.12 223.6,463.32C225.03,463.52 226.05,463.93 227.27,463.93C228.5,463.93 229.72,463.52 230.95,463.32C232.17,463.12 233.35,462.81 234.62,462.71C235.88,462.61 237.88,462.71 238.53,462.71"/><path d="M182,461.08C183.02,461.45 186.08,462.84 188.12,463.32C190.16,463.8 192.2,463.63 194.24,463.93C196.28,464.24 199.03,464.54 200.35,465.16C201.68,465.77 201.17,467.09 202.19,467.6C203.21,468.11 204.74,468.11 206.47,468.22C208.21,468.32 211.16,468.42 212.59,468.22C214.02,468.01 214.63,467.2 215.04,466.99"/><path d="M212.59,468.22C212.79,468.83 213,471.07 213.81,471.89C214.63,472.7 216.06,473.01 217.49,473.11C218.91,473.21 221.16,473.01 222.38,472.5C223.6,471.99 224.42,470.97 224.83,470.05C225.23,469.13 225.44,467.71 224.83,466.99C224.22,466.28 222.58,465.87 221.16,465.77C219.73,465.67 217.69,465.97 216.26,466.38C214.83,466.79 213.2,467.91 212.59,468.22"/><path d="M224.83,466.99C225.85,467.09 229.11,467.4 230.95,467.6C232.78,467.81 234.58,468.11 235.84,468.22C237.1,468.32 238.08,468.22 238.53,468.22"/><path d="M8,489.51C9.02,489.4 12.08,489.2 14.12,488.89C16.16,488.59 18.81,487.98 20.24,487.67C21.66,487.36 22.48,487.47 22.68,487.06C22.89,486.65 21.87,485.73 21.46,485.22C21.05,484.71 20.44,484.2 20.24,484"/><path d="M22.68,487.06C23.3,487.36 25.54,488.18 26.35,488.89C27.17,489.61 26.97,490.63 27.58,491.34C28.19,492.06 29.21,493.08 30.03,493.18C30.84,493.28 31.45,492.57 32.47,491.95C33.49,491.34 34.92,490.12 36.14,489.51C37.37,488.89 38.59,488.28 39.81,488.28C41.04,488.28 42.47,488.79 43.49,489.51C44.5,490.22 45.12,491.44 45.93,492.57C46.75,493.69 47.77,495.42 48.38,496.24C48.99,497.05 49.4,497.26 49.6,497.46"/><path d="M39.81,488.28C40.63,488.38 42.87,488.79 44.71,488.89C46.54,489 48.79,489 50.83,488.89C52.87,488.79 54.91,488.49 56.95,488.28C58.98,488.08 61.55,487.84 63.06,487.67C64.57,487.5 65.51,487.31 66,487.24"/><path d="M8,496.24C9.22,496.24 12.89,496.24 15.34,496.24C17.79,496.24 20.24,496.24 22.68,496.24C25.13,496.24 27.58,496.24 30.03,496.24C32.47,496.24 34.92,496.24 37.37,496.24C39.81,496.24 42.67,496.13 44.71,496.24C46.75,496.34 47.56,496.85 49.6,496.85C51.64,496.85 54.21,496.36 56.95,496.24C59.68,496.11 64.49,496.13 66,496.11"/><path d="M8,509.08C8.61,508.88 10.04,508.17 11.67,507.86C13.3,507.55 15.55,507.45 17.79,507.25C20.03,507.05 22.68,506.84 25.13,506.64C27.58,506.43 30.23,506.17 32.47,506.03C34.72,505.88 36.55,505.78 38.59,505.78C40.63,505.78 42.67,505.94 44.71,506.03C46.75,506.11 48.79,506.17 50.83,506.27C52.87,506.37 55.11,506.68 56.95,506.64C58.78,506.6 60.33,506.3 61.84,506.03C63.35,505.75 65.31,505.16 66,504.99"/><path d="M8,513.98C8.61,513.98 10.45,513.77 11.67,513.98C12.89,514.18 14.32,514.79 15.34,515.2C16.36,515.61 16.97,516.53 17.79,516.43C18.6,516.32 19.42,515.2 20.24,514.59C21.05,513.98 21.87,513.06 22.68,512.76C23.5,512.45 24.42,512.45 25.13,512.76C25.84,513.06 26.35,514.04 26.97,514.59C27.58,515.14 27.88,515.9 28.8,516.06C29.72,516.22 30.84,515.81 32.47,515.57C34.1,515.32 36.55,514.75 38.59,514.59C40.63,514.43 42.67,514.49 44.71,514.59C46.75,514.69 48.79,515 50.83,515.2C52.87,515.41 55.11,515.67 56.95,515.81C58.78,515.96 60.33,516.1 61.84,516.06C63.35,516.02 65.31,515.65 66,515.57"/><path d="M28.8,516.06C29.01,516.53 29.21,518 30.03,518.87C30.84,519.75 32.27,520.61 33.7,521.32C35.12,522.03 36.76,522.75 38.59,523.16C40.43,523.56 42.67,523.67 44.71,523.77C46.75,523.87 48.99,524.07 50.83,523.77C52.66,523.46 54.5,522.65 55.72,521.93C56.95,521.22 57.96,520.4 58.17,519.49C58.37,518.57 57.15,516.94 56.95,516.43"/><path d="M15.34,515.2C14.93,515.81 13.51,517.96 12.89,518.87C12.28,519.79 11.47,520.2 11.67,520.71C11.87,521.22 13.3,521.52 14.12,521.93C14.93,522.34 15.95,522.54 16.57,523.16C17.18,523.77 17.79,524.79 17.79,525.6C17.79,526.42 17.38,527.44 16.57,528.05C15.75,528.66 14.12,528.97 12.89,529.27C11.67,529.58 9.84,529.78 9.22,529.89"/><path d="M54.5,529.27C54.91,528.87 55.72,527.34 56.95,526.83C58.17,526.32 60.33,526.03 61.84,526.22C63.35,526.4 65.31,527.64 66,527.93"/><path d="M54.5,529.27C54.91,529.58 55.72,530.74 56.95,531.11C58.17,531.48 60.33,531.48 61.84,531.48C63.35,531.48 65.31,531.17 66,531.11"/><path d="M8,537.84C9.02,537.68 12.08,537.11 14.12,536.86C16.16,536.62 18.2,536.41 20.24,536.37C22.28,536.33 24.32,536.53 26.35,536.62C28.39,536.7 30.64,536.76 32.47,536.86C34.31,536.96 35.33,537.27 37.37,537.23C39.41,537.19 42.47,536.68 44.71,536.62C46.95,536.55 48.79,536.86 50.83,536.86C52.87,536.86 54.42,536.81 56.95,536.62C59.47,536.42 64.49,535.85 66,535.7"/><path d="M36.14,537.23C36.35,537.09 36.96,536.37 37.37,536.37C37.77,536.37 38.59,536.94 38.59,537.23C38.59,537.51 37.77,538.08 37.37,538.08C36.96,538.08 36.35,537.37 36.14,537.23"/><path d="M66,487.24C66.82,487.31 69.26,487.4 70.89,487.67C72.53,487.95 74.36,488.38 75.79,488.89C77.22,489.4 78.03,490.53 79.46,490.73C80.89,490.93 82.52,490.42 84.35,490.12C86.19,489.81 88.84,489.4 90.47,488.89C92.1,488.38 92.92,487.57 94.14,487.06C95.37,486.55 96.39,486.14 97.81,485.84C99.24,485.53 101.08,485.12 102.71,485.22C104.34,485.33 106.38,485.84 107.6,486.45C108.83,487.06 109.23,488.38 110.05,488.89C110.87,489.4 111.27,489.4 112.5,489.51C113.72,489.61 115.48,489.54 117.39,489.51C119.31,489.48 122.9,489.35 124,489.32"/><path d="M79.46,490.73C80.07,490.93 81.7,491.65 83.13,491.95C84.56,492.26 86.39,492.57 88.03,492.57C89.66,492.57 91.29,492.06 92.92,491.95C94.55,491.85 96.18,491.85 97.81,491.95C99.45,492.06 101.08,492.26 102.71,492.57C104.34,492.87 105.97,493.18 107.6,493.79C109.23,494.4 111.27,495.62 112.5,496.24C113.72,496.85 113.93,497.46 114.95,497.46C115.96,497.46 117.11,496.59 118.62,496.24C120.13,495.88 123.1,495.47 124,495.32"/><path d="M66,496.11C66.82,496.13 69.26,496.22 70.89,496.24C72.53,496.26 74.57,496.64 75.79,496.24C77.01,495.83 77.22,494.5 78.24,493.79C79.26,493.08 81.3,492.26 81.91,491.95"/><path d="M75.79,496.24C76.6,496.44 78.85,497.05 80.68,497.46C82.52,497.87 84.76,498.28 86.8,498.68C88.84,499.09 91.08,499.5 92.92,499.91C94.76,500.32 96.18,500.93 97.81,501.13C99.45,501.33 101.08,501.33 102.71,501.13C104.34,500.93 105.97,500.42 107.6,499.91C109.23,499.4 111.27,498.48 112.5,498.07C113.72,497.66 114.54,497.56 114.95,497.46"/><path d="M66,504.99C66.82,504.85 69.26,504.42 70.89,504.19C72.53,503.96 74.16,503.78 75.79,503.58C77.42,503.37 79.05,503.17 80.68,502.97C82.32,502.76 83.95,502.5 85.58,502.35C87.21,502.21 88.84,502.11 90.47,502.11C92.1,502.11 93.74,502.35 95.37,502.35C97,502.35 99.45,502.15 100.26,502.11"/><path d="M68.45,505.41C68.35,505.92 67.84,507.35 67.84,508.47C67.84,509.59 67.94,511.23 68.45,512.14C68.96,513.06 69.67,513.57 70.89,513.98C72.12,514.39 74.16,514.28 75.79,514.59C77.42,514.9 79.26,515.3 80.68,515.81C82.11,516.32 83.13,516.83 84.35,517.65C85.58,518.47 87.01,519.89 88.03,520.71C89.05,521.52 89.86,522.03 90.47,522.54C91.08,523.05 91.49,523.56 91.7,523.77"/><path d="M107.6,517.04C107.81,516.43 108.22,514.49 108.83,513.37C109.44,512.25 110.25,511.12 111.27,510.31C112.29,509.49 113.52,508.88 114.95,508.47C116.37,508.06 118.33,508.06 119.84,507.86C121.35,507.66 123.31,507.35 124,507.25"/><path d="M107.6,517.04C108.22,517.24 109.64,517.96 111.27,518.26C112.91,518.57 115.27,518.87 117.39,518.87C119.51,518.87 122.9,518.36 124,518.26"/><path d="M66,523.16C66.82,523.26 69.26,523.56 70.89,523.77C72.53,523.97 74.36,524.07 75.79,524.38C77.22,524.69 78.24,525.5 79.46,525.6C80.68,525.71 81.7,525.3 83.13,524.99C84.56,524.69 86.6,524.07 88.03,523.77C89.45,523.46 91.08,523.26 91.7,523.16"/><path d="M79.46,525.6C79.66,526.01 79.87,527.54 80.68,528.05C81.5,528.56 83.13,528.46 84.35,528.66C85.58,528.87 87.21,528.76 88.03,529.27C88.84,529.78 88.43,531.01 89.25,531.72C90.06,532.44 91.49,533.35 92.92,533.56C94.35,533.76 96.18,533.25 97.81,532.95C99.45,532.64 100.87,532.03 102.71,531.72C104.54,531.42 106.79,531.21 108.83,531.11C110.87,531.01 112.91,531.01 114.95,531.11C116.98,531.21 119.55,531.48 121.06,531.72C122.57,531.96 123.51,532.4 124,532.54"/><path d="M66,527.93C66.82,528.11 69.26,528.76 70.89,529.03C72.53,529.29 74.36,529.27 75.79,529.52C77.22,529.76 78.24,529.93 79.46,530.5C80.68,531.07 82.11,532.33 83.13,532.95C84.15,533.56 84.56,534.07 85.58,534.17C86.6,534.27 88.64,533.66 89.25,533.56"/><path d="M66,535.7C66.61,535.85 68.45,536.26 69.67,536.62C70.89,536.97 72.32,537.23 73.34,537.84C74.36,538.45 75.18,539.59 75.79,540.29C76.4,540.98 76.81,541.71 77.01,542"/><path d="M112.5,542C112.91,541.31 114.13,538.94 114.95,537.84C115.76,536.74 116.17,536 117.39,535.39C118.62,534.78 121.19,534.64 122.29,534.17C123.39,533.69 123.71,532.81 124,532.54"/><path d="M128.89,484C129.1,484.31 129.3,485.43 130.12,485.84C130.93,486.24 132.36,486.35 133.79,486.45C135.22,486.55 137.26,486.65 138.68,486.45C140.11,486.24 141.64,485.63 142.35,485.22C143.07,484.82 142.86,484.2 142.97,484"/><path d="M124,489.32C124.82,489.25 127.47,489.17 128.89,488.89C130.32,488.62 131.55,487.47 132.57,487.67C133.59,487.87 133.59,489.61 135.01,490.12C136.44,490.63 138.89,490.63 141.13,490.73C143.37,490.83 146.03,490.73 148.47,490.73C150.92,490.73 153.37,490.83 155.81,490.73C158.26,490.63 160.71,490.32 163.16,490.12C165.6,489.91 168.87,489.51 170.5,489.51C172.13,489.51 171.72,489.81 172.95,490.12C174.17,490.42 176.33,491.14 177.84,491.34C179.35,491.55 181.31,491.34 182,491.34"/><path d="M165.6,484C166.01,484.41 167.03,485.53 168.05,486.45C169.07,487.36 171.11,489 171.72,489.51"/><path d="M124,495.32C124.82,495.47 127.26,496.08 128.89,496.24C130.53,496.39 132.67,496.64 133.79,496.24C134.91,495.83 135.42,494.77 135.62,493.79C135.83,492.81 135.11,490.93 135.01,490.36"/><path d="M135.62,493.79C136.13,494.4 137.56,496.44 138.68,497.46C139.81,498.48 140.72,499.3 142.35,499.91C143.99,500.52 146.43,500.72 148.47,501.13C150.51,501.54 152.96,501.84 154.59,502.35C156.22,502.86 157.24,503.58 158.26,504.19C159.28,504.8 159.28,505.62 160.71,506.03C162.14,506.43 164.79,506.54 166.83,506.64C168.87,506.74 170.42,506.84 172.95,506.64C175.47,506.43 180.49,505.62 182,505.41"/><path d="M124,502.35C124.82,502.25 127.26,501.95 128.89,501.74C130.53,501.54 132.16,501.33 133.79,501.13C135.42,500.93 137.26,500.72 138.68,500.52C140.11,500.32 141.74,500.01 142.35,499.91"/><path d="M128.89,502.35C129.1,502.86 129.3,504.7 130.12,505.41C130.93,506.13 132.36,506.33 133.79,506.64C135.22,506.94 137.05,506.94 138.68,507.25C140.32,507.55 141.95,508.06 143.58,508.47C145.21,508.88 146.84,509.59 148.47,509.7C150.1,509.8 151.94,509.49 153.37,509.08C154.79,508.68 156.22,508.06 157.04,507.25C157.85,506.43 158.06,504.7 158.26,504.19"/><path d="M124,510.92C124.61,511.12 126.45,511.53 127.67,512.14C128.89,512.76 129.91,513.98 131.34,514.59C132.77,515.2 134.4,515.81 136.24,515.81C138.07,515.81 140.32,514.9 142.35,514.59C144.39,514.28 146.64,514.18 148.47,513.98C150.31,513.77 152.14,513.02 153.37,513.37C154.59,513.71 155.41,515.61 155.81,516.06"/><path d="M124,518.26C125.02,518.16 128.69,517.45 130.12,517.65C131.55,517.85 132.26,518.57 132.57,519.49C132.87,520.4 131.75,522.03 131.95,523.16C132.16,524.28 133.08,525.4 133.79,526.22C134.5,527.03 134.81,527.54 136.24,528.05C137.66,528.56 140.32,529.03 142.35,529.27C144.39,529.52 146.43,529.62 148.47,529.52C150.51,529.42 152.55,528.91 154.59,528.66C156.63,528.42 158.87,528.56 160.71,528.05C162.54,527.54 164.38,526.42 165.6,525.6C166.83,524.79 167.85,523.97 168.05,523.16C168.25,522.34 167.64,521.42 166.83,520.71C166.01,520 164.58,519.49 163.16,518.87C161.73,518.26 159.49,517.51 158.26,517.04C157.04,516.57 156.22,516.22 155.81,516.06"/><path d="M148.47,519.73C149.08,519.32 150.92,517.83 152.14,517.28C153.37,516.73 155.2,516.57 155.81,516.43"/><path d="M168.05,523.16C168.87,523.26 171.31,523.56 172.95,523.77C174.58,523.97 176.33,524.28 177.84,524.38C179.35,524.48 181.31,524.38 182,524.38"/><path d="M124,532.54C124.82,532.2 127.26,530.94 128.89,530.5C130.53,530.06 132.57,530.25 133.79,529.89C135.01,529.52 135.83,528.56 136.24,528.3"/><path d="M148.47,529.52C148.68,530.09 149.08,531.76 149.7,532.95C150.31,534.13 151.33,535.8 152.14,536.62C152.96,537.43 153.16,537.64 154.59,537.84C156.02,538.04 158.67,537.94 160.71,537.84C162.75,537.74 164.79,537.23 166.83,537.23C168.87,537.23 171.11,537.64 172.95,537.84C174.78,538.04 176.33,538.29 177.84,538.45C179.35,538.61 181.31,538.76 182,538.82"/><path d="M124,537.84C125.02,537.94 128.08,538.25 130.12,538.45C132.16,538.66 134.2,539 136.24,539.06C138.28,539.12 140.32,538.92 142.35,538.82C144.39,538.72 146.84,538.82 148.47,538.45C150.1,538.08 151.53,536.92 152.14,536.62"/><path d="M182,491.34C183.02,491.14 186.08,490.53 188.12,490.12C190.16,489.71 192.2,489.2 194.24,488.89C196.28,488.59 198.32,488.28 200.35,488.28C202.39,488.28 204.43,488.69 206.47,488.89C208.51,489.1 210.55,489.51 212.59,489.51C214.63,489.51 216.67,489.2 218.71,488.89C220.75,488.59 222.79,487.98 224.83,487.67C226.87,487.36 229.31,487.06 230.95,487.06C232.58,487.06 233.35,487.67 234.62,487.67C235.88,487.67 237.88,487.16 238.53,487.06"/><path d="M182,501.13C182.61,500.72 184.45,499.7 185.67,498.68C186.89,497.66 188.63,496.24 189.34,495.01C190.06,493.79 189.95,492.16 189.95,491.34C189.95,490.53 189.44,490.32 189.34,490.12"/><path d="M182,505.41C182.82,505.41 185.26,505.31 186.89,505.41C188.53,505.52 190.36,505.82 191.79,506.03C193.22,506.23 194.03,506.43 195.46,506.64C196.89,506.84 198.52,507.05 200.35,507.25C202.19,507.45 204.64,507.66 206.47,507.86C208.31,508.06 209.33,508.37 211.37,508.47C213.41,508.57 216.47,508.47 218.71,508.47C220.95,508.47 222.79,508.37 224.83,508.47C226.87,508.57 228.66,508.98 230.95,509.08C233.23,509.19 237.27,509.08 238.53,509.08"/><path d="M195.46,509.94C195.66,509.7 195.97,508.8 196.68,508.47C197.4,508.15 198.68,507.94 199.74,507.98C200.8,508.02 202.33,508.35 203.05,508.72C203.76,509.08 204.11,509.72 204.03,510.19C203.94,510.65 203.27,511.25 202.56,511.53C201.84,511.82 200.72,511.92 199.74,511.9C198.76,511.88 197.4,511.74 196.68,511.41C195.97,511.08 195.66,510.19 195.46,509.94"/><path d="M216.26,499.66C216.57,499.36 216.98,498.19 218.1,497.83C219.22,497.46 221.26,497.4 222.99,497.46C224.73,497.52 227.38,497.83 228.5,498.19C229.62,498.56 229.76,499.17 229.72,499.66C229.68,500.15 229.37,500.78 228.25,501.13C227.13,501.48 224.75,501.74 222.99,501.74C221.24,501.74 218.85,501.48 217.73,501.13C216.61,500.78 216.51,499.91 216.26,499.66"/><path d="M211.37,508.47C211.57,509.08 212.59,510.92 212.59,512.14C212.59,513.37 211.16,515.1 211.37,515.81C211.57,516.53 212.59,516.22 213.81,516.43C215.04,516.63 216.87,516.83 218.71,517.04C220.54,517.24 222.79,517.65 224.83,517.65C226.87,517.65 229.31,517.34 230.95,517.04C232.58,516.73 233.35,516.12 234.62,515.81C235.88,515.51 237.88,515.3 238.53,515.2"/><path d="M211.37,515.81C210.96,516.22 210.14,517.65 208.92,518.26C207.7,518.87 205.66,519.08 204.03,519.49C202.39,519.89 200.76,520.3 199.13,520.71C197.5,521.12 195.26,521.42 194.24,521.93C193.22,522.44 193.22,523.46 193.01,523.77"/></g><path d="M23.8,370.1 H238.5 V541.6 H9.3 V386" fill="none" stroke="#303030" stroke-width="0.9"/></g></g><path d="M23.8,6.3 H238.4 V178.7 H8.4 V21.5" fill="none" stroke="#2a2a2a" stroke-width="0.8"/><path d="M23.8,189.3 H238.4 V360.7 H8.4 V204.5" fill="none" stroke="#2a2a2a" stroke-width="0.8"/><rect x="8" y="6" width="15.5" height="15.5" fill="#fff"/><text x="8.2" y="17.8" font-size="14.5" stroke="#000" stroke-width="0.35" font-family="Liberation Serif, Times New Roman, serif">(a)</text><rect x="179" y="161" width="58.5" height="16.5" fill="#fff"/><rect x="181" y="172" width="53" height="3.8" fill="#000"/><text x="193.2" y="170.4" font-size="10.4" textLength="29" lengthAdjust="spacingAndGlyphs" font-family="Liberation Serif, Times New Roman, serif">200 μm</text><rect x="8" y="189" width="15.5" height="15.5" fill="#fff"/><text x="8.2" y="200.8" font-size="14.5" stroke="#000" stroke-width="0.35" font-family="Liberation Serif, Times New Roman, serif">(c)</text><rect x="179" y="342.8" width="58.5" height="16.5" fill="#fff"/><rect x="181" y="353.8" width="53" height="3.8" fill="#000"/><text x="193.2" y="352.2" font-size="10.4" textLength="29" lengthAdjust="spacingAndGlyphs" font-family="Liberation Serif, Times New Roman, serif">200 μm</text><rect x="8" y="370" width="15.5" height="15.5" fill="#fff"/><text x="8.2" y="381.8" font-size="14.5" stroke="#000" stroke-width="0.35" font-family="Liberation Serif, Times New Roman, serif">(e)</text><rect x="181" y="535" width="53" height="3.8" fill="#000"/><text x="193.2" y="533.4" font-size="10.4" textLength="29" lengthAdjust="spacingAndGlyphs" font-family="Liberation Serif, Times New Roman, serif">200 μm</text><g clip-path="url(#cb)"><path d="M411.04,-29.06 L407.04,-30.25 L403.03,-31.16 L399.05,-31.78 L395.11,-32.11 L391.24,-32.15 L387.46,-31.91 L383.78,-31.39 L380.23,-30.6 L376.82,-29.54 L373.58,-28.23 L370.5,-26.67 L367.62,-24.87 L364.93,-22.86 L362.46,-20.64 L360.21,-18.22 L358.18,-15.62 L356.39,-12.85 L354.84,-9.94 L353.53,-6.89 L352.47,-3.71 L351.66,-0.43 L351.1,2.93 L350.78,6.38 L350.71,9.87 L350.89,13.42 L351.31,16.99 L351.97,20.57 L352.85,24.15 L353.97,27.71 L355.31,31.24 L356.85,34.72 L358.61,38.14 L360.56,41.49 L362.7,44.76 L365.02,47.92 L367.51,50.97 L370.16,53.89 L372.96,56.68 L375.89,59.32 L378.95,61.81 L382.11,64.12 L385.38,66.26 L388.74,68.21 L392.17,69.96 L395.66,71.5 L399.2,72.84 L402.77,73.95 L406.36,74.84 L409.95,75.49 L413.52,75.91 L417.08,76.09 L420.58,76.02 L424.03,75.7 L427.41,75.14 L430.69,74.33 L433.87,73.27 L436.93,71.97 L439.86,70.42 L442.63,68.63 L445.23,66.61 L447.66,64.36 L449.88,61.9 L451.9,59.22 L453.7,56.34 L455.26,53.27 L456.58,50.04 L457.64,46.64 L458.43,43.09 L458.95,39.43 L459.2,35.65 L459.15,31.79 L458.82,27.86 L458.2,23.89 L457.29,19.89 L456.1,15.89 L454.62,11.92 L452.86,7.99 L450.84,4.14 L448.56,0.37 L446.03,-3.27 L443.27,-6.78 L440.3,-10.13 L437.12,-13.29 L433.77,-16.26 L430.25,-19.02 L426.6,-21.54 L422.83,-23.81 L418.96,-25.83 L415.03,-27.58Z" fill="#4242c8" stroke="#303090" stroke-width="0.4"/><path d="M408.9,0.29 L407.33,-0.21 L405.75,-0.61 L404.17,-0.91 L402.6,-1.08 L401.06,-1.15 L399.54,-1.11 L398.05,-0.96 L396.61,-0.7 L395.22,-0.33 L393.88,0.15 L392.61,0.72 L391.4,1.4 L390.27,2.16 L389.22,3.02 L388.25,3.97 L387.37,4.99 L386.58,6.09 L385.89,7.26 L385.3,8.49 L384.8,9.78 L384.41,11.12 L384.12,12.5 L383.94,13.93 L383.86,15.38 L383.89,16.86 L384.02,18.35 L384.25,19.85 L384.59,21.36 L385.02,22.87 L385.56,24.36 L386.18,25.84 L386.9,27.29 L387.71,28.71 L388.6,30.1 L389.57,31.44 L390.62,32.74 L391.73,33.98 L392.92,35.16 L394.16,36.27 L395.46,37.32 L396.8,38.29 L398.19,39.17 L399.62,39.98 L401.08,40.7 L402.56,41.32 L404.05,41.85 L405.56,42.29 L407.07,42.62 L408.58,42.85 L410.08,42.98 L411.56,43.01 L413.02,42.93 L414.44,42.75 L415.83,42.46 L417.17,42.07 L418.46,41.58 L419.7,40.99 L420.87,40.3 L421.97,39.51 L423,38.63 L423.94,37.67 L424.8,36.62 L425.57,35.49 L426.25,34.29 L426.83,33.02 L427.3,31.68 L427.67,30.29 L427.93,28.85 L428.09,27.37 L428.13,25.86 L428.06,24.31 L427.88,22.75 L427.59,21.18 L427.19,19.6 L426.68,18.03 L426.06,16.47 L425.34,14.93 L424.53,13.43 L423.61,11.96 L422.61,10.53 L421.52,9.16 L420.34,7.86 L419.1,6.61 L417.79,5.44 L416.41,4.36 L414.99,3.35 L413.51,2.44 L412,1.62 L410.46,0.91Z" fill="#0a14b0" stroke="#202070" stroke-width="0.4"/><circle cx="263.5" cy="163.1" r="33.3" fill="#4242c8"/><circle cx="263.5" cy="163.1" r="27" fill="#0a18b8"/><circle cx="263.5" cy="163.1" r="23.8" fill="#1048bc"/><circle cx="263.5" cy="163.1" r="21" fill="#1066b8"/><circle cx="263.5" cy="163.1" r="18.4" fill="#10a0b0"/><circle cx="263.5" cy="163.1" r="16" fill="#08d0a8"/><circle cx="263.5" cy="163.1" r="13.9" fill="#10e860"/><circle cx="263.5" cy="163.1" r="11.9" fill="#70f420"/><circle cx="263.5" cy="163.1" r="9.9" fill="#e8f400"/><circle cx="263.5" cy="163.1" r="6.5" fill="#ff5a00"/><circle cx="263.5" cy="163.1" r="3" fill="#ff4000"/></g><path d="M263.5,163.1 L431.5,163.1 L431.49,159.81 L431.45,156.52 L431.38,153.22 L431.29,149.92 L431.18,146.62 L431.03,143.32 L430.86,140 L430.67,136.68 L430.45,133.35 L430.2,130.02 L429.92,126.67 L429.61,123.31 L429.28,119.94 L428.92,116.55 L428.52,113.15 L428.1,109.74 L427.65,106.31 L427.16,102.86 L426.64,99.39 L426.09,95.91 L425.5,92.4 L424.88,88.87 L424.22,85.32 L423.53,81.75 L422.79,78.15 L422.02,74.53 L421.21,70.88 L420.35,67.2 L419.45,63.5 L418.51,59.76 L417.51,56 L416.47,52.21 L415.38,48.39 L414.24,44.53 L413.05,40.65 L411.8,36.73 L410.49,32.78 L409.12,28.79 L407.69,24.78 L406.2,20.72Z" fill="none" stroke="#555" stroke-width="1.1" stroke-linejoin="miter"/><text x="255.5" y="18.6" font-size="14.5" stroke="#000" stroke-width="0.3" font-family="Liberation Serif, Times New Roman, serif">(b)</text><text x="256" y="172.9" font-size="6.6" fill="#333" font-family="Liberation Serif, Times New Roman, serif">[001]</text><text x="424.8" y="172.7" font-size="6.6" fill="#333" font-family="Liberation Serif, Times New Roman, serif">[011]</text><text x="399.2" y="13.2" font-size="6.6" fill="#333" font-family="Liberation Serif, Times New Roman, serif">[111]</text><line x1="401.86" y1="8.18" x2="404.24" y2="8.18" stroke="#333" stroke-width="0.46"/><rect x="438.2" y="18.2" width="5" height="146.3" fill="url(#gb)" stroke="#888" stroke-width="0.6"/><text x="446.4" y="159.5" font-size="6.6" fill="#444" font-family="Liberation Sans, Arial, sans-serif">1</text><text x="446.4" y="141.9" font-size="6.6" fill="#444" font-family="Liberation Sans, Arial, sans-serif">1.1</text><text x="446.4" y="124.3" font-size="6.6" fill="#444" font-family="Liberation Sans, Arial, sans-serif">1.2</text><text x="446.4" y="106.7" font-size="6.6" fill="#444" font-family="Liberation Sans, Arial, sans-serif">1.3</text><text x="446.4" y="89.1" font-size="6.6" fill="#444" font-family="Liberation Sans, Arial, sans-serif">1.4</text><text x="446.4" y="71.5" font-size="6.6" fill="#444" font-family="Liberation Sans, Arial, sans-serif">1.5</text><text x="446.4" y="53.9" font-size="6.6" fill="#444" font-family="Liberation Sans, Arial, sans-serif">1.6</text><text x="446.4" y="36.3" font-size="6.6" fill="#444" font-family="Liberation Sans, Arial, sans-serif">1.7</text><text transform="translate(468.6,164) rotate(-90)" font-size="8.55" fill="#222" font-family="Liberation Serif, Times New Roman, serif">Distribution of misorientation axis in mrd</text><g clip-path="url(#cd)"><path d="M265.4,338.9 L420.08,338.9 L420.07,335.93 L420.03,332.95 L419.97,329.98 L419.89,327 L419.78,324.02 L419.65,321.03 L419.5,318.04 L419.32,315.04 L419.11,312.03 L418.88,309.02 L418.63,306 L418.35,302.96 L418.04,299.92 L417.7,296.86 L417.34,293.79 L416.95,290.71 L416.53,287.61 L416.09,284.49 L415.61,281.36 L415.1,278.21 L414.56,275.04 L413.99,271.86 L413.38,268.65 L412.74,265.42 L412.07,262.17 L411.35,258.9 L410.6,255.6 L409.82,252.28 L408.99,248.94 L408.12,245.57 L407.2,242.17 L406.25,238.75 L405.24,235.29 L404.19,231.81 L403.09,228.3 L401.94,224.76 L400.74,221.19 L399.48,217.6 L398.16,213.97 L396.79,210.31Z" fill="#fff"/><circle cx="265.4" cy="338.9" r="14.5" fill="#4242c8" stroke="#222" stroke-width="0.5"/><path d="M300.5,293.9C301.5,294.9 304.68,298.22 306.5,299.9C308.32,301.58 309.77,302.23 311.4,304C313.03,305.77 314.93,308.05 316.3,310.5C317.67,312.95 318.83,315.98 319.6,318.7C320.37,321.42 320.62,322.42 320.9,326.8C321.18,331.18 321.23,341.97 321.3,345 L430,345 L430,190 L300,190 Z" fill="#4242c8"/><path d="M311.2,283.2C312.2,284.2 314.7,287.52 317.2,289.2C319.7,290.88 323.35,291.38 326.2,293.3C329.05,295.22 332.13,297.83 334.3,300.7C336.47,303.57 337.83,307.23 339.2,310.5C340.57,313.77 341.62,314.55 342.5,320.3C343.38,326.05 344.17,340.88 344.5,345 L430,345 L430,190 L300,190 Z" fill="#0a18b8"/><path d="M327.5,267.7C328.5,268.7 331.55,271.75 333.5,273.7C335.45,275.65 337.43,276.82 339.2,279.4C340.97,281.98 342.6,285.38 344.1,289.2C345.6,293.02 346.97,297.38 348.2,302.3C349.43,307.22 350.62,311.58 351.5,318.7C352.38,325.82 353.17,340.62 353.5,345 L430,345 L430,190 L300,190 Z" fill="#1066b8"/><path d="M339.4,255.5C340.4,256.5 343.47,259.07 345.4,261.5C347.33,263.93 349.45,266.82 351,270.1C352.55,273.38 353.58,277.3 354.7,281.2C355.82,285.1 356.67,289.42 357.7,293.5C358.73,297.58 359.75,301.2 360.9,305.7C362.05,310.2 363.58,313.95 364.6,320.5C365.62,327.05 366.6,340.92 367,345 L430,345 L430,190 L300,190 Z" fill="#10a0b0"/><path d="M347.5,248.1C348.5,249.1 351.07,252.07 353.5,254.1C355.93,256.13 359.63,257.83 362.1,260.3C364.57,262.77 366.67,265.42 368.3,268.9C369.93,272.38 370.68,277.1 371.9,281.2C373.12,285.3 374.17,289.42 375.6,293.5C377.03,297.58 378.85,301.62 380.5,305.7C382.15,309.78 384.07,314.32 385.5,318C386.93,321.68 388.25,323.3 389.1,327.8C389.95,332.3 390.35,342.13 390.6,345 L430,345 L430,190 L300,190 Z" fill="#08d8a8"/><path d="M356.1,240.3C357.1,241.3 359.47,244 362.1,246.3C364.73,248.6 368.62,251.37 371.9,254.1C375.18,256.83 378.52,259.62 381.8,262.7C385.08,265.78 388.73,269.12 391.6,272.6C394.47,276.08 396.55,279.72 399,283.6C401.45,287.48 404.25,291.8 406.3,295.9C408.35,300 410.35,304.52 411.3,308.2C412.25,311.88 412.22,314.73 412,318C411.78,321.27 410.45,323.3 410,327.8C409.55,332.3 409.42,342.13 409.3,345 L430,345 L430,190 L300,190 Z" fill="#10ee50"/><path d="M363.5,231.7C364.5,232.7 367.27,236 369.5,237.7C371.73,239.4 374.03,240.18 376.9,241.9C379.77,243.62 383.43,245.97 386.7,248C389.97,250.03 393.43,251.85 396.5,254.1C399.57,256.35 402.57,259.53 405.1,261.5C407.63,263.47 408.38,264.48 411.7,265.9C415.02,267.32 422.78,269.32 425,270 L430,345 L430,190 L300,190 Z" fill="#d8fa00"/><path d="M371.3,223.1C372.3,224.1 374.93,227.28 377.3,229.1C379.67,230.92 382.72,232.37 385.5,234C388.28,235.63 391.13,237.58 394,238.9C396.87,240.22 400.57,241.33 402.7,241.9C404.83,242.47 403.08,242.12 406.8,242.3C410.52,242.48 421.97,242.88 425,243 L430,345 L430,190 L300,190 Z" fill="#ff4c00"/><path d="M300.5,293.9C301.5,294.9 304.68,298.22 306.5,299.9C308.32,301.58 309.77,302.23 311.4,304C313.03,305.77 314.93,308.05 316.3,310.5C317.67,312.95 318.83,315.98 319.6,318.7C320.37,321.42 320.62,322.42 320.9,326.8C321.18,331.18 321.23,341.97 321.3,345" fill="none" stroke="#141414" stroke-width="0.7"/><path d="M311.2,283.2C312.2,284.2 314.7,287.52 317.2,289.2C319.7,290.88 323.35,291.38 326.2,293.3C329.05,295.22 332.13,297.83 334.3,300.7C336.47,303.57 337.83,307.23 339.2,310.5C340.57,313.77 341.62,314.55 342.5,320.3C343.38,326.05 344.17,340.88 344.5,345" fill="none" stroke="#141414" stroke-width="0.7"/><path d="M327.5,267.7C328.5,268.7 331.55,271.75 333.5,273.7C335.45,275.65 337.43,276.82 339.2,279.4C340.97,281.98 342.6,285.38 344.1,289.2C345.6,293.02 346.97,297.38 348.2,302.3C349.43,307.22 350.62,311.58 351.5,318.7C352.38,325.82 353.17,340.62 353.5,345" fill="none" stroke="#141414" stroke-width="0.7"/><path d="M339.4,255.5C340.4,256.5 343.47,259.07 345.4,261.5C347.33,263.93 349.45,266.82 351,270.1C352.55,273.38 353.58,277.3 354.7,281.2C355.82,285.1 356.67,289.42 357.7,293.5C358.73,297.58 359.75,301.2 360.9,305.7C362.05,310.2 363.58,313.95 364.6,320.5C365.62,327.05 366.6,340.92 367,345" fill="none" stroke="#141414" stroke-width="0.7"/><path d="M347.5,248.1C348.5,249.1 351.07,252.07 353.5,254.1C355.93,256.13 359.63,257.83 362.1,260.3C364.57,262.77 366.67,265.42 368.3,268.9C369.93,272.38 370.68,277.1 371.9,281.2C373.12,285.3 374.17,289.42 375.6,293.5C377.03,297.58 378.85,301.62 380.5,305.7C382.15,309.78 384.07,314.32 385.5,318C386.93,321.68 388.25,323.3 389.1,327.8C389.95,332.3 390.35,342.13 390.6,345" fill="none" stroke="#141414" stroke-width="0.7"/><path d="M356.1,240.3C357.1,241.3 359.47,244 362.1,246.3C364.73,248.6 368.62,251.37 371.9,254.1C375.18,256.83 378.52,259.62 381.8,262.7C385.08,265.78 388.73,269.12 391.6,272.6C394.47,276.08 396.55,279.72 399,283.6C401.45,287.48 404.25,291.8 406.3,295.9C408.35,300 410.35,304.52 411.3,308.2C412.25,311.88 412.22,314.73 412,318C411.78,321.27 410.45,323.3 410,327.8C409.55,332.3 409.42,342.13 409.3,345" fill="none" stroke="#141414" stroke-width="0.7"/><path d="M363.5,231.7C364.5,232.7 367.27,236 369.5,237.7C371.73,239.4 374.03,240.18 376.9,241.9C379.77,243.62 383.43,245.97 386.7,248C389.97,250.03 393.43,251.85 396.5,254.1C399.57,256.35 402.57,259.53 405.1,261.5C407.63,263.47 408.38,264.48 411.7,265.9C415.02,267.32 422.78,269.32 425,270" fill="none" stroke="#141414" stroke-width="0.7"/><path d="M371.3,223.1C372.3,224.1 374.93,227.28 377.3,229.1C379.67,230.92 382.72,232.37 385.5,234C388.28,235.63 391.13,237.58 394,238.9C396.87,240.22 400.57,241.33 402.7,241.9C404.83,242.47 403.08,242.12 406.8,242.3C410.52,242.48 421.97,242.88 425,243" fill="none" stroke="#141414" stroke-width="0.7"/></g><path d="M265.4,338.9 L420.08,338.9 L420.07,335.93 L420.03,332.95 L419.97,329.98 L419.89,327 L419.78,324.02 L419.65,321.03 L419.5,318.04 L419.32,315.04 L419.11,312.03 L418.88,309.02 L418.63,306 L418.35,302.96 L418.04,299.92 L417.7,296.86 L417.34,293.79 L416.95,290.71 L416.53,287.61 L416.09,284.49 L415.61,281.36 L415.1,278.21 L414.56,275.04 L413.99,271.86 L413.38,268.65 L412.74,265.42 L412.07,262.17 L411.35,258.9 L410.6,255.6 L409.82,252.28 L408.99,248.94 L408.12,245.57 L407.2,242.17 L406.25,238.75 L405.24,235.29 L404.19,231.81 L403.09,228.3 L401.94,224.76 L400.74,221.19 L399.48,217.6 L398.16,213.97 L396.79,210.31Z" fill="none" stroke="#444" stroke-width="1.1"/><text x="255.3" y="205.3" font-size="14.5" stroke="#000" stroke-width="0.3" font-family="Liberation Serif, Times New Roman, serif">(d)</text><text x="255.9" y="352.3" font-size="10.3" fill="#333" textLength="19.1" lengthAdjust="spacingAndGlyphs" font-family="Liberation Serif, Times New Roman, serif">[001]</text><text x="410.3" y="352.3" font-size="10.3" fill="#333" textLength="20" lengthAdjust="spacingAndGlyphs" font-family="Liberation Serif, Times New Roman, serif">[011]</text><text x="387.2" y="200.6" font-size="10.3" fill="#333" textLength="18.6" lengthAdjust="spacingAndGlyphs" font-family="Liberation Serif, Times New Roman, serif">[111]</text><line x1="390.66" y1="192.77" x2="393.75" y2="192.77" stroke="#333" stroke-width="0.72"/><rect x="428.3" y="207.6" width="7.6" height="132.4" fill="url(#gd)" stroke="#888" stroke-width="0.6"/><text x="440" y="345.15" font-size="9.6" fill="#2e2e2e" font-family="Liberation Sans, Arial, sans-serif">0.8</text><text x="440" y="313.75" font-size="9.6" fill="#2e2e2e" font-family="Liberation Sans, Arial, sans-serif">0.9</text><text x="440" y="282.35" font-size="9.6" fill="#2e2e2e" font-family="Liberation Sans, Arial, sans-serif">1</text><text x="440" y="250.95" font-size="9.6" fill="#2e2e2e" font-family="Liberation Sans, Arial, sans-serif">1.1</text><text x="440" y="219.55" font-size="9.6" fill="#2e2e2e" font-family="Liberation Sans, Arial, sans-serif">1.2</text><text transform="translate(466.5,341) rotate(-90)" font-size="8" fill="#222" font-family="Liberation Serif, Times New Roman, serif">Distribution of misorientation axis in mrd</text><g clip-path="url(#cf)"><path d="M264.5,524 L419.95,524 L419.93,520.96 L419.9,517.93 L419.84,514.89 L419.76,511.85 L419.65,508.8 L419.52,505.75 L419.36,502.7 L419.18,499.63 L418.97,496.56 L418.74,493.49 L418.49,490.4 L418.2,487.3 L417.89,484.19 L417.56,481.07 L417.19,477.93 L416.8,474.78 L416.38,471.62 L415.93,468.44 L415.45,465.24 L414.94,462.02 L414.4,458.79 L413.82,455.53 L413.21,452.26 L412.57,448.96 L411.89,445.64 L411.18,442.3 L410.42,438.94 L409.63,435.55 L408.8,432.13 L407.92,428.69 L407.01,425.22 L406.04,421.72 L405.04,418.19 L403.98,414.64 L402.87,411.05 L401.72,407.44 L400.51,403.8 L399.24,400.12 L397.92,396.41 L396.54,392.68Z" fill="#fff"/><path d="M313,464C314,465 316.83,467.33 319,470C321.17,472.67 323.5,476.67 326,480C328.5,483.33 331.5,486.67 334,490C336.5,493.33 339,496.67 341,500C343,503.33 344.77,505 346,510C347.23,515 348,526.67 348.4,530 L430,530 L430,375 L300,375 Z" fill="#4242c8"/><path d="M326,451C327,452 329.67,454.5 332,457C334.33,459.5 336.9,463.48 340,466C343.1,468.52 347.08,468.88 350.6,472.1C354.12,475.32 358.47,480.9 361.1,485.3C363.73,489.7 365.08,494.1 366.4,498.5C367.72,502.9 368.43,506.45 369,511.7C369.57,516.95 369.67,526.95 369.8,530 L430,530 L430,375 L300,375 Z" fill="#0a18b8"/><path d="M335.3,442.4C336.3,443.4 338.75,445.2 341.3,448.4C343.85,451.6 346.85,456.77 350.6,461.6C354.35,466.43 359.4,472.57 363.8,477.4C368.2,482.23 372.17,486.63 377,490.6C381.83,494.57 387.97,498.57 392.8,501.2C397.63,503.83 401.68,505.43 406,506.4C410.32,507.37 414.7,506.9 418.7,507C422.7,507.1 428.12,507 430,507 L430,530 L430,375 L300,375 Z" fill="#1066b8"/><path d="M343.2,435.8C344.2,436.8 346.22,438.83 349.2,441.8C352.18,444.77 356.92,449.87 361.1,453.6C365.28,457.33 369.45,461.12 374.3,464.2C379.15,467.28 385.35,470.33 390.2,472.1C395.05,473.87 399,474.13 403.4,474.8C407.8,475.47 412.17,475.9 416.6,476.1C421.03,476.3 427.77,476.02 430,476 L430,530 L430,375 L300,375 Z" fill="#10a0b0"/><path d="M350.4,429.2C351.4,430.2 353.73,432.67 356.4,435.2C359.07,437.73 362.53,441.42 366.4,444.4C370.27,447.38 374.77,450.9 379.6,453.1C384.43,455.3 389.77,456.63 395.4,457.6C401.03,458.57 407.63,458.67 413.4,458.9C419.17,459.13 427.23,458.98 430,459 L430,530 L430,375 L300,375 Z" fill="#08d8a8"/><path d="M357.2,422.6C358.2,423.6 360.78,426.28 363.2,428.6C365.62,430.92 368.53,434.08 371.7,436.5C374.87,438.92 378.25,441.35 382.2,443.1C386.15,444.85 390.55,446.12 395.4,447C400.25,447.88 405.53,448.23 411.3,448.4C417.07,448.57 426.88,448.07 430,448 L430,530 L430,375 L300,375 Z" fill="#10ee50"/><path d="M363.8,414.6C364.8,415.6 367.17,418.5 369.8,420.6C372.43,422.7 376.2,425.13 379.6,427.2C383,429.27 386.68,431.45 390.2,433C393.72,434.55 397.53,435.78 400.7,436.5C403.87,437.22 404.32,437.22 409.2,437.3C414.08,437.38 426.53,437.05 430,437 L430,530 L430,375 L300,375 Z" fill="#d8fa00"/><path d="M373.1,405.4C374.1,406.4 376.7,409.52 379.1,411.4C381.5,413.28 384.55,415.17 387.5,416.7C390.45,418.23 393.8,419.63 396.8,420.6C399.8,421.57 399.97,422.1 405.5,422.5C411.03,422.9 425.92,422.92 430,423 L430,530 L430,375 L300,375 Z" fill="#ff4c00"/><path d="M313,464C314,465 316.83,467.33 319,470C321.17,472.67 323.5,476.67 326,480C328.5,483.33 331.5,486.67 334,490C336.5,493.33 339,496.67 341,500C343,503.33 344.77,505 346,510C347.23,515 348,526.67 348.4,530" fill="none" stroke="#141414" stroke-width="0.7"/><path d="M326,451C327,452 329.67,454.5 332,457C334.33,459.5 336.9,463.48 340,466C343.1,468.52 347.08,468.88 350.6,472.1C354.12,475.32 358.47,480.9 361.1,485.3C363.73,489.7 365.08,494.1 366.4,498.5C367.72,502.9 368.43,506.45 369,511.7C369.57,516.95 369.67,526.95 369.8,530" fill="none" stroke="#141414" stroke-width="0.7"/><path d="M335.3,442.4C336.3,443.4 338.75,445.2 341.3,448.4C343.85,451.6 346.85,456.77 350.6,461.6C354.35,466.43 359.4,472.57 363.8,477.4C368.2,482.23 372.17,486.63 377,490.6C381.83,494.57 387.97,498.57 392.8,501.2C397.63,503.83 401.68,505.43 406,506.4C410.32,507.37 414.7,506.9 418.7,507C422.7,507.1 428.12,507 430,507" fill="none" stroke="#141414" stroke-width="0.7"/><path d="M343.2,435.8C344.2,436.8 346.22,438.83 349.2,441.8C352.18,444.77 356.92,449.87 361.1,453.6C365.28,457.33 369.45,461.12 374.3,464.2C379.15,467.28 385.35,470.33 390.2,472.1C395.05,473.87 399,474.13 403.4,474.8C407.8,475.47 412.17,475.9 416.6,476.1C421.03,476.3 427.77,476.02 430,476" fill="none" stroke="#141414" stroke-width="0.7"/><path d="M350.4,429.2C351.4,430.2 353.73,432.67 356.4,435.2C359.07,437.73 362.53,441.42 366.4,444.4C370.27,447.38 374.77,450.9 379.6,453.1C384.43,455.3 389.77,456.63 395.4,457.6C401.03,458.57 407.63,458.67 413.4,458.9C419.17,459.13 427.23,458.98 430,459" fill="none" stroke="#141414" stroke-width="0.7"/><path d="M357.2,422.6C358.2,423.6 360.78,426.28 363.2,428.6C365.62,430.92 368.53,434.08 371.7,436.5C374.87,438.92 378.25,441.35 382.2,443.1C386.15,444.85 390.55,446.12 395.4,447C400.25,447.88 405.53,448.23 411.3,448.4C417.07,448.57 426.88,448.07 430,448" fill="none" stroke="#141414" stroke-width="0.7"/><path d="M363.8,414.6C364.8,415.6 367.17,418.5 369.8,420.6C372.43,422.7 376.2,425.13 379.6,427.2C383,429.27 386.68,431.45 390.2,433C393.72,434.55 397.53,435.78 400.7,436.5C403.87,437.22 404.32,437.22 409.2,437.3C414.08,437.38 426.53,437.05 430,437" fill="none" stroke="#141414" stroke-width="0.7"/><path d="M373.1,405.4C374.1,406.4 376.7,409.52 379.1,411.4C381.5,413.28 384.55,415.17 387.5,416.7C390.45,418.23 393.8,419.63 396.8,420.6C399.8,421.57 399.97,422.1 405.5,422.5C411.03,422.9 425.92,422.92 430,423" fill="none" stroke="#141414" stroke-width="0.7"/></g><path d="M264.5,524 L419.95,524 L419.93,520.96 L419.9,517.93 L419.84,514.89 L419.76,511.85 L419.65,508.8 L419.52,505.75 L419.36,502.7 L419.18,499.63 L418.97,496.56 L418.74,493.49 L418.49,490.4 L418.2,487.3 L417.89,484.19 L417.56,481.07 L417.19,477.93 L416.8,474.78 L416.38,471.62 L415.93,468.44 L415.45,465.24 L414.94,462.02 L414.4,458.79 L413.82,455.53 L413.21,452.26 L412.57,448.96 L411.89,445.64 L411.18,442.3 L410.42,438.94 L409.63,435.55 L408.8,432.13 L407.92,428.69 L407.01,425.22 L406.04,421.72 L405.04,418.19 L403.98,414.64 L402.87,411.05 L401.72,407.44 L400.51,403.8 L399.24,400.12 L397.92,396.41 L396.54,392.68Z" fill="none" stroke="#444" stroke-width="1.1"/><text x="255.6" y="383.6" font-size="14.5" stroke="#000" stroke-width="0.3" font-family="Liberation Serif, Times New Roman, serif">(f)</text><text x="253.8" y="538.3" font-size="10.3" fill="#333" textLength="19.5" lengthAdjust="spacingAndGlyphs" font-family="Liberation Serif, Times New Roman, serif">[001]</text><text x="410" y="538.3" font-size="10.3" fill="#333" textLength="20" lengthAdjust="spacingAndGlyphs" font-family="Liberation Serif, Times New Roman, serif">[011]</text><text x="387" y="383.4" font-size="10.3" fill="#333" textLength="18.6" lengthAdjust="spacingAndGlyphs" font-family="Liberation Serif, Times New Roman, serif">[111]</text><line x1="390.46" y1="375.57" x2="393.55" y2="375.57" stroke="#333" stroke-width="0.72"/><rect x="428.2" y="390.3" width="7.4" height="136.1" fill="url(#gf)" stroke="#888" stroke-width="0.6"/><text x="440" y="516.35" font-size="9.6" fill="#2e2e2e" font-family="Liberation Sans, Arial, sans-serif">0.9</text><text x="440" y="484.82" font-size="9.6" fill="#2e2e2e" font-family="Liberation Sans, Arial, sans-serif">1</text><text x="440" y="453.29" font-size="9.6" fill="#2e2e2e" font-family="Liberation Sans, Arial, sans-serif">1.1</text><text x="440" y="421.76" font-size="9.6" fill="#2e2e2e" font-family="Liberation Sans, Arial, sans-serif">1.2</text><text transform="translate(464,534) rotate(-90)" font-size="8.65" fill="#222" font-family="Liberation Serif, Times New Roman, serif">Distribution of misorientation axis in mrd</text></svg>
</body></html>
